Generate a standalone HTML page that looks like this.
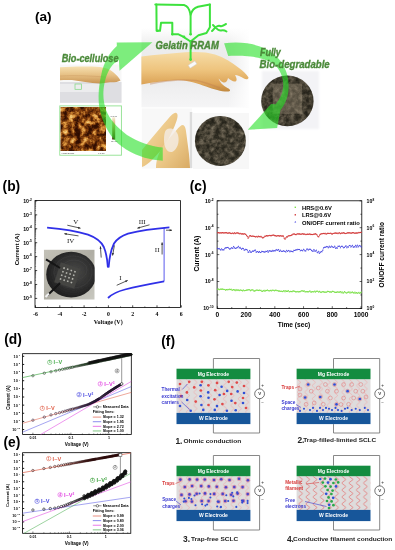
<!DOCTYPE html><html><head><meta charset="utf-8"><title>Gelatin RRAM</title><style>html,body{margin:0;padding:0;background:#fff;}svg{display:block;}</style></head><body>
<svg width="395" height="550" viewBox="0 0 395 550">
<defs>
<filter id="afm" x="0" y="0" width="100%" height="100%" color-interpolation-filters="sRGB">
 <feTurbulence type="fractalNoise" baseFrequency="0.16" numOctaves="4" seed="5"/>
 <feColorMatrix type="matrix" values="1 0 0 0 0  1 0 0 0 0  1 0 0 0 0  0 0 0 0 1"/>
 <feComponentTransfer>
  <feFuncR type="table" tableValues="0.15 0.17 0.22 0.5 0.84 0.96 1"/>
  <feFuncG type="table" tableValues="0.03 0.04 0.07 0.24 0.56 0.8 0.9"/>
  <feFuncB type="table" tableValues="0 0 0.01 0.05 0.22 0.48 0.6"/>
 </feComponentTransfer>
</filter>
<filter id="soil" x="0" y="0" width="100%" height="100%" color-interpolation-filters="sRGB">
 <feTurbulence type="fractalNoise" baseFrequency="0.2" numOctaves="4" seed="9"/>
 <feColorMatrix type="matrix" values="1 0 0 0 0  1 0 0 0 0  1 0 0 0 0  0 0 0 0 1"/>
 <feComponentTransfer>
  <feFuncR type="table" tableValues="0.12 0.14 0.18 0.27 0.38 0.47 0.53"/>
  <feFuncG type="table" tableValues="0.11 0.13 0.17 0.25 0.35 0.44 0.5"/>
  <feFuncB type="table" tableValues="0.09 0.1 0.13 0.2 0.29 0.37 0.42"/>
 </feComponentTransfer>
</filter>
<filter id="blur1"><feGaussianBlur stdDeviation="0.6"/></filter>
<filter id="blur2"><feGaussianBlur stdDeviation="1.2"/></filter>
<linearGradient id="skin" x1="0" y1="0" x2="0" y2="1">
 <stop offset="0" stop-color="#f6dca6"/><stop offset="0.45" stop-color="#eec47e"/><stop offset="0.8" stop-color="#dca458"/><stop offset="1" stop-color="#c08840"/>
</linearGradient>
<linearGradient id="skin2" x1="0" y1="0" x2="0" y2="1"><stop offset="0" stop-color="#f6e0b0"/><stop offset="0.5" stop-color="#e6c084"/><stop offset="1" stop-color="#c89454"/></linearGradient>
<linearGradient id="cbar" x1="0" y1="0" x2="0" y2="1">
 <stop offset="0" stop-color="#f8f0d8"/><stop offset="0.4" stop-color="#d0a060"/><stop offset="1" stop-color="#3a2000"/>
</linearGradient>
<linearGradient id="bgphoto" x1="0" y1="0" x2="0" y2="1">
 <stop offset="0" stop-color="#f0f0f0"/><stop offset="0.6" stop-color="#e9e9ea"/><stop offset="1" stop-color="#e6e6e8"/>
</linearGradient>
<clipPath id="disc1"><ellipse cx="287.4" cy="100.9" rx="26.2" ry="25.3"/></clipPath>
<clipPath id="disc2"><ellipse cx="220.4" cy="140.9" rx="25.5" ry="25"/></clipPath>
<clipPath id="afmclip"><rect x="60.5" y="107" width="45.5" height="44"/></clipPath>
<clipPath id="insetclip"><rect x="43.8" y="249.6" width="50.9" height="50.1"/></clipPath>
</defs>
<rect x="0" y="0" width="395" height="550" fill="#fff"/>
<text x="35.00" y="21.10" font-size="13.6" font-weight="bold" fill="#000" text-anchor="start" font-family='"Liberation Sans", Arial, sans-serif' font-style="normal" >(a)</text>
<g filter="url(#blur1)">
<rect x="60" y="64.5" width="61.5" height="38.3" fill="#f7f7f7"/>
<rect x="60" y="82" width="61.5" height="20.8" fill="#dedee2"/>
<rect x="60" y="84" width="40" height="8" fill="#ececee"/>
<path d="M60,67.2 C72,66.5 88,66.2 100,67 C106,67.5 110,69.5 113,72 C116,74.5 119,77.5 120.5,80.5 C118,82 114,82.5 110,82.3 L100,83.5 C90,83 80,81 72,80 C67,79.8 63,80 60,80.2 Z" fill="url(#skin2)"/>
<path d="M60,76 C75,75 92,76 105,77" stroke="#c08850" stroke-width="0.6" fill="none" opacity="0.5"/>
</g>
<rect x="75" y="84" width="6.5" height="5.3" fill="none" stroke="#7ed67e" stroke-width="0.7"/>
<rect x="59.8" y="105.9" width="61.6" height="49.3" fill="#fff" stroke="#8fe08f" stroke-width="0.9"/>
<g clip-path="url(#afmclip)"><rect x="60.5" y="107" width="45.5" height="44" filter="url(#afm)"/></g>
<rect x="112.2" y="117.2" width="3" height="22.3" fill="url(#cbar)"/>
<rect x="60.5" y="151.3" width="45.5" height="3" fill="#fff"/>
<text x="61.50" y="153.60" font-size="2.0" font-weight="normal" fill="#333" text-anchor="start" font-family='"Liberation Sans", Arial, sans-serif' font-style="normal" >Height Sensor</text>
<text x="104.50" y="153.60" font-size="2.0" font-weight="normal" fill="#333" text-anchor="end" font-family='"Liberation Sans", Arial, sans-serif' font-style="normal" >1.0 µm</text>
<text x="110.50" y="116.50" font-size="1.8" font-weight="normal" fill="#444" text-anchor="start" font-family='"Liberation Sans", Arial, sans-serif' font-style="normal" >77.3 µm</text>
<text x="110.50" y="141.80" font-size="1.8" font-weight="normal" fill="#444" text-anchor="start" font-family='"Liberation Sans", Arial, sans-serif' font-style="normal" >-95.1 nm</text>
<defs><linearGradient id="bg2" x1="0" y1="0" x2="0" y2="1"><stop offset="0" stop-color="#ffffff"/><stop offset="0.22" stop-color="#ededed"/><stop offset="0.6" stop-color="#e9e9ea"/><stop offset="0.8" stop-color="#f0f0f1"/><stop offset="1" stop-color="#f5f5f6"/></linearGradient><linearGradient id="fadeR" x1="0" y1="0" x2="1" y2="0"><stop offset="0" stop-color="#fff" stop-opacity="0"/><stop offset="1" stop-color="#fff" stop-opacity="0.9"/></linearGradient></defs>
<g filter="url(#blur1)">
<rect x="141.5" y="28" width="107.5" height="79.3" fill="url(#bg2)"/>
<rect x="228" y="28" width="21" height="79.3" fill="url(#fadeR)"/>
<path d="M141.4,56.5 C155,55 170,53.5 185,52.3 C197,51.5 207,52 215,54.5 C224,57.5 232,62.5 239,68 C243,71 247,74.5 248.5,77.5 C248.5,79.5 246,79.8 243.5,78.3 C240.5,76.5 237.5,75 235,75 C236.5,77.5 237.5,80.5 235.5,81.5 C233,82 230,79.5 228,78 C227.5,80.5 226,83 223.5,82.5 C221,82 220,79.5 218.5,78.5 C219.5,82 223,85.5 227.5,88 C230.5,89.5 231,91 228.5,91.5 C223,92 214,89.5 206,86.5 C198,83.5 188,80.5 178,80 C165,80.5 152,82.5 141.4,84.5 Z" fill="url(#skin)"/>
<path d="M150,84 C165,80.5 180,79 196,80.5 C205,82 212,85 220,88" stroke="#c08050" stroke-width="1.6" fill="none" opacity="0.4"/>
</g>
<rect x="262" y="71" width="57" height="58" fill="#f3f3f6" filter="url(#blur2)"/>
<g clip-path="url(#disc1)"><rect x="260" y="74" width="56" height="54" filter="url(#soil)"/>
<rect x="260" y="74" width="56" height="54" fill="#2e2a22" opacity="0.12"/>
<rect x="272.7" y="83.6" width="29.3" height="30.2" fill="#a89c84" opacity="0.35" filter="url(#blur1)"/></g>
<defs><linearGradient id="hand" x1="0" y1="0" x2="1" y2="1"><stop offset="0" stop-color="#f6e0b0"/><stop offset="0.5" stop-color="#ecc888"/><stop offset="1" stop-color="#d8aa64"/></linearGradient></defs>
<g filter="url(#blur1)">
<rect x="141.8" y="108.5" width="50.2" height="60" fill="#f8f8f8"/>
<rect x="189.8" y="112" width="2.5" height="56" fill="#dcdcdc"/>
<path d="M142,150 C150,140 160,128 168,119 C171,115 174,112.5 176,112.8 C178,113.5 178,117 176.5,121 C174.5,127 171,134 168,140 C164,147 158,154 152,160 C149,163 145,166 142,167 Z" fill="url(#hand)"/>
<path d="M156,168 C156,160 159,152 163,146 C167,141 172,135 176.5,130 C179,127 181,125 183,125 C185.5,126 186,130 186.5,135 C187.5,143 189,152 189.5,160 L190,168 Z" fill="url(#hand)"/>
<path d="M166,130 C170,127 176,129 178,135 C180,142 177,150 172,152 C167,153 164,147 164,140 C164,135 164.5,132 166,130 Z" fill="#f4ece6" opacity="0.8"/>
</g>
<rect x="193" y="113" width="56" height="56" fill="#f7f7f7" filter="url(#blur1)"/>
<g clip-path="url(#disc2)"><rect x="193" y="114" width="56" height="54" filter="url(#soil)"/></g>
<g stroke="#3ee23e" stroke-width="2.0" fill="none" stroke-linecap="round" stroke-linejoin="round" filter="url(#blur1)">
<path d="M155.3,4.6 L184,5 C187.5,5.8 189.8,10 190.6,14.8 C191.8,10.5 194,8 198,6.8 L209.9,4.6"/>
<path d="M156.4,4.6 L156.6,30.8 L160,30.8 L161,22.8 L172.3,22.8 L172.3,34.2 L178,34.2 L182.6,36.4 L190.6,41.5"/>
<path d="M209.9,4.6 L209.9,27.3 L206.5,33 L198.5,35.3 L190.6,41.5"/>
<path d="M190.6,14.8 L190.6,34.2"/>
<path d="M190.6,41.5 L190.6,59.4"/>
<path d="M212,31 C215,28 217,25 220,26 C222.5,27 224,25 226,24 M213,25 C216,28 218,31 221,30.5 C223,30 225,30.5 226.5,31.5"/>
</g>
<circle cx="157.5" cy="30.8" r="1.3" fill="#3ee23e"/>
<circle cx="190.6" cy="34.2" r="1.3" fill="#3ee23e"/>
<circle cx="190.6" cy="59.6" r="1.3" fill="#3ee23e"/>
<circle cx="172.3" cy="34.2" r="1.3" fill="#3ee23e"/>
<circle cx="184" cy="36.8" r="1.3" fill="#3ee23e"/>
<rect x="188.5" y="62.8" width="8" height="3.6" rx="0.5" fill="#fafafa" stroke="#cfcfcf" stroke-width="0.5" transform="rotate(-32 192.5 64.6)"/>
<path d="M162.8,147.6 C150,146.5 137,141.5 127,135 C118,128 110,120 106,110 C103.3,102 102.8,93 104,86 C105.5,77 109,68 114,63.5 L118.9,60 L119.5,70.7 L152.4,42.3 L116.7,42.6 L116.9,46 C109,53 103.5,63 101.2,75 C98.6,86 97.8,98 99.5,108 C101.5,120 108,134 118,143.5 C128,152 142,158 153.7,159.7 L162.8,160.7 Z" fill="rgba(40,225,40,0.6)" filter="url(#blur1)"/>
<path d="M224.1,43.2 C245,40.5 265,45 277,57 C285,65 289,76 288.6,88 C288.4,96 285.5,104 280.5,110 L277.1,128.1 L247.8,129.8 L271.1,103.9 L275.5,104.2 C280,99 283,93 283.2,86 C283.5,77 280,69 273,63.5 C263,57 248,55.2 228.2,55.9 Z" fill="rgba(40,225,40,0.6)" filter="url(#blur1)"/>
<text x="61.7" y="61.6" font-size="10.4" font-weight="bold" font-style="italic" fill="#4b8a3a" stroke="#4b8a3a" stroke-width="0.35" font-family='"Liberation Sans", Arial, sans-serif' textLength="56.8" lengthAdjust="spacingAndGlyphs">Bio-cellulose</text>
<text x="155.6" y="48.8" font-size="10.4" font-weight="bold" font-style="italic" fill="#4b8a3a" stroke="#4b8a3a" stroke-width="0.35" font-family='"Liberation Sans", Arial, sans-serif' textLength="63.2" lengthAdjust="spacingAndGlyphs">Gelatin RRAM</text>
<text x="260" y="55.9" font-size="10.4" font-weight="bold" font-style="italic" fill="#4b8a3a" stroke="#4b8a3a" stroke-width="0.35" font-family='"Liberation Sans", Arial, sans-serif' textLength="20.8" lengthAdjust="spacingAndGlyphs">Fully</text>
<text x="259.5" y="68.4" font-size="10.4" font-weight="bold" font-style="italic" fill="#4b8a3a" stroke="#4b8a3a" stroke-width="0.35" font-family='"Liberation Sans", Arial, sans-serif' textLength="70.2" lengthAdjust="spacingAndGlyphs">Bio-degradable</text>
<text x="2.60" y="191.40" font-size="13.8" font-weight="bold" fill="#000" text-anchor="start" font-family='"Liberation Sans", Arial, sans-serif' font-style="normal" >(b)</text>
<rect x="35.0" y="200.6" width="145.5" height="106.9" fill="none" stroke="#000" stroke-width="0.8"/>
<line x1="35.00" y1="200.90" x2="37.20" y2="200.90" stroke="#000" stroke-width="0.7" />
<text x="31.80" y="202.80" font-size="5.2" font-weight="bold" fill="#000" text-anchor="end" font-family='"Liberation Sans", Arial, sans-serif'>10<tspan font-size="3.22" dy="-2.18">-2</tspan></text>
<line x1="35.00" y1="214.83" x2="37.20" y2="214.83" stroke="#000" stroke-width="0.7" />
<text x="31.80" y="216.73" font-size="5.2" font-weight="bold" fill="#000" text-anchor="end" font-family='"Liberation Sans", Arial, sans-serif'>10<tspan font-size="3.22" dy="-2.18">-3</tspan></text>
<line x1="35.00" y1="210.64" x2="36.10" y2="210.64" stroke="#000" stroke-width="0.4" />
<line x1="35.00" y1="208.18" x2="36.10" y2="208.18" stroke="#000" stroke-width="0.4" />
<line x1="35.00" y1="206.44" x2="36.10" y2="206.44" stroke="#000" stroke-width="0.4" />
<line x1="35.00" y1="205.09" x2="36.10" y2="205.09" stroke="#000" stroke-width="0.4" />
<line x1="35.00" y1="203.99" x2="36.10" y2="203.99" stroke="#000" stroke-width="0.4" />
<line x1="35.00" y1="203.06" x2="36.10" y2="203.06" stroke="#000" stroke-width="0.4" />
<line x1="35.00" y1="202.25" x2="36.10" y2="202.25" stroke="#000" stroke-width="0.4" />
<line x1="35.00" y1="201.54" x2="36.10" y2="201.54" stroke="#000" stroke-width="0.4" />
<line x1="35.00" y1="228.76" x2="37.20" y2="228.76" stroke="#000" stroke-width="0.7" />
<text x="31.80" y="230.66" font-size="5.2" font-weight="bold" fill="#000" text-anchor="end" font-family='"Liberation Sans", Arial, sans-serif'>10<tspan font-size="3.22" dy="-2.18">-4</tspan></text>
<line x1="35.00" y1="224.57" x2="36.10" y2="224.57" stroke="#000" stroke-width="0.4" />
<line x1="35.00" y1="222.11" x2="36.10" y2="222.11" stroke="#000" stroke-width="0.4" />
<line x1="35.00" y1="220.37" x2="36.10" y2="220.37" stroke="#000" stroke-width="0.4" />
<line x1="35.00" y1="219.02" x2="36.10" y2="219.02" stroke="#000" stroke-width="0.4" />
<line x1="35.00" y1="217.92" x2="36.10" y2="217.92" stroke="#000" stroke-width="0.4" />
<line x1="35.00" y1="216.99" x2="36.10" y2="216.99" stroke="#000" stroke-width="0.4" />
<line x1="35.00" y1="216.18" x2="36.10" y2="216.18" stroke="#000" stroke-width="0.4" />
<line x1="35.00" y1="215.47" x2="36.10" y2="215.47" stroke="#000" stroke-width="0.4" />
<line x1="35.00" y1="242.69" x2="37.20" y2="242.69" stroke="#000" stroke-width="0.7" />
<text x="31.80" y="244.59" font-size="5.2" font-weight="bold" fill="#000" text-anchor="end" font-family='"Liberation Sans", Arial, sans-serif'>10<tspan font-size="3.22" dy="-2.18">-5</tspan></text>
<line x1="35.00" y1="238.50" x2="36.10" y2="238.50" stroke="#000" stroke-width="0.4" />
<line x1="35.00" y1="236.04" x2="36.10" y2="236.04" stroke="#000" stroke-width="0.4" />
<line x1="35.00" y1="234.30" x2="36.10" y2="234.30" stroke="#000" stroke-width="0.4" />
<line x1="35.00" y1="232.95" x2="36.10" y2="232.95" stroke="#000" stroke-width="0.4" />
<line x1="35.00" y1="231.85" x2="36.10" y2="231.85" stroke="#000" stroke-width="0.4" />
<line x1="35.00" y1="230.92" x2="36.10" y2="230.92" stroke="#000" stroke-width="0.4" />
<line x1="35.00" y1="230.11" x2="36.10" y2="230.11" stroke="#000" stroke-width="0.4" />
<line x1="35.00" y1="229.40" x2="36.10" y2="229.40" stroke="#000" stroke-width="0.4" />
<line x1="35.00" y1="256.62" x2="37.20" y2="256.62" stroke="#000" stroke-width="0.7" />
<text x="31.80" y="258.52" font-size="5.2" font-weight="bold" fill="#000" text-anchor="end" font-family='"Liberation Sans", Arial, sans-serif'>10<tspan font-size="3.22" dy="-2.18">-6</tspan></text>
<line x1="35.00" y1="252.43" x2="36.10" y2="252.43" stroke="#000" stroke-width="0.4" />
<line x1="35.00" y1="249.97" x2="36.10" y2="249.97" stroke="#000" stroke-width="0.4" />
<line x1="35.00" y1="248.23" x2="36.10" y2="248.23" stroke="#000" stroke-width="0.4" />
<line x1="35.00" y1="246.88" x2="36.10" y2="246.88" stroke="#000" stroke-width="0.4" />
<line x1="35.00" y1="245.78" x2="36.10" y2="245.78" stroke="#000" stroke-width="0.4" />
<line x1="35.00" y1="244.85" x2="36.10" y2="244.85" stroke="#000" stroke-width="0.4" />
<line x1="35.00" y1="244.04" x2="36.10" y2="244.04" stroke="#000" stroke-width="0.4" />
<line x1="35.00" y1="243.33" x2="36.10" y2="243.33" stroke="#000" stroke-width="0.4" />
<line x1="35.00" y1="270.55" x2="37.20" y2="270.55" stroke="#000" stroke-width="0.7" />
<text x="31.80" y="272.45" font-size="5.2" font-weight="bold" fill="#000" text-anchor="end" font-family='"Liberation Sans", Arial, sans-serif'>10<tspan font-size="3.22" dy="-2.18">-7</tspan></text>
<line x1="35.00" y1="266.36" x2="36.10" y2="266.36" stroke="#000" stroke-width="0.4" />
<line x1="35.00" y1="263.90" x2="36.10" y2="263.90" stroke="#000" stroke-width="0.4" />
<line x1="35.00" y1="262.16" x2="36.10" y2="262.16" stroke="#000" stroke-width="0.4" />
<line x1="35.00" y1="260.81" x2="36.10" y2="260.81" stroke="#000" stroke-width="0.4" />
<line x1="35.00" y1="259.71" x2="36.10" y2="259.71" stroke="#000" stroke-width="0.4" />
<line x1="35.00" y1="258.78" x2="36.10" y2="258.78" stroke="#000" stroke-width="0.4" />
<line x1="35.00" y1="257.97" x2="36.10" y2="257.97" stroke="#000" stroke-width="0.4" />
<line x1="35.00" y1="257.26" x2="36.10" y2="257.26" stroke="#000" stroke-width="0.4" />
<line x1="35.00" y1="284.48" x2="37.20" y2="284.48" stroke="#000" stroke-width="0.7" />
<text x="31.80" y="286.38" font-size="5.2" font-weight="bold" fill="#000" text-anchor="end" font-family='"Liberation Sans", Arial, sans-serif'>10<tspan font-size="3.22" dy="-2.18">-8</tspan></text>
<line x1="35.00" y1="280.29" x2="36.10" y2="280.29" stroke="#000" stroke-width="0.4" />
<line x1="35.00" y1="277.83" x2="36.10" y2="277.83" stroke="#000" stroke-width="0.4" />
<line x1="35.00" y1="276.09" x2="36.10" y2="276.09" stroke="#000" stroke-width="0.4" />
<line x1="35.00" y1="274.74" x2="36.10" y2="274.74" stroke="#000" stroke-width="0.4" />
<line x1="35.00" y1="273.64" x2="36.10" y2="273.64" stroke="#000" stroke-width="0.4" />
<line x1="35.00" y1="272.71" x2="36.10" y2="272.71" stroke="#000" stroke-width="0.4" />
<line x1="35.00" y1="271.90" x2="36.10" y2="271.90" stroke="#000" stroke-width="0.4" />
<line x1="35.00" y1="271.19" x2="36.10" y2="271.19" stroke="#000" stroke-width="0.4" />
<line x1="35.00" y1="298.41" x2="37.20" y2="298.41" stroke="#000" stroke-width="0.7" />
<text x="31.80" y="300.31" font-size="5.2" font-weight="bold" fill="#000" text-anchor="end" font-family='"Liberation Sans", Arial, sans-serif'>10<tspan font-size="3.22" dy="-2.18">-9</tspan></text>
<line x1="35.00" y1="294.22" x2="36.10" y2="294.22" stroke="#000" stroke-width="0.4" />
<line x1="35.00" y1="291.76" x2="36.10" y2="291.76" stroke="#000" stroke-width="0.4" />
<line x1="35.00" y1="290.02" x2="36.10" y2="290.02" stroke="#000" stroke-width="0.4" />
<line x1="35.00" y1="288.67" x2="36.10" y2="288.67" stroke="#000" stroke-width="0.4" />
<line x1="35.00" y1="287.57" x2="36.10" y2="287.57" stroke="#000" stroke-width="0.4" />
<line x1="35.00" y1="286.64" x2="36.10" y2="286.64" stroke="#000" stroke-width="0.4" />
<line x1="35.00" y1="285.83" x2="36.10" y2="285.83" stroke="#000" stroke-width="0.4" />
<line x1="35.00" y1="285.12" x2="36.10" y2="285.12" stroke="#000" stroke-width="0.4" />
<line x1="35.50" y1="307.50" x2="35.50" y2="305.30" stroke="#000" stroke-width="0.7" />
<text x="35.50" y="316.40" font-size="5.8" font-weight="bold" fill="#000" text-anchor="middle" font-family='"Liberation Serif", "Times New Roman", serif' font-style="normal" >-6</text>
<line x1="59.80" y1="307.50" x2="59.80" y2="305.30" stroke="#000" stroke-width="0.7" />
<text x="59.80" y="316.40" font-size="5.8" font-weight="bold" fill="#000" text-anchor="middle" font-family='"Liberation Serif", "Times New Roman", serif' font-style="normal" >-4</text>
<line x1="84.10" y1="307.50" x2="84.10" y2="305.30" stroke="#000" stroke-width="0.7" />
<text x="84.10" y="316.40" font-size="5.8" font-weight="bold" fill="#000" text-anchor="middle" font-family='"Liberation Serif", "Times New Roman", serif' font-style="normal" >-2</text>
<line x1="108.40" y1="307.50" x2="108.40" y2="305.30" stroke="#000" stroke-width="0.7" />
<text x="108.40" y="316.40" font-size="5.8" font-weight="bold" fill="#000" text-anchor="middle" font-family='"Liberation Serif", "Times New Roman", serif' font-style="normal" >0</text>
<line x1="132.70" y1="307.50" x2="132.70" y2="305.30" stroke="#000" stroke-width="0.7" />
<text x="132.70" y="316.40" font-size="5.8" font-weight="bold" fill="#000" text-anchor="middle" font-family='"Liberation Serif", "Times New Roman", serif' font-style="normal" >2</text>
<line x1="157.00" y1="307.50" x2="157.00" y2="305.30" stroke="#000" stroke-width="0.7" />
<text x="157.00" y="316.40" font-size="5.8" font-weight="bold" fill="#000" text-anchor="middle" font-family='"Liberation Serif", "Times New Roman", serif' font-style="normal" >4</text>
<line x1="181.30" y1="307.50" x2="181.30" y2="305.30" stroke="#000" stroke-width="0.7" />
<text x="181.30" y="316.40" font-size="5.8" font-weight="bold" fill="#000" text-anchor="middle" font-family='"Liberation Serif", "Times New Roman", serif' font-style="normal" >6</text>
<line x1="47.65" y1="307.50" x2="47.65" y2="306.30" stroke="#000" stroke-width="0.5" />
<line x1="71.95" y1="307.50" x2="71.95" y2="306.30" stroke="#000" stroke-width="0.5" />
<line x1="96.25" y1="307.50" x2="96.25" y2="306.30" stroke="#000" stroke-width="0.5" />
<line x1="120.55" y1="307.50" x2="120.55" y2="306.30" stroke="#000" stroke-width="0.5" />
<line x1="144.85" y1="307.50" x2="144.85" y2="306.30" stroke="#000" stroke-width="0.5" />
<line x1="169.15" y1="307.50" x2="169.15" y2="306.30" stroke="#000" stroke-width="0.5" />
<text x="108.20" y="323.60" font-size="6.0" font-weight="bold" fill="#000" text-anchor="middle" font-family='"Liberation Serif", "Times New Roman", serif' font-style="normal" >Voltage (V)</text>
<text x="0" y="0" font-size="6.0" font-weight="bold" fill="#000" text-anchor="middle" font-family='"Liberation Sans", Arial, sans-serif' transform="translate(18.8 249.4) rotate(-90)">Current (A)</text>
<defs><radialGradient id="discg" cx="0.55" cy="0.45" r="0.6"><stop offset="0" stop-color="#4a4a48"/><stop offset="0.6" stop-color="#303030"/><stop offset="1" stop-color="#1c1c1c"/></radialGradient><linearGradient id="insetbg" x1="0" y1="0" x2="1" y2="1"><stop offset="0" stop-color="#c4c2b8"/><stop offset="0.5" stop-color="#b0aea4"/><stop offset="1" stop-color="#c8c8c0"/></linearGradient></defs>
<g clip-path="url(#insetclip)" filter="url(#blur1)">
<rect x="43.8" y="249.6" width="50.9" height="50.1" fill="url(#insetbg)"/>
<ellipse cx="71.2" cy="274.6" rx="25" ry="22.8" fill="url(#discg)"/>
<ellipse cx="73" cy="272" rx="19" ry="16" fill="none" stroke="#444" stroke-width="0.8" opacity="0.6"/>
<ellipse cx="74" cy="270" rx="13" ry="10" fill="none" stroke="#484848" stroke-width="0.8" opacity="0.5"/>
<g transform="rotate(18 67.4 275.4)"><rect x="57" y="265" width="21" height="21" fill="#444442"/>
<rect x="61.2" y="268.7" width="1.6" height="1.6" fill="#b4b4ac"/>
<rect x="61.2" y="272.5" width="1.6" height="1.6" fill="#b4b4ac"/>
<rect x="61.2" y="276.3" width="1.6" height="1.6" fill="#b4b4ac"/>
<rect x="61.2" y="280.1" width="1.6" height="1.6" fill="#b4b4ac"/>
<rect x="65.0" y="268.7" width="1.6" height="1.6" fill="#b4b4ac"/>
<rect x="65.0" y="272.5" width="1.6" height="1.6" fill="#b4b4ac"/>
<rect x="65.0" y="276.3" width="1.6" height="1.6" fill="#b4b4ac"/>
<rect x="65.0" y="280.1" width="1.6" height="1.6" fill="#b4b4ac"/>
<rect x="68.8" y="268.7" width="1.6" height="1.6" fill="#b4b4ac"/>
<rect x="68.8" y="272.5" width="1.6" height="1.6" fill="#b4b4ac"/>
<rect x="68.8" y="276.3" width="1.6" height="1.6" fill="#b4b4ac"/>
<rect x="68.8" y="280.1" width="1.6" height="1.6" fill="#b4b4ac"/>
<rect x="72.6" y="268.7" width="1.6" height="1.6" fill="#b4b4ac"/>
<rect x="72.6" y="272.5" width="1.6" height="1.6" fill="#b4b4ac"/>
<rect x="72.6" y="276.3" width="1.6" height="1.6" fill="#b4b4ac"/>
<rect x="72.6" y="280.1" width="1.6" height="1.6" fill="#b4b4ac"/>
</g>
<path d="M46,259.4 L60,268" stroke="#151515" stroke-width="2"/>
<path d="M47.6,295.2 L60,283" stroke="#151515" stroke-width="2"/>
<path d="M45.5,297 L49,293.5" stroke="#f0f0f0" stroke-width="2.2"/>
</g>
<path d="M47.1,227.6 C60,228.6 75,230.5 88,234.6 C96,237.5 101,241 103.8,247 C106,252 107.3,259 107.9,267.5" stroke="#3030e8" stroke-width="1.8" fill="none" />
<path d="M108.6,267.5 C109.2,259 110.8,250 114,243.5 C117.5,238 122,235.6 128,233.6 C140,230.6 155,228.5 169.4,227.3" stroke="#3030e8" stroke-width="1.8" fill="none" />
<path d="M108,298 C112,294 117,291.5 125,289.5 C135,287 150,284 164.1,281.4" stroke="#3030e8" stroke-width="1.8" fill="none" />
<line x1="164.10" y1="227.80" x2="164.10" y2="281.40" stroke="#3030e8" stroke-width="0.8" />
<line x1="67.30" y1="225.20" x2="80.50" y2="228.20" stroke="#222" stroke-width="0.75" />
<polygon points="80.50,228.20 77.94,228.64 78.38,226.69" fill="#222"/>
<line x1="78.50" y1="235.90" x2="64.30" y2="233.70" stroke="#222" stroke-width="0.75" />
<polygon points="64.30,233.70 66.82,233.08 66.52,235.06" fill="#222"/>
<line x1="149.50" y1="224.80" x2="137.40" y2="228.20" stroke="#222" stroke-width="0.75" />
<polygon points="137.40,228.20 139.44,226.59 139.98,228.51" fill="#222"/>
<line x1="162.10" y1="254.50" x2="162.10" y2="242.40" stroke="#222" stroke-width="0.75" />
<polygon points="162.10,242.40 163.10,244.80 161.10,244.80" fill="#222"/>
<line x1="166.00" y1="230.20" x2="172.00" y2="230.20" stroke="#222" stroke-width="0.75" />
<polygon points="172.00,230.20 169.60,231.20 169.60,229.20" fill="#222"/>
<line x1="116.70" y1="285.30" x2="127.70" y2="280.40" stroke="#222" stroke-width="0.75" />
<polygon points="127.70,280.40 125.91,282.29 125.10,280.46" fill="#222"/>
<line x1="101.20" y1="257.60" x2="100.40" y2="246.40" stroke="#222" stroke-width="0.75" />
<polygon points="100.40,246.40 101.57,248.72 99.57,248.87" fill="#222"/>
<line x1="114.40" y1="245.40" x2="112.60" y2="255.50" stroke="#222" stroke-width="0.75" />
<polygon points="112.60,255.50 112.04,252.96 114.01,253.31" fill="#222"/>
<text x="75.80" y="223.90" font-size="7.0" font-weight="normal" fill="#222" text-anchor="middle" font-family='"Liberation Serif", "Times New Roman", serif' font-style="normal" >V</text>
<text x="70.60" y="242.60" font-size="7.0" font-weight="normal" fill="#222" text-anchor="middle" font-family='"Liberation Serif", "Times New Roman", serif' font-style="normal" >IV</text>
<text x="142.20" y="223.60" font-size="7.0" font-weight="normal" fill="#222" text-anchor="middle" font-family='"Liberation Serif", "Times New Roman", serif' font-style="normal" >III</text>
<text x="157.20" y="252.30" font-size="7.0" font-weight="normal" fill="#222" text-anchor="middle" font-family='"Liberation Serif", "Times New Roman", serif' font-style="normal" >II</text>
<text x="120.30" y="279.60" font-size="7.0" font-weight="normal" fill="#222" text-anchor="middle" font-family='"Liberation Serif", "Times New Roman", serif' font-style="normal" >I</text>
<text x="189.70" y="191.40" font-size="13.8" font-weight="bold" fill="#000" text-anchor="start" font-family='"Liberation Sans", Arial, sans-serif' font-style="normal" >(c)</text>
<rect x="217.1" y="200.8" width="144.70000000000002" height="107.59999999999997" fill="none" stroke="#000" stroke-width="0.8"/>
<line x1="217.10" y1="200.80" x2="219.30" y2="200.80" stroke="#000" stroke-width="0.6" />
<line x1="361.80" y1="200.80" x2="359.60" y2="200.80" stroke="#000" stroke-width="0.6" />
<line x1="217.10" y1="214.25" x2="218.50" y2="214.25" stroke="#000" stroke-width="0.6" />
<line x1="361.80" y1="214.25" x2="360.40" y2="214.25" stroke="#000" stroke-width="0.6" />
<line x1="217.10" y1="227.70" x2="219.30" y2="227.70" stroke="#000" stroke-width="0.6" />
<line x1="361.80" y1="227.70" x2="359.60" y2="227.70" stroke="#000" stroke-width="0.6" />
<line x1="217.10" y1="241.15" x2="218.50" y2="241.15" stroke="#000" stroke-width="0.6" />
<line x1="361.80" y1="241.15" x2="360.40" y2="241.15" stroke="#000" stroke-width="0.6" />
<line x1="217.10" y1="254.60" x2="219.30" y2="254.60" stroke="#000" stroke-width="0.6" />
<line x1="361.80" y1="254.60" x2="359.60" y2="254.60" stroke="#000" stroke-width="0.6" />
<line x1="217.10" y1="268.05" x2="218.50" y2="268.05" stroke="#000" stroke-width="0.6" />
<line x1="361.80" y1="268.05" x2="360.40" y2="268.05" stroke="#000" stroke-width="0.6" />
<line x1="217.10" y1="281.50" x2="219.30" y2="281.50" stroke="#000" stroke-width="0.6" />
<line x1="361.80" y1="281.50" x2="359.60" y2="281.50" stroke="#000" stroke-width="0.6" />
<line x1="217.10" y1="294.95" x2="218.50" y2="294.95" stroke="#000" stroke-width="0.6" />
<line x1="361.80" y1="294.95" x2="360.40" y2="294.95" stroke="#000" stroke-width="0.6" />
<line x1="217.10" y1="308.40" x2="219.30" y2="308.40" stroke="#000" stroke-width="0.6" />
<line x1="361.80" y1="308.40" x2="359.60" y2="308.40" stroke="#000" stroke-width="0.6" />
<text x="213.60" y="202.70" font-size="5.2" font-weight="bold" fill="#000" text-anchor="end" font-family='"Liberation Sans", Arial, sans-serif'>10<tspan font-size="3.22" dy="-2.18">-2</tspan></text>
<text x="366.6" y="202.70" font-size="5.2" font-weight="bold" fill="#000" font-family='"Liberation Sans", Arial, sans-serif'>10<tspan font-size="3.2" dy="-2.2">8</tspan></text>
<text x="213.60" y="229.60" font-size="5.2" font-weight="bold" fill="#000" text-anchor="end" font-family='"Liberation Sans", Arial, sans-serif'>10<tspan font-size="3.22" dy="-2.18">-4</tspan></text>
<text x="366.6" y="229.60" font-size="5.2" font-weight="bold" fill="#000" font-family='"Liberation Sans", Arial, sans-serif'>10<tspan font-size="3.2" dy="-2.2">6</tspan></text>
<text x="213.60" y="256.50" font-size="5.2" font-weight="bold" fill="#000" text-anchor="end" font-family='"Liberation Sans", Arial, sans-serif'>10<tspan font-size="3.22" dy="-2.18">-6</tspan></text>
<text x="366.6" y="256.50" font-size="5.2" font-weight="bold" fill="#000" font-family='"Liberation Sans", Arial, sans-serif'>10<tspan font-size="3.2" dy="-2.2">4</tspan></text>
<text x="213.60" y="283.40" font-size="5.2" font-weight="bold" fill="#000" text-anchor="end" font-family='"Liberation Sans", Arial, sans-serif'>10<tspan font-size="3.22" dy="-2.18">-8</tspan></text>
<text x="366.6" y="283.40" font-size="5.2" font-weight="bold" fill="#000" font-family='"Liberation Sans", Arial, sans-serif'>10<tspan font-size="3.2" dy="-2.2">2</tspan></text>
<text x="213.60" y="310.30" font-size="5.2" font-weight="bold" fill="#000" text-anchor="end" font-family='"Liberation Sans", Arial, sans-serif'>10<tspan font-size="3.22" dy="-2.18">-10</tspan></text>
<text x="366.6" y="310.30" font-size="5.2" font-weight="bold" fill="#000" font-family='"Liberation Sans", Arial, sans-serif'>10<tspan font-size="3.2" dy="-2.2">0</tspan></text>
<line x1="217.40" y1="308.40" x2="217.40" y2="306.20" stroke="#000" stroke-width="0.6" />
<line x1="231.76" y1="308.40" x2="231.76" y2="307.10" stroke="#000" stroke-width="0.6" />
<line x1="246.12" y1="308.40" x2="246.12" y2="306.20" stroke="#000" stroke-width="0.6" />
<line x1="260.48" y1="308.40" x2="260.48" y2="307.10" stroke="#000" stroke-width="0.6" />
<line x1="274.84" y1="308.40" x2="274.84" y2="306.20" stroke="#000" stroke-width="0.6" />
<line x1="289.20" y1="308.40" x2="289.20" y2="307.10" stroke="#000" stroke-width="0.6" />
<line x1="303.56" y1="308.40" x2="303.56" y2="306.20" stroke="#000" stroke-width="0.6" />
<line x1="317.92" y1="308.40" x2="317.92" y2="307.10" stroke="#000" stroke-width="0.6" />
<line x1="332.28" y1="308.40" x2="332.28" y2="306.20" stroke="#000" stroke-width="0.6" />
<line x1="346.64" y1="308.40" x2="346.64" y2="307.10" stroke="#000" stroke-width="0.6" />
<line x1="361.00" y1="308.40" x2="361.00" y2="306.20" stroke="#000" stroke-width="0.6" />
<text x="217.40" y="316.90" font-size="6.6" font-weight="bold" fill="#000" text-anchor="middle" font-family='"Liberation Sans", Arial, sans-serif' font-style="normal" >0</text>
<text x="246.12" y="316.90" font-size="6.6" font-weight="bold" fill="#000" text-anchor="middle" font-family='"Liberation Sans", Arial, sans-serif' font-style="normal" >200</text>
<text x="274.84" y="316.90" font-size="6.6" font-weight="bold" fill="#000" text-anchor="middle" font-family='"Liberation Sans", Arial, sans-serif' font-style="normal" >400</text>
<text x="303.56" y="316.90" font-size="6.6" font-weight="bold" fill="#000" text-anchor="middle" font-family='"Liberation Sans", Arial, sans-serif' font-style="normal" >600</text>
<text x="332.28" y="316.90" font-size="6.6" font-weight="bold" fill="#000" text-anchor="middle" font-family='"Liberation Sans", Arial, sans-serif' font-style="normal" >800</text>
<text x="361.00" y="316.90" font-size="6.6" font-weight="bold" fill="#000" text-anchor="middle" font-family='"Liberation Sans", Arial, sans-serif' font-style="normal" >1000</text>
<text x="294.00" y="326.60" font-size="6.6" font-weight="bold" fill="#000" text-anchor="middle" font-family='"Liberation Sans", Arial, sans-serif' font-style="normal" >Time (sec)</text>
<text x="0" y="0" font-size="6.8" font-weight="bold" fill="#000" text-anchor="middle" font-family='"Liberation Sans", Arial, sans-serif' transform="translate(199.4 253.6) rotate(-90)">Current (A)</text>
<text x="0" y="0" font-size="6.6" font-weight="bold" fill="#000" text-anchor="middle" font-family='"Liberation Sans", Arial, sans-serif' transform="translate(384.2 254.7) rotate(-90)">ON/OFF current ratio</text>
<polyline points="217.60,232.75 218.40,232.61 219.21,233.08 220.01,232.57 220.81,233.00 221.61,232.87 222.42,232.61 223.22,233.03 224.02,232.62 224.83,232.99 225.63,232.68 226.43,232.71 227.23,233.03 228.04,233.40 228.84,232.79 229.64,232.89 230.44,233.27 231.25,233.57 232.05,233.26 232.85,233.11 233.66,233.65 234.46,232.82 235.26,233.57 236.06,233.07 236.87,232.96 237.67,232.95 238.47,233.20 239.28,233.77 240.08,233.31 240.88,233.79 241.68,233.95 242.49,233.83 243.29,234.10 244.09,233.78 244.89,233.89 245.70,234.45 246.50,235.36 247.30,236.38 248.11,238.23 248.91,236.98 249.71,235.78 250.51,235.75 251.32,236.30 252.12,236.31 252.92,236.01 253.73,236.40 254.53,236.46 255.33,236.85 256.13,236.74 256.94,236.37 257.74,237.02 258.54,236.27 259.35,236.56 260.15,236.89 260.95,236.37 261.75,237.10 262.56,237.83 263.36,237.66 264.16,237.01 264.96,236.10 265.77,236.25 266.57,235.65 267.37,235.90 268.18,235.72 268.98,235.62 269.78,235.41 270.58,235.67 271.39,235.67 272.19,235.20 272.99,235.45 273.80,234.98 274.60,235.64 275.40,235.67 276.20,236.06 277.01,235.99 277.81,235.59 278.61,235.76 279.42,236.09 280.22,235.60 281.02,236.11 281.82,235.96 282.63,236.03 283.43,236.09 284.23,238.25 285.03,239.21 285.84,237.92 286.64,236.84 287.44,236.93 288.25,235.87 289.05,235.86 289.85,235.60 290.65,235.56 291.46,235.15 292.26,234.85 293.06,234.00 293.87,234.12 294.67,234.07 295.47,234.55 296.27,234.61 297.08,233.89 297.88,233.91 298.68,233.96 299.48,233.96 300.29,234.19 301.09,234.28 301.89,233.99 302.70,233.75 303.50,234.13 304.30,234.08 305.10,234.26 305.91,234.61 306.71,234.37 307.51,234.21 308.32,234.31 309.12,234.36 309.92,233.80 310.72,234.56 311.53,234.45 312.33,234.54 313.13,234.47 313.94,234.10 314.74,234.11 315.54,233.84 316.34,234.32 317.15,235.03 317.95,236.56 318.75,236.81 319.55,235.11 320.36,234.28 321.16,233.87 321.96,233.66 322.77,233.63 323.57,233.44 324.37,233.65 325.17,233.32 325.98,234.06 326.78,233.80 327.58,233.35 328.39,233.42 329.19,233.48 329.99,233.47 330.79,233.23 331.60,233.85 332.40,233.96 333.20,233.46 334.01,233.45 334.81,233.07 335.61,233.05 336.41,233.25 337.22,233.15 338.02,233.63 338.82,233.00 339.62,232.85 340.43,233.66 341.23,233.26 342.03,232.89 342.84,233.22 343.64,232.73 344.44,233.16 345.24,233.53 346.05,233.41 346.85,233.23 347.65,232.81 348.46,232.88 349.26,232.68 350.06,233.19 350.86,232.95 351.67,233.15 352.47,232.72 353.27,232.60 354.07,233.10 354.88,233.23 355.68,233.09 356.48,233.02 357.29,233.01 358.09,232.91 358.89,232.42 359.69,232.66 360.50,232.49 361.30,232.18" fill="none" stroke="#d23a3a" stroke-width="0.5" opacity="0.8"/>
<rect x="217.05" y="232.20" width="1.1" height="1.1" fill="#d23a3a"/>
<rect x="217.85" y="232.06" width="1.1" height="1.1" fill="#d23a3a"/>
<rect x="218.66" y="232.53" width="1.1" height="1.1" fill="#d23a3a"/>
<rect x="219.46" y="232.02" width="1.1" height="1.1" fill="#d23a3a"/>
<rect x="220.26" y="232.45" width="1.1" height="1.1" fill="#d23a3a"/>
<rect x="221.06" y="232.32" width="1.1" height="1.1" fill="#d23a3a"/>
<rect x="221.87" y="232.06" width="1.1" height="1.1" fill="#d23a3a"/>
<rect x="222.67" y="232.48" width="1.1" height="1.1" fill="#d23a3a"/>
<rect x="223.47" y="232.07" width="1.1" height="1.1" fill="#d23a3a"/>
<rect x="224.28" y="232.44" width="1.1" height="1.1" fill="#d23a3a"/>
<rect x="225.08" y="232.13" width="1.1" height="1.1" fill="#d23a3a"/>
<rect x="225.88" y="232.16" width="1.1" height="1.1" fill="#d23a3a"/>
<rect x="226.68" y="232.48" width="1.1" height="1.1" fill="#d23a3a"/>
<rect x="227.49" y="232.85" width="1.1" height="1.1" fill="#d23a3a"/>
<rect x="228.29" y="232.24" width="1.1" height="1.1" fill="#d23a3a"/>
<rect x="229.09" y="232.34" width="1.1" height="1.1" fill="#d23a3a"/>
<rect x="229.89" y="232.72" width="1.1" height="1.1" fill="#d23a3a"/>
<rect x="230.70" y="233.02" width="1.1" height="1.1" fill="#d23a3a"/>
<rect x="231.50" y="232.71" width="1.1" height="1.1" fill="#d23a3a"/>
<rect x="232.30" y="232.56" width="1.1" height="1.1" fill="#d23a3a"/>
<rect x="233.11" y="233.10" width="1.1" height="1.1" fill="#d23a3a"/>
<rect x="233.91" y="232.27" width="1.1" height="1.1" fill="#d23a3a"/>
<rect x="234.71" y="233.02" width="1.1" height="1.1" fill="#d23a3a"/>
<rect x="235.51" y="232.52" width="1.1" height="1.1" fill="#d23a3a"/>
<rect x="236.32" y="232.41" width="1.1" height="1.1" fill="#d23a3a"/>
<rect x="237.12" y="232.40" width="1.1" height="1.1" fill="#d23a3a"/>
<rect x="237.92" y="232.65" width="1.1" height="1.1" fill="#d23a3a"/>
<rect x="238.73" y="233.22" width="1.1" height="1.1" fill="#d23a3a"/>
<rect x="239.53" y="232.76" width="1.1" height="1.1" fill="#d23a3a"/>
<rect x="240.33" y="233.24" width="1.1" height="1.1" fill="#d23a3a"/>
<rect x="241.13" y="233.40" width="1.1" height="1.1" fill="#d23a3a"/>
<rect x="241.94" y="233.28" width="1.1" height="1.1" fill="#d23a3a"/>
<rect x="242.74" y="233.55" width="1.1" height="1.1" fill="#d23a3a"/>
<rect x="243.54" y="233.23" width="1.1" height="1.1" fill="#d23a3a"/>
<rect x="244.34" y="233.34" width="1.1" height="1.1" fill="#d23a3a"/>
<rect x="245.15" y="233.90" width="1.1" height="1.1" fill="#d23a3a"/>
<rect x="245.95" y="234.81" width="1.1" height="1.1" fill="#d23a3a"/>
<rect x="246.75" y="235.83" width="1.1" height="1.1" fill="#d23a3a"/>
<rect x="247.56" y="237.68" width="1.1" height="1.1" fill="#d23a3a"/>
<rect x="248.36" y="236.43" width="1.1" height="1.1" fill="#d23a3a"/>
<rect x="249.16" y="235.23" width="1.1" height="1.1" fill="#d23a3a"/>
<rect x="249.96" y="235.20" width="1.1" height="1.1" fill="#d23a3a"/>
<rect x="250.77" y="235.75" width="1.1" height="1.1" fill="#d23a3a"/>
<rect x="251.57" y="235.76" width="1.1" height="1.1" fill="#d23a3a"/>
<rect x="252.37" y="235.46" width="1.1" height="1.1" fill="#d23a3a"/>
<rect x="253.18" y="235.85" width="1.1" height="1.1" fill="#d23a3a"/>
<rect x="253.98" y="235.91" width="1.1" height="1.1" fill="#d23a3a"/>
<rect x="254.78" y="236.30" width="1.1" height="1.1" fill="#d23a3a"/>
<rect x="255.58" y="236.19" width="1.1" height="1.1" fill="#d23a3a"/>
<rect x="256.39" y="235.82" width="1.1" height="1.1" fill="#d23a3a"/>
<rect x="257.19" y="236.47" width="1.1" height="1.1" fill="#d23a3a"/>
<rect x="257.99" y="235.72" width="1.1" height="1.1" fill="#d23a3a"/>
<rect x="258.80" y="236.01" width="1.1" height="1.1" fill="#d23a3a"/>
<rect x="259.60" y="236.34" width="1.1" height="1.1" fill="#d23a3a"/>
<rect x="260.40" y="235.82" width="1.1" height="1.1" fill="#d23a3a"/>
<rect x="261.20" y="236.55" width="1.1" height="1.1" fill="#d23a3a"/>
<rect x="262.01" y="237.28" width="1.1" height="1.1" fill="#d23a3a"/>
<rect x="262.81" y="237.11" width="1.1" height="1.1" fill="#d23a3a"/>
<rect x="263.61" y="236.46" width="1.1" height="1.1" fill="#d23a3a"/>
<rect x="264.41" y="235.55" width="1.1" height="1.1" fill="#d23a3a"/>
<rect x="265.22" y="235.70" width="1.1" height="1.1" fill="#d23a3a"/>
<rect x="266.02" y="235.10" width="1.1" height="1.1" fill="#d23a3a"/>
<rect x="266.82" y="235.35" width="1.1" height="1.1" fill="#d23a3a"/>
<rect x="267.63" y="235.17" width="1.1" height="1.1" fill="#d23a3a"/>
<rect x="268.43" y="235.07" width="1.1" height="1.1" fill="#d23a3a"/>
<rect x="269.23" y="234.86" width="1.1" height="1.1" fill="#d23a3a"/>
<rect x="270.03" y="235.12" width="1.1" height="1.1" fill="#d23a3a"/>
<rect x="270.84" y="235.12" width="1.1" height="1.1" fill="#d23a3a"/>
<rect x="271.64" y="234.65" width="1.1" height="1.1" fill="#d23a3a"/>
<rect x="272.44" y="234.90" width="1.1" height="1.1" fill="#d23a3a"/>
<rect x="273.25" y="234.43" width="1.1" height="1.1" fill="#d23a3a"/>
<rect x="274.05" y="235.09" width="1.1" height="1.1" fill="#d23a3a"/>
<rect x="274.85" y="235.12" width="1.1" height="1.1" fill="#d23a3a"/>
<rect x="275.65" y="235.51" width="1.1" height="1.1" fill="#d23a3a"/>
<rect x="276.46" y="235.44" width="1.1" height="1.1" fill="#d23a3a"/>
<rect x="277.26" y="235.04" width="1.1" height="1.1" fill="#d23a3a"/>
<rect x="278.06" y="235.21" width="1.1" height="1.1" fill="#d23a3a"/>
<rect x="278.87" y="235.54" width="1.1" height="1.1" fill="#d23a3a"/>
<rect x="279.67" y="235.05" width="1.1" height="1.1" fill="#d23a3a"/>
<rect x="280.47" y="235.56" width="1.1" height="1.1" fill="#d23a3a"/>
<rect x="281.27" y="235.41" width="1.1" height="1.1" fill="#d23a3a"/>
<rect x="282.08" y="235.48" width="1.1" height="1.1" fill="#d23a3a"/>
<rect x="282.88" y="235.54" width="1.1" height="1.1" fill="#d23a3a"/>
<rect x="283.68" y="237.70" width="1.1" height="1.1" fill="#d23a3a"/>
<rect x="284.48" y="238.66" width="1.1" height="1.1" fill="#d23a3a"/>
<rect x="285.29" y="237.37" width="1.1" height="1.1" fill="#d23a3a"/>
<rect x="286.09" y="236.29" width="1.1" height="1.1" fill="#d23a3a"/>
<rect x="286.89" y="236.38" width="1.1" height="1.1" fill="#d23a3a"/>
<rect x="287.70" y="235.32" width="1.1" height="1.1" fill="#d23a3a"/>
<rect x="288.50" y="235.31" width="1.1" height="1.1" fill="#d23a3a"/>
<rect x="289.30" y="235.05" width="1.1" height="1.1" fill="#d23a3a"/>
<rect x="290.10" y="235.01" width="1.1" height="1.1" fill="#d23a3a"/>
<rect x="290.91" y="234.60" width="1.1" height="1.1" fill="#d23a3a"/>
<rect x="291.71" y="234.30" width="1.1" height="1.1" fill="#d23a3a"/>
<rect x="292.51" y="233.45" width="1.1" height="1.1" fill="#d23a3a"/>
<rect x="293.32" y="233.57" width="1.1" height="1.1" fill="#d23a3a"/>
<rect x="294.12" y="233.52" width="1.1" height="1.1" fill="#d23a3a"/>
<rect x="294.92" y="234.00" width="1.1" height="1.1" fill="#d23a3a"/>
<rect x="295.72" y="234.06" width="1.1" height="1.1" fill="#d23a3a"/>
<rect x="296.53" y="233.34" width="1.1" height="1.1" fill="#d23a3a"/>
<rect x="297.33" y="233.36" width="1.1" height="1.1" fill="#d23a3a"/>
<rect x="298.13" y="233.41" width="1.1" height="1.1" fill="#d23a3a"/>
<rect x="298.93" y="233.41" width="1.1" height="1.1" fill="#d23a3a"/>
<rect x="299.74" y="233.64" width="1.1" height="1.1" fill="#d23a3a"/>
<rect x="300.54" y="233.73" width="1.1" height="1.1" fill="#d23a3a"/>
<rect x="301.34" y="233.44" width="1.1" height="1.1" fill="#d23a3a"/>
<rect x="302.15" y="233.20" width="1.1" height="1.1" fill="#d23a3a"/>
<rect x="302.95" y="233.58" width="1.1" height="1.1" fill="#d23a3a"/>
<rect x="303.75" y="233.53" width="1.1" height="1.1" fill="#d23a3a"/>
<rect x="304.55" y="233.71" width="1.1" height="1.1" fill="#d23a3a"/>
<rect x="305.36" y="234.06" width="1.1" height="1.1" fill="#d23a3a"/>
<rect x="306.16" y="233.82" width="1.1" height="1.1" fill="#d23a3a"/>
<rect x="306.96" y="233.66" width="1.1" height="1.1" fill="#d23a3a"/>
<rect x="307.77" y="233.76" width="1.1" height="1.1" fill="#d23a3a"/>
<rect x="308.57" y="233.81" width="1.1" height="1.1" fill="#d23a3a"/>
<rect x="309.37" y="233.25" width="1.1" height="1.1" fill="#d23a3a"/>
<rect x="310.17" y="234.01" width="1.1" height="1.1" fill="#d23a3a"/>
<rect x="310.98" y="233.90" width="1.1" height="1.1" fill="#d23a3a"/>
<rect x="311.78" y="233.99" width="1.1" height="1.1" fill="#d23a3a"/>
<rect x="312.58" y="233.92" width="1.1" height="1.1" fill="#d23a3a"/>
<rect x="313.39" y="233.55" width="1.1" height="1.1" fill="#d23a3a"/>
<rect x="314.19" y="233.56" width="1.1" height="1.1" fill="#d23a3a"/>
<rect x="314.99" y="233.29" width="1.1" height="1.1" fill="#d23a3a"/>
<rect x="315.79" y="233.77" width="1.1" height="1.1" fill="#d23a3a"/>
<rect x="316.60" y="234.48" width="1.1" height="1.1" fill="#d23a3a"/>
<rect x="317.40" y="236.01" width="1.1" height="1.1" fill="#d23a3a"/>
<rect x="318.20" y="236.26" width="1.1" height="1.1" fill="#d23a3a"/>
<rect x="319.00" y="234.56" width="1.1" height="1.1" fill="#d23a3a"/>
<rect x="319.81" y="233.73" width="1.1" height="1.1" fill="#d23a3a"/>
<rect x="320.61" y="233.32" width="1.1" height="1.1" fill="#d23a3a"/>
<rect x="321.41" y="233.11" width="1.1" height="1.1" fill="#d23a3a"/>
<rect x="322.22" y="233.08" width="1.1" height="1.1" fill="#d23a3a"/>
<rect x="323.02" y="232.89" width="1.1" height="1.1" fill="#d23a3a"/>
<rect x="323.82" y="233.10" width="1.1" height="1.1" fill="#d23a3a"/>
<rect x="324.62" y="232.77" width="1.1" height="1.1" fill="#d23a3a"/>
<rect x="325.43" y="233.51" width="1.1" height="1.1" fill="#d23a3a"/>
<rect x="326.23" y="233.25" width="1.1" height="1.1" fill="#d23a3a"/>
<rect x="327.03" y="232.80" width="1.1" height="1.1" fill="#d23a3a"/>
<rect x="327.84" y="232.87" width="1.1" height="1.1" fill="#d23a3a"/>
<rect x="328.64" y="232.93" width="1.1" height="1.1" fill="#d23a3a"/>
<rect x="329.44" y="232.92" width="1.1" height="1.1" fill="#d23a3a"/>
<rect x="330.24" y="232.68" width="1.1" height="1.1" fill="#d23a3a"/>
<rect x="331.05" y="233.30" width="1.1" height="1.1" fill="#d23a3a"/>
<rect x="331.85" y="233.41" width="1.1" height="1.1" fill="#d23a3a"/>
<rect x="332.65" y="232.91" width="1.1" height="1.1" fill="#d23a3a"/>
<rect x="333.46" y="232.90" width="1.1" height="1.1" fill="#d23a3a"/>
<rect x="334.26" y="232.52" width="1.1" height="1.1" fill="#d23a3a"/>
<rect x="335.06" y="232.50" width="1.1" height="1.1" fill="#d23a3a"/>
<rect x="335.86" y="232.70" width="1.1" height="1.1" fill="#d23a3a"/>
<rect x="336.67" y="232.60" width="1.1" height="1.1" fill="#d23a3a"/>
<rect x="337.47" y="233.08" width="1.1" height="1.1" fill="#d23a3a"/>
<rect x="338.27" y="232.45" width="1.1" height="1.1" fill="#d23a3a"/>
<rect x="339.07" y="232.30" width="1.1" height="1.1" fill="#d23a3a"/>
<rect x="339.88" y="233.11" width="1.1" height="1.1" fill="#d23a3a"/>
<rect x="340.68" y="232.71" width="1.1" height="1.1" fill="#d23a3a"/>
<rect x="341.48" y="232.34" width="1.1" height="1.1" fill="#d23a3a"/>
<rect x="342.29" y="232.67" width="1.1" height="1.1" fill="#d23a3a"/>
<rect x="343.09" y="232.18" width="1.1" height="1.1" fill="#d23a3a"/>
<rect x="343.89" y="232.61" width="1.1" height="1.1" fill="#d23a3a"/>
<rect x="344.69" y="232.98" width="1.1" height="1.1" fill="#d23a3a"/>
<rect x="345.50" y="232.86" width="1.1" height="1.1" fill="#d23a3a"/>
<rect x="346.30" y="232.68" width="1.1" height="1.1" fill="#d23a3a"/>
<rect x="347.10" y="232.26" width="1.1" height="1.1" fill="#d23a3a"/>
<rect x="347.91" y="232.33" width="1.1" height="1.1" fill="#d23a3a"/>
<rect x="348.71" y="232.13" width="1.1" height="1.1" fill="#d23a3a"/>
<rect x="349.51" y="232.64" width="1.1" height="1.1" fill="#d23a3a"/>
<rect x="350.31" y="232.40" width="1.1" height="1.1" fill="#d23a3a"/>
<rect x="351.12" y="232.60" width="1.1" height="1.1" fill="#d23a3a"/>
<rect x="351.92" y="232.17" width="1.1" height="1.1" fill="#d23a3a"/>
<rect x="352.72" y="232.05" width="1.1" height="1.1" fill="#d23a3a"/>
<rect x="353.52" y="232.55" width="1.1" height="1.1" fill="#d23a3a"/>
<rect x="354.33" y="232.68" width="1.1" height="1.1" fill="#d23a3a"/>
<rect x="355.13" y="232.54" width="1.1" height="1.1" fill="#d23a3a"/>
<rect x="355.93" y="232.47" width="1.1" height="1.1" fill="#d23a3a"/>
<rect x="356.74" y="232.46" width="1.1" height="1.1" fill="#d23a3a"/>
<rect x="357.54" y="232.36" width="1.1" height="1.1" fill="#d23a3a"/>
<rect x="358.34" y="231.87" width="1.1" height="1.1" fill="#d23a3a"/>
<rect x="359.14" y="232.11" width="1.1" height="1.1" fill="#d23a3a"/>
<rect x="359.95" y="231.94" width="1.1" height="1.1" fill="#d23a3a"/>
<rect x="360.75" y="231.63" width="1.1" height="1.1" fill="#d23a3a"/>
<polyline points="217.60,248.20 218.40,248.71 219.21,248.57 220.01,249.52 220.81,250.07 221.61,248.75 222.42,249.84 223.22,249.87 224.02,249.70 224.83,248.19 225.63,247.76 226.43,247.68 227.23,247.51 228.04,247.44 228.84,248.35 229.64,248.92 230.44,248.68 231.25,247.73 232.05,248.07 232.85,248.35 233.66,246.56 234.46,247.87 235.26,248.40 236.06,248.02 236.87,247.87 237.67,247.14 238.47,246.35 239.28,248.00 240.08,247.19 240.88,248.60 241.68,249.30 242.49,248.21 243.29,248.51 244.09,250.12 244.89,250.03 245.70,249.14 246.50,249.47 247.30,249.97 248.11,252.22 248.91,252.00 249.71,250.38 250.51,251.98 251.32,252.32 252.12,251.50 252.92,250.73 253.73,251.17 254.53,250.14 255.33,249.88 256.13,252.29 256.94,251.63 257.74,251.45 258.54,252.54 259.35,251.45 260.15,252.61 260.95,252.61 261.75,251.25 262.56,251.46 263.36,251.67 264.16,251.66 264.96,252.34 265.77,251.36 266.57,251.55 267.37,250.66 268.18,252.33 268.98,250.79 269.78,250.85 270.58,250.95 271.39,251.52 272.19,250.22 272.99,251.46 273.80,250.51 274.60,250.63 275.40,250.66 276.20,249.50 277.01,250.56 277.81,249.99 278.61,249.61 279.42,251.56 280.22,250.11 281.02,250.88 281.82,251.53 282.63,251.17 283.43,250.67 284.23,251.18 285.03,251.32 285.84,251.91 286.64,250.33 287.44,251.42 288.25,250.62 289.05,250.64 289.85,251.78 290.65,251.10 291.46,251.18 292.26,251.54 293.06,251.65 293.87,250.27 294.67,250.42 295.47,249.90 296.27,249.66 297.08,249.87 297.88,249.33 298.68,249.57 299.48,249.49 300.29,250.64 301.09,250.11 301.89,250.58 302.70,250.78 303.50,249.18 304.30,249.95 305.10,250.91 305.91,250.71 306.71,249.07 307.51,249.08 308.32,249.89 309.12,249.05 309.92,249.50 310.72,249.14 311.53,250.61 312.33,250.93 313.13,251.25 313.94,249.51 314.74,250.90 315.54,251.00 316.34,250.09 317.15,252.19 317.95,252.72 318.75,251.26 319.55,253.34 320.36,252.34 321.16,251.59 321.96,251.76 322.77,250.34 323.57,247.69 324.37,247.30 325.17,247.32 325.98,246.89 326.78,246.53 327.58,246.80 328.39,247.76 329.19,246.06 329.99,247.32 330.79,247.04 331.60,246.01 332.40,246.74 333.20,247.43 334.01,247.15 334.81,246.05 335.61,248.25 336.41,247.76 337.22,248.19 338.02,246.09 338.82,246.46 339.62,245.90 340.43,247.65 341.23,246.38 342.03,246.00 342.84,246.66 343.64,247.80 344.44,247.53 345.24,246.15 346.05,245.84 346.85,247.65 347.65,246.77 348.46,247.04 349.26,245.53 350.06,245.41 350.86,246.88 351.67,246.21 352.47,245.32 353.27,247.36 354.07,246.59 354.88,246.94 355.68,245.18 356.48,246.99 357.29,245.05 358.09,246.92 358.89,245.90 359.69,245.58 360.50,246.05 361.30,246.92" fill="none" stroke="#3a3ae0" stroke-width="0.5" opacity="0.8"/>
<polygon points="217.60,247.45 218.30,248.70 216.90,248.70" fill="#3a3ae0"/>
<polygon points="218.40,247.96 219.10,249.21 217.70,249.21" fill="#3a3ae0"/>
<polygon points="219.21,247.82 219.91,249.07 218.51,249.07" fill="#3a3ae0"/>
<polygon points="220.01,248.77 220.71,250.02 219.31,250.02" fill="#3a3ae0"/>
<polygon points="220.81,249.32 221.51,250.57 220.11,250.57" fill="#3a3ae0"/>
<polygon points="221.61,248.00 222.31,249.25 220.91,249.25" fill="#3a3ae0"/>
<polygon points="222.42,249.09 223.12,250.34 221.72,250.34" fill="#3a3ae0"/>
<polygon points="223.22,249.12 223.92,250.37 222.52,250.37" fill="#3a3ae0"/>
<polygon points="224.02,248.95 224.72,250.20 223.32,250.20" fill="#3a3ae0"/>
<polygon points="224.83,247.44 225.53,248.69 224.13,248.69" fill="#3a3ae0"/>
<polygon points="225.63,247.01 226.33,248.26 224.93,248.26" fill="#3a3ae0"/>
<polygon points="226.43,246.93 227.13,248.18 225.73,248.18" fill="#3a3ae0"/>
<polygon points="227.23,246.76 227.93,248.01 226.53,248.01" fill="#3a3ae0"/>
<polygon points="228.04,246.69 228.74,247.94 227.34,247.94" fill="#3a3ae0"/>
<polygon points="228.84,247.60 229.54,248.85 228.14,248.85" fill="#3a3ae0"/>
<polygon points="229.64,248.17 230.34,249.42 228.94,249.42" fill="#3a3ae0"/>
<polygon points="230.44,247.93 231.14,249.18 229.74,249.18" fill="#3a3ae0"/>
<polygon points="231.25,246.98 231.95,248.23 230.55,248.23" fill="#3a3ae0"/>
<polygon points="232.05,247.32 232.75,248.57 231.35,248.57" fill="#3a3ae0"/>
<polygon points="232.85,247.60 233.55,248.85 232.15,248.85" fill="#3a3ae0"/>
<polygon points="233.66,245.81 234.36,247.06 232.96,247.06" fill="#3a3ae0"/>
<polygon points="234.46,247.12 235.16,248.37 233.76,248.37" fill="#3a3ae0"/>
<polygon points="235.26,247.65 235.96,248.90 234.56,248.90" fill="#3a3ae0"/>
<polygon points="236.06,247.27 236.76,248.52 235.36,248.52" fill="#3a3ae0"/>
<polygon points="236.87,247.12 237.57,248.37 236.17,248.37" fill="#3a3ae0"/>
<polygon points="237.67,246.39 238.37,247.64 236.97,247.64" fill="#3a3ae0"/>
<polygon points="238.47,245.60 239.17,246.85 237.77,246.85" fill="#3a3ae0"/>
<polygon points="239.28,247.25 239.98,248.50 238.58,248.50" fill="#3a3ae0"/>
<polygon points="240.08,246.44 240.78,247.69 239.38,247.69" fill="#3a3ae0"/>
<polygon points="240.88,247.85 241.58,249.10 240.18,249.10" fill="#3a3ae0"/>
<polygon points="241.68,248.55 242.38,249.80 240.98,249.80" fill="#3a3ae0"/>
<polygon points="242.49,247.46 243.19,248.71 241.79,248.71" fill="#3a3ae0"/>
<polygon points="243.29,247.76 243.99,249.01 242.59,249.01" fill="#3a3ae0"/>
<polygon points="244.09,249.37 244.79,250.62 243.39,250.62" fill="#3a3ae0"/>
<polygon points="244.89,249.28 245.59,250.53 244.19,250.53" fill="#3a3ae0"/>
<polygon points="245.70,248.39 246.40,249.64 245.00,249.64" fill="#3a3ae0"/>
<polygon points="246.50,248.72 247.20,249.97 245.80,249.97" fill="#3a3ae0"/>
<polygon points="247.30,249.22 248.00,250.47 246.60,250.47" fill="#3a3ae0"/>
<polygon points="248.11,251.47 248.81,252.72 247.41,252.72" fill="#3a3ae0"/>
<polygon points="248.91,251.25 249.61,252.50 248.21,252.50" fill="#3a3ae0"/>
<polygon points="249.71,249.63 250.41,250.88 249.01,250.88" fill="#3a3ae0"/>
<polygon points="250.51,251.23 251.21,252.48 249.81,252.48" fill="#3a3ae0"/>
<polygon points="251.32,251.57 252.02,252.82 250.62,252.82" fill="#3a3ae0"/>
<polygon points="252.12,250.75 252.82,252.00 251.42,252.00" fill="#3a3ae0"/>
<polygon points="252.92,249.98 253.62,251.23 252.22,251.23" fill="#3a3ae0"/>
<polygon points="253.73,250.42 254.43,251.67 253.03,251.67" fill="#3a3ae0"/>
<polygon points="254.53,249.39 255.23,250.64 253.83,250.64" fill="#3a3ae0"/>
<polygon points="255.33,249.13 256.03,250.38 254.63,250.38" fill="#3a3ae0"/>
<polygon points="256.13,251.54 256.83,252.79 255.43,252.79" fill="#3a3ae0"/>
<polygon points="256.94,250.88 257.64,252.13 256.24,252.13" fill="#3a3ae0"/>
<polygon points="257.74,250.70 258.44,251.95 257.04,251.95" fill="#3a3ae0"/>
<polygon points="258.54,251.79 259.24,253.04 257.84,253.04" fill="#3a3ae0"/>
<polygon points="259.35,250.70 260.05,251.95 258.65,251.95" fill="#3a3ae0"/>
<polygon points="260.15,251.86 260.85,253.11 259.45,253.11" fill="#3a3ae0"/>
<polygon points="260.95,251.86 261.65,253.11 260.25,253.11" fill="#3a3ae0"/>
<polygon points="261.75,250.50 262.45,251.75 261.05,251.75" fill="#3a3ae0"/>
<polygon points="262.56,250.71 263.26,251.96 261.86,251.96" fill="#3a3ae0"/>
<polygon points="263.36,250.92 264.06,252.17 262.66,252.17" fill="#3a3ae0"/>
<polygon points="264.16,250.91 264.86,252.16 263.46,252.16" fill="#3a3ae0"/>
<polygon points="264.96,251.59 265.66,252.84 264.26,252.84" fill="#3a3ae0"/>
<polygon points="265.77,250.61 266.47,251.86 265.07,251.86" fill="#3a3ae0"/>
<polygon points="266.57,250.80 267.27,252.05 265.87,252.05" fill="#3a3ae0"/>
<polygon points="267.37,249.91 268.07,251.16 266.67,251.16" fill="#3a3ae0"/>
<polygon points="268.18,251.58 268.88,252.83 267.48,252.83" fill="#3a3ae0"/>
<polygon points="268.98,250.04 269.68,251.29 268.28,251.29" fill="#3a3ae0"/>
<polygon points="269.78,250.10 270.48,251.35 269.08,251.35" fill="#3a3ae0"/>
<polygon points="270.58,250.20 271.28,251.45 269.88,251.45" fill="#3a3ae0"/>
<polygon points="271.39,250.77 272.09,252.02 270.69,252.02" fill="#3a3ae0"/>
<polygon points="272.19,249.47 272.89,250.72 271.49,250.72" fill="#3a3ae0"/>
<polygon points="272.99,250.71 273.69,251.96 272.29,251.96" fill="#3a3ae0"/>
<polygon points="273.80,249.76 274.50,251.01 273.10,251.01" fill="#3a3ae0"/>
<polygon points="274.60,249.88 275.30,251.13 273.90,251.13" fill="#3a3ae0"/>
<polygon points="275.40,249.91 276.10,251.16 274.70,251.16" fill="#3a3ae0"/>
<polygon points="276.20,248.75 276.90,250.00 275.50,250.00" fill="#3a3ae0"/>
<polygon points="277.01,249.81 277.71,251.06 276.31,251.06" fill="#3a3ae0"/>
<polygon points="277.81,249.24 278.51,250.49 277.11,250.49" fill="#3a3ae0"/>
<polygon points="278.61,248.86 279.31,250.11 277.91,250.11" fill="#3a3ae0"/>
<polygon points="279.42,250.81 280.12,252.06 278.72,252.06" fill="#3a3ae0"/>
<polygon points="280.22,249.36 280.92,250.61 279.52,250.61" fill="#3a3ae0"/>
<polygon points="281.02,250.13 281.72,251.38 280.32,251.38" fill="#3a3ae0"/>
<polygon points="281.82,250.78 282.52,252.03 281.12,252.03" fill="#3a3ae0"/>
<polygon points="282.63,250.42 283.33,251.67 281.93,251.67" fill="#3a3ae0"/>
<polygon points="283.43,249.92 284.13,251.17 282.73,251.17" fill="#3a3ae0"/>
<polygon points="284.23,250.43 284.93,251.68 283.53,251.68" fill="#3a3ae0"/>
<polygon points="285.03,250.57 285.73,251.82 284.33,251.82" fill="#3a3ae0"/>
<polygon points="285.84,251.16 286.54,252.41 285.14,252.41" fill="#3a3ae0"/>
<polygon points="286.64,249.58 287.34,250.83 285.94,250.83" fill="#3a3ae0"/>
<polygon points="287.44,250.67 288.14,251.92 286.74,251.92" fill="#3a3ae0"/>
<polygon points="288.25,249.87 288.95,251.12 287.55,251.12" fill="#3a3ae0"/>
<polygon points="289.05,249.89 289.75,251.14 288.35,251.14" fill="#3a3ae0"/>
<polygon points="289.85,251.03 290.55,252.28 289.15,252.28" fill="#3a3ae0"/>
<polygon points="290.65,250.35 291.35,251.60 289.95,251.60" fill="#3a3ae0"/>
<polygon points="291.46,250.43 292.16,251.68 290.76,251.68" fill="#3a3ae0"/>
<polygon points="292.26,250.79 292.96,252.04 291.56,252.04" fill="#3a3ae0"/>
<polygon points="293.06,250.90 293.76,252.15 292.36,252.15" fill="#3a3ae0"/>
<polygon points="293.87,249.52 294.57,250.77 293.17,250.77" fill="#3a3ae0"/>
<polygon points="294.67,249.67 295.37,250.92 293.97,250.92" fill="#3a3ae0"/>
<polygon points="295.47,249.15 296.17,250.40 294.77,250.40" fill="#3a3ae0"/>
<polygon points="296.27,248.91 296.97,250.16 295.57,250.16" fill="#3a3ae0"/>
<polygon points="297.08,249.12 297.78,250.37 296.38,250.37" fill="#3a3ae0"/>
<polygon points="297.88,248.58 298.58,249.83 297.18,249.83" fill="#3a3ae0"/>
<polygon points="298.68,248.82 299.38,250.07 297.98,250.07" fill="#3a3ae0"/>
<polygon points="299.48,248.74 300.18,249.99 298.78,249.99" fill="#3a3ae0"/>
<polygon points="300.29,249.89 300.99,251.14 299.59,251.14" fill="#3a3ae0"/>
<polygon points="301.09,249.36 301.79,250.61 300.39,250.61" fill="#3a3ae0"/>
<polygon points="301.89,249.83 302.59,251.08 301.19,251.08" fill="#3a3ae0"/>
<polygon points="302.70,250.03 303.40,251.28 302.00,251.28" fill="#3a3ae0"/>
<polygon points="303.50,248.43 304.20,249.68 302.80,249.68" fill="#3a3ae0"/>
<polygon points="304.30,249.20 305.00,250.45 303.60,250.45" fill="#3a3ae0"/>
<polygon points="305.10,250.16 305.80,251.41 304.40,251.41" fill="#3a3ae0"/>
<polygon points="305.91,249.96 306.61,251.21 305.21,251.21" fill="#3a3ae0"/>
<polygon points="306.71,248.32 307.41,249.57 306.01,249.57" fill="#3a3ae0"/>
<polygon points="307.51,248.33 308.21,249.58 306.81,249.58" fill="#3a3ae0"/>
<polygon points="308.32,249.14 309.02,250.39 307.62,250.39" fill="#3a3ae0"/>
<polygon points="309.12,248.30 309.82,249.55 308.42,249.55" fill="#3a3ae0"/>
<polygon points="309.92,248.75 310.62,250.00 309.22,250.00" fill="#3a3ae0"/>
<polygon points="310.72,248.39 311.42,249.64 310.02,249.64" fill="#3a3ae0"/>
<polygon points="311.53,249.86 312.23,251.11 310.83,251.11" fill="#3a3ae0"/>
<polygon points="312.33,250.18 313.03,251.43 311.63,251.43" fill="#3a3ae0"/>
<polygon points="313.13,250.50 313.83,251.75 312.43,251.75" fill="#3a3ae0"/>
<polygon points="313.94,248.76 314.64,250.01 313.24,250.01" fill="#3a3ae0"/>
<polygon points="314.74,250.15 315.44,251.40 314.04,251.40" fill="#3a3ae0"/>
<polygon points="315.54,250.25 316.24,251.50 314.84,251.50" fill="#3a3ae0"/>
<polygon points="316.34,249.34 317.04,250.59 315.64,250.59" fill="#3a3ae0"/>
<polygon points="317.15,251.44 317.85,252.69 316.45,252.69" fill="#3a3ae0"/>
<polygon points="317.95,251.97 318.65,253.22 317.25,253.22" fill="#3a3ae0"/>
<polygon points="318.75,250.51 319.45,251.76 318.05,251.76" fill="#3a3ae0"/>
<polygon points="319.55,252.59 320.25,253.84 318.85,253.84" fill="#3a3ae0"/>
<polygon points="320.36,251.59 321.06,252.84 319.66,252.84" fill="#3a3ae0"/>
<polygon points="321.16,250.84 321.86,252.09 320.46,252.09" fill="#3a3ae0"/>
<polygon points="321.96,251.01 322.66,252.26 321.26,252.26" fill="#3a3ae0"/>
<polygon points="322.77,249.59 323.47,250.84 322.07,250.84" fill="#3a3ae0"/>
<polygon points="323.57,246.94 324.27,248.19 322.87,248.19" fill="#3a3ae0"/>
<polygon points="324.37,246.55 325.07,247.80 323.67,247.80" fill="#3a3ae0"/>
<polygon points="325.17,246.57 325.87,247.82 324.47,247.82" fill="#3a3ae0"/>
<polygon points="325.98,246.14 326.68,247.39 325.28,247.39" fill="#3a3ae0"/>
<polygon points="326.78,245.78 327.48,247.03 326.08,247.03" fill="#3a3ae0"/>
<polygon points="327.58,246.05 328.28,247.30 326.88,247.30" fill="#3a3ae0"/>
<polygon points="328.39,247.01 329.09,248.26 327.69,248.26" fill="#3a3ae0"/>
<polygon points="329.19,245.31 329.89,246.56 328.49,246.56" fill="#3a3ae0"/>
<polygon points="329.99,246.57 330.69,247.82 329.29,247.82" fill="#3a3ae0"/>
<polygon points="330.79,246.29 331.49,247.54 330.09,247.54" fill="#3a3ae0"/>
<polygon points="331.60,245.26 332.30,246.51 330.90,246.51" fill="#3a3ae0"/>
<polygon points="332.40,245.99 333.10,247.24 331.70,247.24" fill="#3a3ae0"/>
<polygon points="333.20,246.68 333.90,247.93 332.50,247.93" fill="#3a3ae0"/>
<polygon points="334.01,246.40 334.71,247.65 333.31,247.65" fill="#3a3ae0"/>
<polygon points="334.81,245.30 335.51,246.55 334.11,246.55" fill="#3a3ae0"/>
<polygon points="335.61,247.50 336.31,248.75 334.91,248.75" fill="#3a3ae0"/>
<polygon points="336.41,247.01 337.11,248.26 335.71,248.26" fill="#3a3ae0"/>
<polygon points="337.22,247.44 337.92,248.69 336.52,248.69" fill="#3a3ae0"/>
<polygon points="338.02,245.34 338.72,246.59 337.32,246.59" fill="#3a3ae0"/>
<polygon points="338.82,245.71 339.52,246.96 338.12,246.96" fill="#3a3ae0"/>
<polygon points="339.62,245.15 340.32,246.40 338.92,246.40" fill="#3a3ae0"/>
<polygon points="340.43,246.90 341.13,248.15 339.73,248.15" fill="#3a3ae0"/>
<polygon points="341.23,245.63 341.93,246.88 340.53,246.88" fill="#3a3ae0"/>
<polygon points="342.03,245.25 342.73,246.50 341.33,246.50" fill="#3a3ae0"/>
<polygon points="342.84,245.91 343.54,247.16 342.14,247.16" fill="#3a3ae0"/>
<polygon points="343.64,247.05 344.34,248.30 342.94,248.30" fill="#3a3ae0"/>
<polygon points="344.44,246.78 345.14,248.03 343.74,248.03" fill="#3a3ae0"/>
<polygon points="345.24,245.40 345.94,246.65 344.54,246.65" fill="#3a3ae0"/>
<polygon points="346.05,245.09 346.75,246.34 345.35,246.34" fill="#3a3ae0"/>
<polygon points="346.85,246.90 347.55,248.15 346.15,248.15" fill="#3a3ae0"/>
<polygon points="347.65,246.02 348.35,247.27 346.95,247.27" fill="#3a3ae0"/>
<polygon points="348.46,246.29 349.16,247.54 347.76,247.54" fill="#3a3ae0"/>
<polygon points="349.26,244.78 349.96,246.03 348.56,246.03" fill="#3a3ae0"/>
<polygon points="350.06,244.66 350.76,245.91 349.36,245.91" fill="#3a3ae0"/>
<polygon points="350.86,246.13 351.56,247.38 350.16,247.38" fill="#3a3ae0"/>
<polygon points="351.67,245.46 352.37,246.71 350.97,246.71" fill="#3a3ae0"/>
<polygon points="352.47,244.57 353.17,245.82 351.77,245.82" fill="#3a3ae0"/>
<polygon points="353.27,246.61 353.97,247.86 352.57,247.86" fill="#3a3ae0"/>
<polygon points="354.07,245.84 354.77,247.09 353.37,247.09" fill="#3a3ae0"/>
<polygon points="354.88,246.19 355.58,247.44 354.18,247.44" fill="#3a3ae0"/>
<polygon points="355.68,244.43 356.38,245.68 354.98,245.68" fill="#3a3ae0"/>
<polygon points="356.48,246.24 357.18,247.49 355.78,247.49" fill="#3a3ae0"/>
<polygon points="357.29,244.30 357.99,245.55 356.59,245.55" fill="#3a3ae0"/>
<polygon points="358.09,246.17 358.79,247.42 357.39,247.42" fill="#3a3ae0"/>
<polygon points="358.89,245.15 359.59,246.40 358.19,246.40" fill="#3a3ae0"/>
<polygon points="359.69,244.83 360.39,246.08 358.99,246.08" fill="#3a3ae0"/>
<polygon points="360.50,245.30 361.20,246.55 359.80,246.55" fill="#3a3ae0"/>
<polygon points="361.30,246.17 362.00,247.42 360.60,247.42" fill="#3a3ae0"/>
<polyline points="217.60,289.29 218.40,289.11 219.21,289.69 220.01,289.30 220.81,289.14 221.61,289.23 222.42,289.10 223.22,289.33 224.02,289.50 224.83,289.51 225.63,290.16 226.43,289.53 227.23,289.84 228.04,289.41 228.84,289.66 229.64,289.22 230.44,289.56 231.25,289.25 232.05,290.28 232.85,290.04 233.66,289.55 234.46,289.97 235.26,290.63 236.06,289.49 236.87,290.51 237.67,289.99 238.47,290.09 239.28,290.59 240.08,289.99 240.88,290.16 241.68,290.44 242.49,290.87 243.29,289.99 244.09,290.70 244.89,290.54 245.70,290.46 246.50,290.15 247.30,290.09 248.11,289.70 248.91,289.82 249.71,289.76 250.51,290.72 251.32,290.06 252.12,289.95 252.92,289.85 253.73,290.93 254.53,290.99 255.33,290.73 256.13,290.20 256.94,290.17 257.74,290.26 258.54,290.51 259.35,290.11 260.15,290.53 260.95,290.29 261.75,291.28 262.56,291.31 263.36,290.73 264.16,290.33 264.96,291.35 265.77,290.45 266.57,290.53 267.37,290.05 268.18,290.60 268.98,290.74 269.78,290.80 270.58,290.39 271.39,290.83 272.19,290.15 272.99,290.53 273.80,290.30 274.60,290.75 275.40,290.27 276.20,290.26 277.01,290.67 277.81,290.58 278.61,291.09 279.42,291.03 280.22,291.36 281.02,291.24 281.82,291.34 282.63,291.58 283.43,290.91 284.23,290.84 285.03,291.78 285.84,290.63 286.64,291.45 287.44,291.35 288.25,290.53 289.05,291.65 289.85,291.75 290.65,291.39 291.46,291.56 292.26,291.68 293.06,290.76 293.87,291.31 294.67,291.30 295.47,291.78 296.27,291.75 297.08,291.80 297.88,291.48 298.68,291.92 299.48,291.65 300.29,291.68 301.09,291.04 301.89,290.78 302.70,290.94 303.50,291.27 304.30,290.93 305.10,291.97 305.91,291.60 306.71,291.71 307.51,291.73 308.32,291.82 309.12,291.57 309.92,290.90 310.72,292.03 311.53,291.98 312.33,291.65 313.13,291.71 313.94,291.90 314.74,291.09 315.54,292.04 316.34,291.38 317.15,291.15 317.95,291.43 318.75,292.10 319.55,291.38 320.36,292.14 321.16,292.49 321.96,291.83 322.77,291.69 323.57,291.84 324.37,292.14 325.17,292.28 325.98,292.08 326.78,292.14 327.58,291.36 328.39,291.47 329.19,291.64 329.99,292.34 330.79,291.74 331.60,292.13 332.40,291.37 333.20,291.45 334.01,291.76 334.81,292.34 335.61,292.38 336.41,292.37 337.22,291.85 338.02,292.18 338.82,292.13 339.62,292.15 340.43,291.68 341.23,292.79 342.03,291.84 342.84,292.95 343.64,292.91 344.44,291.65 345.24,292.29 346.05,292.82 346.85,293.05 347.65,292.35 348.46,292.12 349.26,292.06 350.06,293.11 350.86,292.11 351.67,292.65 352.47,292.05 353.27,292.61 354.07,293.24 354.88,292.11 355.68,293.10 356.48,292.68 357.29,293.24 358.09,293.00 358.89,292.36 359.69,293.32 360.50,292.77 361.30,292.13" fill="none" stroke="#7ce04a" stroke-width="0.5" opacity="0.8"/>
<rect x="217.05" y="288.74" width="1.1" height="1.1" fill="#7ce04a"/>
<rect x="217.85" y="288.56" width="1.1" height="1.1" fill="#7ce04a"/>
<rect x="218.66" y="289.14" width="1.1" height="1.1" fill="#7ce04a"/>
<rect x="219.46" y="288.75" width="1.1" height="1.1" fill="#7ce04a"/>
<rect x="220.26" y="288.59" width="1.1" height="1.1" fill="#7ce04a"/>
<rect x="221.06" y="288.68" width="1.1" height="1.1" fill="#7ce04a"/>
<rect x="221.87" y="288.55" width="1.1" height="1.1" fill="#7ce04a"/>
<rect x="222.67" y="288.78" width="1.1" height="1.1" fill="#7ce04a"/>
<rect x="223.47" y="288.95" width="1.1" height="1.1" fill="#7ce04a"/>
<rect x="224.28" y="288.96" width="1.1" height="1.1" fill="#7ce04a"/>
<rect x="225.08" y="289.61" width="1.1" height="1.1" fill="#7ce04a"/>
<rect x="225.88" y="288.98" width="1.1" height="1.1" fill="#7ce04a"/>
<rect x="226.68" y="289.29" width="1.1" height="1.1" fill="#7ce04a"/>
<rect x="227.49" y="288.86" width="1.1" height="1.1" fill="#7ce04a"/>
<rect x="228.29" y="289.11" width="1.1" height="1.1" fill="#7ce04a"/>
<rect x="229.09" y="288.67" width="1.1" height="1.1" fill="#7ce04a"/>
<rect x="229.89" y="289.01" width="1.1" height="1.1" fill="#7ce04a"/>
<rect x="230.70" y="288.70" width="1.1" height="1.1" fill="#7ce04a"/>
<rect x="231.50" y="289.73" width="1.1" height="1.1" fill="#7ce04a"/>
<rect x="232.30" y="289.49" width="1.1" height="1.1" fill="#7ce04a"/>
<rect x="233.11" y="289.00" width="1.1" height="1.1" fill="#7ce04a"/>
<rect x="233.91" y="289.42" width="1.1" height="1.1" fill="#7ce04a"/>
<rect x="234.71" y="290.08" width="1.1" height="1.1" fill="#7ce04a"/>
<rect x="235.51" y="288.94" width="1.1" height="1.1" fill="#7ce04a"/>
<rect x="236.32" y="289.96" width="1.1" height="1.1" fill="#7ce04a"/>
<rect x="237.12" y="289.44" width="1.1" height="1.1" fill="#7ce04a"/>
<rect x="237.92" y="289.54" width="1.1" height="1.1" fill="#7ce04a"/>
<rect x="238.73" y="290.04" width="1.1" height="1.1" fill="#7ce04a"/>
<rect x="239.53" y="289.44" width="1.1" height="1.1" fill="#7ce04a"/>
<rect x="240.33" y="289.61" width="1.1" height="1.1" fill="#7ce04a"/>
<rect x="241.13" y="289.89" width="1.1" height="1.1" fill="#7ce04a"/>
<rect x="241.94" y="290.32" width="1.1" height="1.1" fill="#7ce04a"/>
<rect x="242.74" y="289.44" width="1.1" height="1.1" fill="#7ce04a"/>
<rect x="243.54" y="290.15" width="1.1" height="1.1" fill="#7ce04a"/>
<rect x="244.34" y="289.99" width="1.1" height="1.1" fill="#7ce04a"/>
<rect x="245.15" y="289.91" width="1.1" height="1.1" fill="#7ce04a"/>
<rect x="245.95" y="289.60" width="1.1" height="1.1" fill="#7ce04a"/>
<rect x="246.75" y="289.54" width="1.1" height="1.1" fill="#7ce04a"/>
<rect x="247.56" y="289.15" width="1.1" height="1.1" fill="#7ce04a"/>
<rect x="248.36" y="289.27" width="1.1" height="1.1" fill="#7ce04a"/>
<rect x="249.16" y="289.21" width="1.1" height="1.1" fill="#7ce04a"/>
<rect x="249.96" y="290.17" width="1.1" height="1.1" fill="#7ce04a"/>
<rect x="250.77" y="289.51" width="1.1" height="1.1" fill="#7ce04a"/>
<rect x="251.57" y="289.40" width="1.1" height="1.1" fill="#7ce04a"/>
<rect x="252.37" y="289.30" width="1.1" height="1.1" fill="#7ce04a"/>
<rect x="253.18" y="290.38" width="1.1" height="1.1" fill="#7ce04a"/>
<rect x="253.98" y="290.44" width="1.1" height="1.1" fill="#7ce04a"/>
<rect x="254.78" y="290.18" width="1.1" height="1.1" fill="#7ce04a"/>
<rect x="255.58" y="289.65" width="1.1" height="1.1" fill="#7ce04a"/>
<rect x="256.39" y="289.62" width="1.1" height="1.1" fill="#7ce04a"/>
<rect x="257.19" y="289.71" width="1.1" height="1.1" fill="#7ce04a"/>
<rect x="257.99" y="289.96" width="1.1" height="1.1" fill="#7ce04a"/>
<rect x="258.80" y="289.56" width="1.1" height="1.1" fill="#7ce04a"/>
<rect x="259.60" y="289.98" width="1.1" height="1.1" fill="#7ce04a"/>
<rect x="260.40" y="289.74" width="1.1" height="1.1" fill="#7ce04a"/>
<rect x="261.20" y="290.73" width="1.1" height="1.1" fill="#7ce04a"/>
<rect x="262.01" y="290.76" width="1.1" height="1.1" fill="#7ce04a"/>
<rect x="262.81" y="290.18" width="1.1" height="1.1" fill="#7ce04a"/>
<rect x="263.61" y="289.78" width="1.1" height="1.1" fill="#7ce04a"/>
<rect x="264.41" y="290.80" width="1.1" height="1.1" fill="#7ce04a"/>
<rect x="265.22" y="289.90" width="1.1" height="1.1" fill="#7ce04a"/>
<rect x="266.02" y="289.98" width="1.1" height="1.1" fill="#7ce04a"/>
<rect x="266.82" y="289.50" width="1.1" height="1.1" fill="#7ce04a"/>
<rect x="267.63" y="290.05" width="1.1" height="1.1" fill="#7ce04a"/>
<rect x="268.43" y="290.19" width="1.1" height="1.1" fill="#7ce04a"/>
<rect x="269.23" y="290.25" width="1.1" height="1.1" fill="#7ce04a"/>
<rect x="270.03" y="289.84" width="1.1" height="1.1" fill="#7ce04a"/>
<rect x="270.84" y="290.28" width="1.1" height="1.1" fill="#7ce04a"/>
<rect x="271.64" y="289.60" width="1.1" height="1.1" fill="#7ce04a"/>
<rect x="272.44" y="289.98" width="1.1" height="1.1" fill="#7ce04a"/>
<rect x="273.25" y="289.75" width="1.1" height="1.1" fill="#7ce04a"/>
<rect x="274.05" y="290.20" width="1.1" height="1.1" fill="#7ce04a"/>
<rect x="274.85" y="289.72" width="1.1" height="1.1" fill="#7ce04a"/>
<rect x="275.65" y="289.71" width="1.1" height="1.1" fill="#7ce04a"/>
<rect x="276.46" y="290.12" width="1.1" height="1.1" fill="#7ce04a"/>
<rect x="277.26" y="290.03" width="1.1" height="1.1" fill="#7ce04a"/>
<rect x="278.06" y="290.54" width="1.1" height="1.1" fill="#7ce04a"/>
<rect x="278.87" y="290.48" width="1.1" height="1.1" fill="#7ce04a"/>
<rect x="279.67" y="290.81" width="1.1" height="1.1" fill="#7ce04a"/>
<rect x="280.47" y="290.69" width="1.1" height="1.1" fill="#7ce04a"/>
<rect x="281.27" y="290.79" width="1.1" height="1.1" fill="#7ce04a"/>
<rect x="282.08" y="291.03" width="1.1" height="1.1" fill="#7ce04a"/>
<rect x="282.88" y="290.36" width="1.1" height="1.1" fill="#7ce04a"/>
<rect x="283.68" y="290.29" width="1.1" height="1.1" fill="#7ce04a"/>
<rect x="284.48" y="291.23" width="1.1" height="1.1" fill="#7ce04a"/>
<rect x="285.29" y="290.08" width="1.1" height="1.1" fill="#7ce04a"/>
<rect x="286.09" y="290.90" width="1.1" height="1.1" fill="#7ce04a"/>
<rect x="286.89" y="290.80" width="1.1" height="1.1" fill="#7ce04a"/>
<rect x="287.70" y="289.98" width="1.1" height="1.1" fill="#7ce04a"/>
<rect x="288.50" y="291.10" width="1.1" height="1.1" fill="#7ce04a"/>
<rect x="289.30" y="291.20" width="1.1" height="1.1" fill="#7ce04a"/>
<rect x="290.10" y="290.84" width="1.1" height="1.1" fill="#7ce04a"/>
<rect x="290.91" y="291.01" width="1.1" height="1.1" fill="#7ce04a"/>
<rect x="291.71" y="291.13" width="1.1" height="1.1" fill="#7ce04a"/>
<rect x="292.51" y="290.21" width="1.1" height="1.1" fill="#7ce04a"/>
<rect x="293.32" y="290.76" width="1.1" height="1.1" fill="#7ce04a"/>
<rect x="294.12" y="290.75" width="1.1" height="1.1" fill="#7ce04a"/>
<rect x="294.92" y="291.23" width="1.1" height="1.1" fill="#7ce04a"/>
<rect x="295.72" y="291.20" width="1.1" height="1.1" fill="#7ce04a"/>
<rect x="296.53" y="291.25" width="1.1" height="1.1" fill="#7ce04a"/>
<rect x="297.33" y="290.93" width="1.1" height="1.1" fill="#7ce04a"/>
<rect x="298.13" y="291.37" width="1.1" height="1.1" fill="#7ce04a"/>
<rect x="298.93" y="291.10" width="1.1" height="1.1" fill="#7ce04a"/>
<rect x="299.74" y="291.13" width="1.1" height="1.1" fill="#7ce04a"/>
<rect x="300.54" y="290.49" width="1.1" height="1.1" fill="#7ce04a"/>
<rect x="301.34" y="290.23" width="1.1" height="1.1" fill="#7ce04a"/>
<rect x="302.15" y="290.39" width="1.1" height="1.1" fill="#7ce04a"/>
<rect x="302.95" y="290.72" width="1.1" height="1.1" fill="#7ce04a"/>
<rect x="303.75" y="290.38" width="1.1" height="1.1" fill="#7ce04a"/>
<rect x="304.55" y="291.42" width="1.1" height="1.1" fill="#7ce04a"/>
<rect x="305.36" y="291.05" width="1.1" height="1.1" fill="#7ce04a"/>
<rect x="306.16" y="291.16" width="1.1" height="1.1" fill="#7ce04a"/>
<rect x="306.96" y="291.18" width="1.1" height="1.1" fill="#7ce04a"/>
<rect x="307.77" y="291.27" width="1.1" height="1.1" fill="#7ce04a"/>
<rect x="308.57" y="291.02" width="1.1" height="1.1" fill="#7ce04a"/>
<rect x="309.37" y="290.35" width="1.1" height="1.1" fill="#7ce04a"/>
<rect x="310.17" y="291.48" width="1.1" height="1.1" fill="#7ce04a"/>
<rect x="310.98" y="291.43" width="1.1" height="1.1" fill="#7ce04a"/>
<rect x="311.78" y="291.10" width="1.1" height="1.1" fill="#7ce04a"/>
<rect x="312.58" y="291.16" width="1.1" height="1.1" fill="#7ce04a"/>
<rect x="313.39" y="291.35" width="1.1" height="1.1" fill="#7ce04a"/>
<rect x="314.19" y="290.54" width="1.1" height="1.1" fill="#7ce04a"/>
<rect x="314.99" y="291.49" width="1.1" height="1.1" fill="#7ce04a"/>
<rect x="315.79" y="290.83" width="1.1" height="1.1" fill="#7ce04a"/>
<rect x="316.60" y="290.60" width="1.1" height="1.1" fill="#7ce04a"/>
<rect x="317.40" y="290.88" width="1.1" height="1.1" fill="#7ce04a"/>
<rect x="318.20" y="291.55" width="1.1" height="1.1" fill="#7ce04a"/>
<rect x="319.00" y="290.83" width="1.1" height="1.1" fill="#7ce04a"/>
<rect x="319.81" y="291.59" width="1.1" height="1.1" fill="#7ce04a"/>
<rect x="320.61" y="291.94" width="1.1" height="1.1" fill="#7ce04a"/>
<rect x="321.41" y="291.28" width="1.1" height="1.1" fill="#7ce04a"/>
<rect x="322.22" y="291.14" width="1.1" height="1.1" fill="#7ce04a"/>
<rect x="323.02" y="291.29" width="1.1" height="1.1" fill="#7ce04a"/>
<rect x="323.82" y="291.59" width="1.1" height="1.1" fill="#7ce04a"/>
<rect x="324.62" y="291.73" width="1.1" height="1.1" fill="#7ce04a"/>
<rect x="325.43" y="291.53" width="1.1" height="1.1" fill="#7ce04a"/>
<rect x="326.23" y="291.59" width="1.1" height="1.1" fill="#7ce04a"/>
<rect x="327.03" y="290.81" width="1.1" height="1.1" fill="#7ce04a"/>
<rect x="327.84" y="290.92" width="1.1" height="1.1" fill="#7ce04a"/>
<rect x="328.64" y="291.09" width="1.1" height="1.1" fill="#7ce04a"/>
<rect x="329.44" y="291.79" width="1.1" height="1.1" fill="#7ce04a"/>
<rect x="330.24" y="291.19" width="1.1" height="1.1" fill="#7ce04a"/>
<rect x="331.05" y="291.58" width="1.1" height="1.1" fill="#7ce04a"/>
<rect x="331.85" y="290.82" width="1.1" height="1.1" fill="#7ce04a"/>
<rect x="332.65" y="290.90" width="1.1" height="1.1" fill="#7ce04a"/>
<rect x="333.46" y="291.21" width="1.1" height="1.1" fill="#7ce04a"/>
<rect x="334.26" y="291.79" width="1.1" height="1.1" fill="#7ce04a"/>
<rect x="335.06" y="291.83" width="1.1" height="1.1" fill="#7ce04a"/>
<rect x="335.86" y="291.82" width="1.1" height="1.1" fill="#7ce04a"/>
<rect x="336.67" y="291.30" width="1.1" height="1.1" fill="#7ce04a"/>
<rect x="337.47" y="291.63" width="1.1" height="1.1" fill="#7ce04a"/>
<rect x="338.27" y="291.58" width="1.1" height="1.1" fill="#7ce04a"/>
<rect x="339.07" y="291.60" width="1.1" height="1.1" fill="#7ce04a"/>
<rect x="339.88" y="291.13" width="1.1" height="1.1" fill="#7ce04a"/>
<rect x="340.68" y="292.24" width="1.1" height="1.1" fill="#7ce04a"/>
<rect x="341.48" y="291.29" width="1.1" height="1.1" fill="#7ce04a"/>
<rect x="342.29" y="292.40" width="1.1" height="1.1" fill="#7ce04a"/>
<rect x="343.09" y="292.36" width="1.1" height="1.1" fill="#7ce04a"/>
<rect x="343.89" y="291.10" width="1.1" height="1.1" fill="#7ce04a"/>
<rect x="344.69" y="291.74" width="1.1" height="1.1" fill="#7ce04a"/>
<rect x="345.50" y="292.27" width="1.1" height="1.1" fill="#7ce04a"/>
<rect x="346.30" y="292.50" width="1.1" height="1.1" fill="#7ce04a"/>
<rect x="347.10" y="291.80" width="1.1" height="1.1" fill="#7ce04a"/>
<rect x="347.91" y="291.57" width="1.1" height="1.1" fill="#7ce04a"/>
<rect x="348.71" y="291.51" width="1.1" height="1.1" fill="#7ce04a"/>
<rect x="349.51" y="292.56" width="1.1" height="1.1" fill="#7ce04a"/>
<rect x="350.31" y="291.56" width="1.1" height="1.1" fill="#7ce04a"/>
<rect x="351.12" y="292.10" width="1.1" height="1.1" fill="#7ce04a"/>
<rect x="351.92" y="291.50" width="1.1" height="1.1" fill="#7ce04a"/>
<rect x="352.72" y="292.06" width="1.1" height="1.1" fill="#7ce04a"/>
<rect x="353.52" y="292.69" width="1.1" height="1.1" fill="#7ce04a"/>
<rect x="354.33" y="291.56" width="1.1" height="1.1" fill="#7ce04a"/>
<rect x="355.13" y="292.55" width="1.1" height="1.1" fill="#7ce04a"/>
<rect x="355.93" y="292.13" width="1.1" height="1.1" fill="#7ce04a"/>
<rect x="356.74" y="292.69" width="1.1" height="1.1" fill="#7ce04a"/>
<rect x="357.54" y="292.45" width="1.1" height="1.1" fill="#7ce04a"/>
<rect x="358.34" y="291.81" width="1.1" height="1.1" fill="#7ce04a"/>
<rect x="359.14" y="292.77" width="1.1" height="1.1" fill="#7ce04a"/>
<rect x="359.95" y="292.22" width="1.1" height="1.1" fill="#7ce04a"/>
<rect x="360.75" y="291.58" width="1.1" height="1.1" fill="#7ce04a"/>
<rect x="294.6" y="206.6" width="1.4" height="1.4" fill="#7ce04a"/>
<rect x="294.6" y="214.1" width="1.4" height="1.4" fill="#d23a3a"/>
<polygon points="295.3,220.9 296.2,222.4 294.4,222.4" fill="#3a3ae0"/>
<text x="302.00" y="209.60" font-size="5.8" font-weight="bold" fill="#000" text-anchor="start" font-family='"Liberation Sans", Arial, sans-serif' font-style="normal" >HRS@0.6V</text>
<text x="302.00" y="217.10" font-size="5.8" font-weight="bold" fill="#000" text-anchor="start" font-family='"Liberation Sans", Arial, sans-serif' font-style="normal" >LRS@0.6V</text>
<text x="302.0" y="224.5" font-size="5.8" font-weight="bold" fill="#000" font-family='"Liberation Sans", Arial, sans-serif' textLength="57.7" lengthAdjust="spacingAndGlyphs">ON/OFF current ratio</text>
<text x="4.20" y="343.80" font-size="13.8" font-weight="bold" fill="#000" text-anchor="start" font-family='"Liberation Sans", Arial, sans-serif' font-style="normal" >(d)</text>
<rect x="22.6" y="353.7" width="108.70" height="80.80" fill="none" stroke="#000" stroke-width="0.8"/>
<line x1="22.60" y1="356.30" x2="24.20" y2="356.30" stroke="#000" stroke-width="0.9" />
<text x="20.00" y="357.70" font-size="3.9" font-weight="bold" fill="#111" text-anchor="end" font-family='"Liberation Sans", Arial, sans-serif'>10<tspan font-size="2.4" dy="-1.6">-1</tspan></text>
<line x1="22.60" y1="364.44" x2="24.20" y2="364.44" stroke="#000" stroke-width="0.9" />
<text x="20.00" y="365.84" font-size="3.9" font-weight="bold" fill="#111" text-anchor="end" font-family='"Liberation Sans", Arial, sans-serif'>10<tspan font-size="2.4" dy="-1.6">-2</tspan></text>
<line x1="22.60" y1="372.58" x2="24.20" y2="372.58" stroke="#000" stroke-width="0.9" />
<text x="20.00" y="373.98" font-size="3.9" font-weight="bold" fill="#111" text-anchor="end" font-family='"Liberation Sans", Arial, sans-serif'>10<tspan font-size="2.4" dy="-1.6">-3</tspan></text>
<line x1="22.60" y1="380.72" x2="24.20" y2="380.72" stroke="#000" stroke-width="0.9" />
<text x="20.00" y="382.12" font-size="3.9" font-weight="bold" fill="#111" text-anchor="end" font-family='"Liberation Sans", Arial, sans-serif'>10<tspan font-size="2.4" dy="-1.6">-4</tspan></text>
<line x1="22.60" y1="388.86" x2="24.20" y2="388.86" stroke="#000" stroke-width="0.9" />
<text x="20.00" y="390.26" font-size="3.9" font-weight="bold" fill="#111" text-anchor="end" font-family='"Liberation Sans", Arial, sans-serif'>10<tspan font-size="2.4" dy="-1.6">-5</tspan></text>
<line x1="22.60" y1="397.00" x2="24.20" y2="397.00" stroke="#000" stroke-width="0.9" />
<text x="20.00" y="398.40" font-size="3.9" font-weight="bold" fill="#111" text-anchor="end" font-family='"Liberation Sans", Arial, sans-serif'>10<tspan font-size="2.4" dy="-1.6">-6</tspan></text>
<line x1="22.60" y1="405.14" x2="24.20" y2="405.14" stroke="#000" stroke-width="0.9" />
<text x="20.00" y="406.54" font-size="3.9" font-weight="bold" fill="#111" text-anchor="end" font-family='"Liberation Sans", Arial, sans-serif'>10<tspan font-size="2.4" dy="-1.6">-7</tspan></text>
<line x1="22.60" y1="413.28" x2="24.20" y2="413.28" stroke="#000" stroke-width="0.9" />
<text x="20.00" y="414.68" font-size="3.9" font-weight="bold" fill="#111" text-anchor="end" font-family='"Liberation Sans", Arial, sans-serif'>10<tspan font-size="2.4" dy="-1.6">-8</tspan></text>
<line x1="22.60" y1="421.42" x2="24.20" y2="421.42" stroke="#000" stroke-width="0.9" />
<text x="20.00" y="422.82" font-size="3.9" font-weight="bold" fill="#111" text-anchor="end" font-family='"Liberation Sans", Arial, sans-serif'>10<tspan font-size="2.4" dy="-1.6">-9</tspan></text>
<line x1="22.60" y1="429.56" x2="24.20" y2="429.56" stroke="#000" stroke-width="0.9" />
<text x="20.00" y="430.96" font-size="3.9" font-weight="bold" fill="#111" text-anchor="end" font-family='"Liberation Sans", Arial, sans-serif'>10<tspan font-size="2.4" dy="-1.6">-10</tspan></text>
<line x1="32.90" y1="434.50" x2="32.90" y2="432.70" stroke="#000" stroke-width="0.5" />
<line x1="44.34" y1="434.50" x2="44.34" y2="433.50" stroke="#000" stroke-width="0.5" />
<line x1="51.03" y1="434.50" x2="51.03" y2="433.50" stroke="#000" stroke-width="0.5" />
<line x1="55.78" y1="434.50" x2="55.78" y2="433.50" stroke="#000" stroke-width="0.5" />
<line x1="59.46" y1="434.50" x2="59.46" y2="433.50" stroke="#000" stroke-width="0.5" />
<line x1="62.47" y1="434.50" x2="62.47" y2="433.50" stroke="#000" stroke-width="0.5" />
<line x1="65.01" y1="434.50" x2="65.01" y2="433.50" stroke="#000" stroke-width="0.5" />
<line x1="67.22" y1="434.50" x2="67.22" y2="433.50" stroke="#000" stroke-width="0.5" />
<line x1="69.16" y1="434.50" x2="69.16" y2="433.50" stroke="#000" stroke-width="0.5" />
<line x1="70.90" y1="434.50" x2="70.90" y2="432.70" stroke="#000" stroke-width="0.5" />
<line x1="82.34" y1="434.50" x2="82.34" y2="433.50" stroke="#000" stroke-width="0.5" />
<line x1="89.03" y1="434.50" x2="89.03" y2="433.50" stroke="#000" stroke-width="0.5" />
<line x1="93.78" y1="434.50" x2="93.78" y2="433.50" stroke="#000" stroke-width="0.5" />
<line x1="97.46" y1="434.50" x2="97.46" y2="433.50" stroke="#000" stroke-width="0.5" />
<line x1="100.47" y1="434.50" x2="100.47" y2="433.50" stroke="#000" stroke-width="0.5" />
<line x1="103.01" y1="434.50" x2="103.01" y2="433.50" stroke="#000" stroke-width="0.5" />
<line x1="105.22" y1="434.50" x2="105.22" y2="433.50" stroke="#000" stroke-width="0.5" />
<line x1="107.16" y1="434.50" x2="107.16" y2="433.50" stroke="#000" stroke-width="0.5" />
<line x1="108.90" y1="434.50" x2="108.90" y2="432.70" stroke="#000" stroke-width="0.5" />
<line x1="120.34" y1="434.50" x2="120.34" y2="433.50" stroke="#000" stroke-width="0.5" />
<line x1="127.03" y1="434.50" x2="127.03" y2="433.50" stroke="#000" stroke-width="0.5" />
<text x="32.90" y="438.70" font-size="3.6" font-weight="bold" fill="#000" text-anchor="middle" font-family='"Liberation Sans", Arial, sans-serif' font-style="normal" >0.01</text>
<text x="70.90" y="438.70" font-size="3.6" font-weight="bold" fill="#000" text-anchor="middle" font-family='"Liberation Sans", Arial, sans-serif' font-style="normal" >0.1</text>
<text x="108.90" y="438.70" font-size="3.6" font-weight="bold" fill="#000" text-anchor="middle" font-family='"Liberation Sans", Arial, sans-serif' font-style="normal" >1</text>
<text x="76.70" y="445.90" font-size="4.6" font-weight="bold" fill="#000" text-anchor="middle" font-family='"Liberation Sans", Arial, sans-serif' font-style="normal" >Voltage (V)</text>
<line x1="93.20" y1="406.90" x2="101.50" y2="406.90" stroke="#222" stroke-width="0.5" />
<circle cx="97.4" cy="406.9" r="1.25" fill="#fff" stroke="#222" stroke-width="0.55"/>
<text x="102.70" y="408.20" font-size="3.65" font-weight="bold" fill="#000" text-anchor="start" font-family='"Liberation Sans", Arial, sans-serif' font-style="normal" >Measured Data</text>
<text x="92.80" y="412.80" font-size="3.65" font-weight="bold" fill="#000" text-anchor="start" font-family='"Liberation Sans", Arial, sans-serif' font-style="normal" >Fitting lines:</text>
<line x1="92.80" y1="417.10" x2="101.20" y2="417.10" stroke="#e0604a" stroke-width="0.7" />
<text x="102.70" y="418.40" font-size="3.65" font-weight="bold" fill="#000" text-anchor="start" font-family='"Liberation Sans", Arial, sans-serif' font-style="normal" >Slope = 1.32</text>
<line x1="92.80" y1="421.72" x2="101.20" y2="421.72" stroke="#5a5ae6" stroke-width="0.7" />
<text x="102.70" y="423.02" font-size="3.65" font-weight="bold" fill="#000" text-anchor="start" font-family='"Liberation Sans", Arial, sans-serif' font-style="normal" >Slope = 1.95</text>
<line x1="92.80" y1="426.34" x2="101.20" y2="426.34" stroke="#e040e0" stroke-width="0.7" />
<text x="102.70" y="427.64" font-size="3.65" font-weight="bold" fill="#000" text-anchor="start" font-family='"Liberation Sans", Arial, sans-serif' font-style="normal" >Slope = 2.72</text>
<line x1="92.80" y1="430.96" x2="101.20" y2="430.96" stroke="#4caf50" stroke-width="0.7" />
<text x="102.70" y="432.26" font-size="3.65" font-weight="bold" fill="#000" text-anchor="start" font-family='"Liberation Sans", Arial, sans-serif' font-style="normal" >Slope = 1.00</text>
<text x="0" y="0" font-size="4.6" font-weight="bold" fill="#111" text-anchor="middle" font-family='"Liberation Sans", Arial, sans-serif' transform="translate(9.6 397.6) rotate(-90)">Current (A)</text>
<line x1="22.60" y1="423.30" x2="131.30" y2="392.40" stroke="#e0604a" stroke-width="0.55" />
<line x1="22.60" y1="432.20" x2="131.30" y2="386.55" stroke="#5a5ae6" stroke-width="0.55" />
<line x1="40.64" y1="434.50" x2="131.30" y2="381.40" stroke="#e040e0" stroke-width="0.55" />
<line x1="22.60" y1="377.60" x2="131.30" y2="354.20" stroke="#4caf50" stroke-width="0.7" />
<circle cx="32.9" cy="420.2" r="1.2" fill="none" stroke="#1e0e28" stroke-width="0.5"/>
<circle cx="44.3" cy="417.1" r="1.2" fill="none" stroke="#1e0e28" stroke-width="0.5"/>
<circle cx="51.0" cy="414.9" r="1.2" fill="none" stroke="#1e0e28" stroke-width="0.5"/>
<circle cx="55.8" cy="413.6" r="1.2" fill="none" stroke="#1e0e28" stroke-width="0.5"/>
<circle cx="59.5" cy="412.7" r="1.2" fill="none" stroke="#1e0e28" stroke-width="0.5"/>
<circle cx="62.5" cy="411.9" r="1.2" fill="none" stroke="#1e0e28" stroke-width="0.5"/>
<circle cx="65.0" cy="411.2" r="1.2" fill="none" stroke="#1e0e28" stroke-width="0.5"/>
<circle cx="67.2" cy="410.6" r="1.2" fill="none" stroke="#1e0e28" stroke-width="0.5"/>
<circle cx="69.2" cy="410.0" r="1.2" fill="none" stroke="#1e0e28" stroke-width="0.5"/>
<circle cx="70.9" cy="409.5" r="1.2" fill="none" stroke="#1e0e28" stroke-width="0.5"/>
<circle cx="72.5" cy="409.1" r="1.2" fill="none" stroke="#1e0e28" stroke-width="0.5"/>
<circle cx="73.9" cy="408.7" r="0.95" fill="none" stroke="#1e0e28" stroke-width="0.5"/>
<circle cx="75.2" cy="408.3" r="0.95" fill="none" stroke="#1e0e28" stroke-width="0.5"/>
<circle cx="76.5" cy="408.0" r="0.95" fill="none" stroke="#1e0e28" stroke-width="0.5"/>
<circle cx="77.6" cy="407.7" r="0.95" fill="none" stroke="#1e0e28" stroke-width="0.5"/>
<circle cx="78.7" cy="407.4" r="0.95" fill="none" stroke="#1e0e28" stroke-width="0.5"/>
<circle cx="79.7" cy="407.1" r="0.95" fill="none" stroke="#1e0e28" stroke-width="0.5"/>
<circle cx="80.6" cy="406.8" r="0.95" fill="none" stroke="#1e0e28" stroke-width="0.5"/>
<circle cx="81.5" cy="406.5" r="0.95" fill="none" stroke="#1e0e28" stroke-width="0.5"/>
<circle cx="82.3" cy="406.3" r="0.95" fill="none" stroke="#1e0e28" stroke-width="0.5"/>
<circle cx="83.1" cy="406.0" r="0.95" fill="none" stroke="#1e0e28" stroke-width="0.5"/>
<circle cx="83.9" cy="405.8" r="0.95" fill="none" stroke="#1e0e28" stroke-width="0.5"/>
<circle cx="84.6" cy="405.6" r="0.95" fill="none" stroke="#1e0e28" stroke-width="0.5"/>
<circle cx="85.3" cy="405.4" r="0.95" fill="none" stroke="#1e0e28" stroke-width="0.5"/>
<circle cx="86.0" cy="405.2" r="0.95" fill="none" stroke="#1e0e28" stroke-width="0.5"/>
<circle cx="86.7" cy="405.0" r="0.95" fill="none" stroke="#1e0e28" stroke-width="0.5"/>
<circle cx="87.3" cy="404.8" r="0.95" fill="none" stroke="#1e0e28" stroke-width="0.5"/>
<circle cx="87.9" cy="404.6" r="0.95" fill="none" stroke="#1e0e28" stroke-width="0.5"/>
<circle cx="88.5" cy="404.4" r="0.95" fill="none" stroke="#1e0e28" stroke-width="0.5"/>
<circle cx="89.0" cy="404.1" r="0.95" fill="none" stroke="#1e0e28" stroke-width="0.5"/>
<circle cx="89.6" cy="403.9" r="0.95" fill="none" stroke="#1e0e28" stroke-width="0.5"/>
<circle cx="90.1" cy="403.6" r="0.95" fill="none" stroke="#1e0e28" stroke-width="0.5"/>
<circle cx="90.6" cy="403.4" r="0.95" fill="none" stroke="#1e0e28" stroke-width="0.5"/>
<circle cx="91.1" cy="403.1" r="0.95" fill="none" stroke="#1e0e28" stroke-width="0.5"/>
<circle cx="91.6" cy="402.9" r="0.95" fill="none" stroke="#1e0e28" stroke-width="0.5"/>
<circle cx="92.0" cy="402.7" r="0.95" fill="none" stroke="#1e0e28" stroke-width="0.5"/>
<circle cx="92.5" cy="402.4" r="0.95" fill="none" stroke="#1e0e28" stroke-width="0.5"/>
<circle cx="92.9" cy="402.2" r="0.95" fill="none" stroke="#1e0e28" stroke-width="0.5"/>
<circle cx="93.4" cy="402.0" r="0.95" fill="none" stroke="#1e0e28" stroke-width="0.5"/>
<circle cx="93.8" cy="401.8" r="0.95" fill="none" stroke="#1e0e28" stroke-width="0.5"/>
<circle cx="94.2" cy="401.6" r="0.95" fill="none" stroke="#1e0e28" stroke-width="0.5"/>
<circle cx="94.6" cy="401.4" r="0.95" fill="none" stroke="#1e0e28" stroke-width="0.5"/>
<circle cx="95.0" cy="401.2" r="0.95" fill="none" stroke="#1e0e28" stroke-width="0.5"/>
<circle cx="95.4" cy="401.0" r="0.95" fill="none" stroke="#1e0e28" stroke-width="0.5"/>
<circle cx="95.7" cy="400.8" r="0.95" fill="none" stroke="#1e0e28" stroke-width="0.5"/>
<circle cx="96.1" cy="400.5" r="0.95" fill="none" stroke="#1e0e28" stroke-width="0.5"/>
<circle cx="96.4" cy="400.3" r="0.95" fill="none" stroke="#1e0e28" stroke-width="0.5"/>
<circle cx="96.8" cy="400.1" r="0.95" fill="none" stroke="#1e0e28" stroke-width="0.5"/>
<circle cx="97.1" cy="399.9" r="0.95" fill="none" stroke="#1e0e28" stroke-width="0.5"/>
<circle cx="97.5" cy="399.7" r="0.95" fill="none" stroke="#1e0e28" stroke-width="0.5"/>
<circle cx="97.8" cy="399.5" r="0.95" fill="none" stroke="#1e0e28" stroke-width="0.5"/>
<circle cx="98.1" cy="399.3" r="0.95" fill="none" stroke="#1e0e28" stroke-width="0.5"/>
<circle cx="98.4" cy="399.1" r="0.95" fill="none" stroke="#1e0e28" stroke-width="0.5"/>
<circle cx="98.7" cy="399.0" r="0.95" fill="none" stroke="#1e0e28" stroke-width="0.5"/>
<circle cx="99.0" cy="398.8" r="0.95" fill="none" stroke="#1e0e28" stroke-width="0.5"/>
<circle cx="99.6" cy="398.4" r="0.95" fill="none" stroke="#1e0e28" stroke-width="0.5"/>
<circle cx="100.2" cy="398.1" r="0.95" fill="none" stroke="#1e0e28" stroke-width="0.5"/>
<circle cx="100.7" cy="397.7" r="0.95" fill="none" stroke="#1e0e28" stroke-width="0.5"/>
<circle cx="101.3" cy="397.3" r="0.95" fill="none" stroke="#1e0e28" stroke-width="0.5"/>
<circle cx="101.8" cy="396.9" r="0.95" fill="none" stroke="#1e0e28" stroke-width="0.5"/>
<circle cx="102.3" cy="396.5" r="0.95" fill="none" stroke="#1e0e28" stroke-width="0.5"/>
<circle cx="102.8" cy="396.2" r="0.95" fill="none" stroke="#1e0e28" stroke-width="0.5"/>
<circle cx="103.2" cy="395.8" r="0.95" fill="none" stroke="#1e0e28" stroke-width="0.5"/>
<circle cx="103.7" cy="395.5" r="0.95" fill="none" stroke="#1e0e28" stroke-width="0.5"/>
<circle cx="104.2" cy="395.2" r="0.95" fill="none" stroke="#1e0e28" stroke-width="0.5"/>
<circle cx="104.6" cy="394.9" r="0.95" fill="none" stroke="#1e0e28" stroke-width="0.5"/>
<circle cx="105.0" cy="394.6" r="0.95" fill="none" stroke="#1e0e28" stroke-width="0.5"/>
<circle cx="105.4" cy="394.3" r="0.95" fill="none" stroke="#1e0e28" stroke-width="0.5"/>
<circle cx="105.8" cy="394.0" r="0.95" fill="none" stroke="#1e0e28" stroke-width="0.5"/>
<circle cx="106.2" cy="393.7" r="0.95" fill="none" stroke="#1e0e28" stroke-width="0.5"/>
<circle cx="106.6" cy="393.5" r="0.95" fill="none" stroke="#1e0e28" stroke-width="0.5"/>
<circle cx="107.0" cy="393.2" r="0.95" fill="none" stroke="#1e0e28" stroke-width="0.5"/>
<circle cx="107.3" cy="393.0" r="0.95" fill="none" stroke="#1e0e28" stroke-width="0.5"/>
<circle cx="107.7" cy="392.7" r="0.95" fill="none" stroke="#1e0e28" stroke-width="0.5"/>
<circle cx="108.1" cy="392.5" r="0.95" fill="none" stroke="#1e0e28" stroke-width="0.5"/>
<circle cx="108.4" cy="392.3" r="0.95" fill="none" stroke="#1e0e28" stroke-width="0.5"/>
<circle cx="108.7" cy="392.0" r="0.95" fill="none" stroke="#1e0e28" stroke-width="0.5"/>
<circle cx="109.1" cy="391.8" r="0.95" fill="none" stroke="#1e0e28" stroke-width="0.5"/>
<circle cx="109.4" cy="391.6" r="0.95" fill="none" stroke="#1e0e28" stroke-width="0.5"/>
<circle cx="109.7" cy="391.4" r="0.95" fill="none" stroke="#1e0e28" stroke-width="0.5"/>
<circle cx="110.0" cy="391.2" r="0.95" fill="none" stroke="#1e0e28" stroke-width="0.5"/>
<circle cx="110.3" cy="391.0" r="0.95" fill="none" stroke="#1e0e28" stroke-width="0.5"/>
<circle cx="110.6" cy="390.8" r="0.95" fill="none" stroke="#1e0e28" stroke-width="0.5"/>
<circle cx="111.1" cy="390.5" r="0.95" fill="none" stroke="#1e0e28" stroke-width="0.5"/>
<circle cx="111.5" cy="390.2" r="0.95" fill="none" stroke="#1e0e28" stroke-width="0.5"/>
<circle cx="111.9" cy="390.0" r="0.95" fill="none" stroke="#1e0e28" stroke-width="0.5"/>
<circle cx="112.3" cy="389.7" r="0.95" fill="none" stroke="#1e0e28" stroke-width="0.5"/>
<circle cx="112.7" cy="389.5" r="0.95" fill="none" stroke="#1e0e28" stroke-width="0.5"/>
<circle cx="113.1" cy="389.2" r="0.95" fill="none" stroke="#1e0e28" stroke-width="0.5"/>
<circle cx="113.5" cy="389.0" r="0.95" fill="none" stroke="#1e0e28" stroke-width="0.5"/>
<circle cx="113.9" cy="388.7" r="0.95" fill="none" stroke="#1e0e28" stroke-width="0.5"/>
<circle cx="114.2" cy="388.5" r="0.95" fill="none" stroke="#1e0e28" stroke-width="0.5"/>
<circle cx="114.6" cy="388.3" r="0.95" fill="none" stroke="#1e0e28" stroke-width="0.5"/>
<circle cx="114.9" cy="388.1" r="0.95" fill="none" stroke="#1e0e28" stroke-width="0.5"/>
<circle cx="115.3" cy="387.8" r="0.95" fill="none" stroke="#1e0e28" stroke-width="0.5"/>
<circle cx="115.6" cy="387.6" r="0.95" fill="none" stroke="#1e0e28" stroke-width="0.5"/>
<circle cx="115.9" cy="387.4" r="0.95" fill="none" stroke="#1e0e28" stroke-width="0.5"/>
<circle cx="116.2" cy="387.2" r="0.95" fill="none" stroke="#1e0e28" stroke-width="0.5"/>
<circle cx="116.6" cy="387.0" r="0.95" fill="none" stroke="#1e0e28" stroke-width="0.5"/>
<circle cx="116.9" cy="386.9" r="0.95" fill="none" stroke="#1e0e28" stroke-width="0.5"/>
<circle cx="117.2" cy="386.7" r="0.95" fill="none" stroke="#1e0e28" stroke-width="0.5"/>
<circle cx="117.6" cy="386.4" r="0.95" fill="none" stroke="#1e0e28" stroke-width="0.5"/>
<circle cx="117.9" cy="386.2" r="0.95" fill="none" stroke="#1e0e28" stroke-width="0.5"/>
<circle cx="118.3" cy="386.0" r="0.95" fill="none" stroke="#1e0e28" stroke-width="0.5"/>
<circle cx="118.7" cy="385.7" r="0.95" fill="none" stroke="#1e0e28" stroke-width="0.5"/>
<circle cx="119.1" cy="385.5" r="0.95" fill="none" stroke="#1e0e28" stroke-width="0.5"/>
<circle cx="119.4" cy="385.3" r="0.95" fill="none" stroke="#1e0e28" stroke-width="0.5"/>
<circle cx="119.8" cy="385.1" r="0.95" fill="none" stroke="#1e0e28" stroke-width="0.5"/>
<circle cx="120.1" cy="384.9" r="0.95" fill="none" stroke="#1e0e28" stroke-width="0.5"/>
<circle cx="120.4" cy="384.7" r="0.95" fill="none" stroke="#1e0e28" stroke-width="0.5"/>
<circle cx="120.7" cy="384.5" r="0.95" fill="none" stroke="#1e0e28" stroke-width="0.5"/>
<circle cx="121.1" cy="384.3" r="0.95" fill="none" stroke="#1e0e28" stroke-width="0.5"/>
<circle cx="121.4" cy="384.1" r="0.95" fill="none" stroke="#1e0e28" stroke-width="0.5"/>
<circle cx="121.7" cy="383.9" r="0.95" fill="none" stroke="#1e0e28" stroke-width="0.5"/>
<circle cx="32.9" cy="375.7" r="1.2" fill="none" stroke="#1a2a1a" stroke-width="0.5"/>
<circle cx="44.3" cy="373.2" r="1.2" fill="none" stroke="#1a2a1a" stroke-width="0.5"/>
<circle cx="51.0" cy="371.8" r="1.2" fill="none" stroke="#1a2a1a" stroke-width="0.5"/>
<circle cx="55.8" cy="370.8" r="1.2" fill="none" stroke="#1a2a1a" stroke-width="0.5"/>
<circle cx="59.5" cy="370.0" r="1.2" fill="none" stroke="#1a2a1a" stroke-width="0.5"/>
<circle cx="62.5" cy="369.3" r="1.2" fill="none" stroke="#1a2a1a" stroke-width="0.5"/>
<circle cx="65.0" cy="368.8" r="1.2" fill="none" stroke="#1a2a1a" stroke-width="0.5"/>
<circle cx="67.2" cy="368.3" r="1.2" fill="none" stroke="#1a2a1a" stroke-width="0.5"/>
<circle cx="69.2" cy="367.9" r="1.2" fill="none" stroke="#1a2a1a" stroke-width="0.5"/>
<circle cx="70.9" cy="367.5" r="1.2" fill="none" stroke="#1a2a1a" stroke-width="0.5"/>
<circle cx="72.5" cy="367.2" r="1.2" fill="none" stroke="#1a2a1a" stroke-width="0.5"/>
<circle cx="73.9" cy="366.9" r="0.95" fill="none" stroke="#1a2a1a" stroke-width="0.5"/>
<circle cx="75.2" cy="366.6" r="0.95" fill="none" stroke="#1a2a1a" stroke-width="0.5"/>
<circle cx="76.5" cy="366.3" r="0.95" fill="none" stroke="#1a2a1a" stroke-width="0.5"/>
<circle cx="77.6" cy="366.1" r="0.95" fill="none" stroke="#1a2a1a" stroke-width="0.5"/>
<circle cx="78.7" cy="365.8" r="0.95" fill="none" stroke="#1a2a1a" stroke-width="0.5"/>
<circle cx="79.7" cy="365.6" r="0.95" fill="none" stroke="#1a2a1a" stroke-width="0.5"/>
<circle cx="80.6" cy="365.4" r="0.95" fill="none" stroke="#1a2a1a" stroke-width="0.5"/>
<circle cx="81.5" cy="365.2" r="0.95" fill="none" stroke="#1a2a1a" stroke-width="0.5"/>
<circle cx="82.3" cy="365.0" r="0.95" fill="none" stroke="#1a2a1a" stroke-width="0.5"/>
<circle cx="83.1" cy="364.9" r="0.95" fill="none" stroke="#1a2a1a" stroke-width="0.5"/>
<circle cx="83.9" cy="364.7" r="0.95" fill="none" stroke="#1a2a1a" stroke-width="0.5"/>
<circle cx="84.6" cy="364.5" r="0.95" fill="none" stroke="#1a2a1a" stroke-width="0.5"/>
<circle cx="85.3" cy="364.4" r="0.95" fill="none" stroke="#1a2a1a" stroke-width="0.5"/>
<circle cx="86.0" cy="364.2" r="0.95" fill="none" stroke="#1a2a1a" stroke-width="0.5"/>
<circle cx="86.7" cy="364.1" r="0.95" fill="none" stroke="#1a2a1a" stroke-width="0.5"/>
<circle cx="87.3" cy="364.0" r="0.95" fill="none" stroke="#1a2a1a" stroke-width="0.5"/>
<circle cx="87.9" cy="363.8" r="0.95" fill="none" stroke="#1a2a1a" stroke-width="0.5"/>
<circle cx="88.5" cy="363.7" r="0.95" fill="none" stroke="#1a2a1a" stroke-width="0.5"/>
<circle cx="89.0" cy="363.6" r="0.95" fill="none" stroke="#1a2a1a" stroke-width="0.5"/>
<circle cx="89.6" cy="363.5" r="0.95" fill="none" stroke="#1a2a1a" stroke-width="0.5"/>
<circle cx="90.1" cy="363.4" r="0.95" fill="none" stroke="#1a2a1a" stroke-width="0.5"/>
<circle cx="90.6" cy="363.3" r="0.95" fill="none" stroke="#1a2a1a" stroke-width="0.5"/>
<circle cx="91.1" cy="363.2" r="0.95" fill="none" stroke="#1a2a1a" stroke-width="0.5"/>
<circle cx="91.6" cy="363.0" r="0.95" fill="none" stroke="#1a2a1a" stroke-width="0.5"/>
<circle cx="92.0" cy="362.9" r="0.95" fill="none" stroke="#1a2a1a" stroke-width="0.5"/>
<circle cx="92.5" cy="362.9" r="0.95" fill="none" stroke="#1a2a1a" stroke-width="0.5"/>
<circle cx="92.9" cy="362.8" r="0.95" fill="none" stroke="#1a2a1a" stroke-width="0.5"/>
<circle cx="93.4" cy="362.7" r="0.95" fill="none" stroke="#1a2a1a" stroke-width="0.5"/>
<circle cx="93.8" cy="362.6" r="0.95" fill="none" stroke="#1a2a1a" stroke-width="0.5"/>
<circle cx="94.2" cy="362.5" r="0.95" fill="none" stroke="#1a2a1a" stroke-width="0.5"/>
<circle cx="94.6" cy="362.4" r="0.95" fill="none" stroke="#1a2a1a" stroke-width="0.5"/>
<circle cx="95.0" cy="362.3" r="0.95" fill="none" stroke="#1a2a1a" stroke-width="0.5"/>
<circle cx="95.4" cy="362.2" r="0.95" fill="none" stroke="#1a2a1a" stroke-width="0.5"/>
<circle cx="95.7" cy="362.2" r="0.95" fill="none" stroke="#1a2a1a" stroke-width="0.5"/>
<circle cx="96.1" cy="362.1" r="0.95" fill="none" stroke="#1a2a1a" stroke-width="0.5"/>
<circle cx="96.4" cy="362.0" r="0.95" fill="none" stroke="#1a2a1a" stroke-width="0.5"/>
<circle cx="96.8" cy="361.9" r="0.95" fill="none" stroke="#1a2a1a" stroke-width="0.5"/>
<circle cx="97.1" cy="361.9" r="0.95" fill="none" stroke="#1a2a1a" stroke-width="0.5"/>
<circle cx="97.5" cy="361.8" r="0.95" fill="none" stroke="#1a2a1a" stroke-width="0.5"/>
<circle cx="97.8" cy="361.7" r="0.95" fill="none" stroke="#1a2a1a" stroke-width="0.5"/>
<circle cx="98.1" cy="361.6" r="0.95" fill="none" stroke="#1a2a1a" stroke-width="0.5"/>
<circle cx="98.4" cy="361.6" r="0.95" fill="none" stroke="#1a2a1a" stroke-width="0.5"/>
<circle cx="98.7" cy="361.5" r="0.95" fill="none" stroke="#1a2a1a" stroke-width="0.5"/>
<circle cx="99.0" cy="361.4" r="0.95" fill="none" stroke="#1a2a1a" stroke-width="0.5"/>
<circle cx="99.6" cy="361.3" r="0.95" fill="none" stroke="#1a2a1a" stroke-width="0.5"/>
<circle cx="100.2" cy="361.2" r="0.95" fill="none" stroke="#1a2a1a" stroke-width="0.5"/>
<circle cx="100.7" cy="361.1" r="0.95" fill="none" stroke="#1a2a1a" stroke-width="0.5"/>
<circle cx="101.3" cy="361.0" r="0.95" fill="none" stroke="#1a2a1a" stroke-width="0.5"/>
<circle cx="101.8" cy="360.9" r="0.95" fill="none" stroke="#1a2a1a" stroke-width="0.5"/>
<circle cx="102.3" cy="360.7" r="0.95" fill="none" stroke="#1a2a1a" stroke-width="0.5"/>
<circle cx="102.8" cy="360.6" r="0.95" fill="none" stroke="#1a2a1a" stroke-width="0.5"/>
<circle cx="103.2" cy="360.5" r="0.95" fill="none" stroke="#1a2a1a" stroke-width="0.5"/>
<circle cx="103.7" cy="360.4" r="0.95" fill="none" stroke="#1a2a1a" stroke-width="0.5"/>
<circle cx="104.2" cy="360.3" r="0.95" fill="none" stroke="#1a2a1a" stroke-width="0.5"/>
<circle cx="104.6" cy="360.2" r="0.95" fill="none" stroke="#1a2a1a" stroke-width="0.5"/>
<circle cx="105.0" cy="360.2" r="0.95" fill="none" stroke="#1a2a1a" stroke-width="0.5"/>
<circle cx="105.4" cy="360.1" r="0.95" fill="none" stroke="#1a2a1a" stroke-width="0.5"/>
<circle cx="105.8" cy="360.0" r="0.95" fill="none" stroke="#1a2a1a" stroke-width="0.5"/>
<circle cx="106.2" cy="359.9" r="0.95" fill="none" stroke="#1a2a1a" stroke-width="0.5"/>
<circle cx="106.6" cy="359.8" r="0.95" fill="none" stroke="#1a2a1a" stroke-width="0.5"/>
<circle cx="107.0" cy="359.7" r="0.95" fill="none" stroke="#1a2a1a" stroke-width="0.5"/>
<circle cx="107.3" cy="359.7" r="0.95" fill="none" stroke="#1a2a1a" stroke-width="0.5"/>
<circle cx="107.7" cy="359.6" r="0.95" fill="none" stroke="#1a2a1a" stroke-width="0.5"/>
<circle cx="108.1" cy="359.5" r="0.95" fill="none" stroke="#1a2a1a" stroke-width="0.5"/>
<circle cx="108.4" cy="359.4" r="0.95" fill="none" stroke="#1a2a1a" stroke-width="0.5"/>
<circle cx="108.7" cy="359.4" r="0.95" fill="none" stroke="#1a2a1a" stroke-width="0.5"/>
<circle cx="109.1" cy="359.3" r="0.95" fill="none" stroke="#1a2a1a" stroke-width="0.5"/>
<circle cx="109.4" cy="359.2" r="0.95" fill="none" stroke="#1a2a1a" stroke-width="0.5"/>
<circle cx="109.7" cy="359.1" r="0.95" fill="none" stroke="#1a2a1a" stroke-width="0.5"/>
<circle cx="110.0" cy="359.1" r="0.95" fill="none" stroke="#1a2a1a" stroke-width="0.5"/>
<circle cx="110.3" cy="359.0" r="0.95" fill="none" stroke="#1a2a1a" stroke-width="0.5"/>
<circle cx="110.6" cy="358.9" r="0.95" fill="none" stroke="#1a2a1a" stroke-width="0.5"/>
<circle cx="111.1" cy="358.9" r="0.95" fill="none" stroke="#1a2a1a" stroke-width="0.5"/>
<circle cx="111.5" cy="358.8" r="0.95" fill="none" stroke="#1a2a1a" stroke-width="0.5"/>
<circle cx="111.9" cy="358.7" r="0.95" fill="none" stroke="#1a2a1a" stroke-width="0.5"/>
<circle cx="112.3" cy="358.6" r="0.95" fill="none" stroke="#1a2a1a" stroke-width="0.5"/>
<circle cx="112.7" cy="358.5" r="0.95" fill="none" stroke="#1a2a1a" stroke-width="0.5"/>
<circle cx="113.1" cy="358.4" r="0.95" fill="none" stroke="#1a2a1a" stroke-width="0.5"/>
<circle cx="113.5" cy="358.3" r="0.95" fill="none" stroke="#1a2a1a" stroke-width="0.5"/>
<circle cx="113.9" cy="358.3" r="0.95" fill="none" stroke="#1a2a1a" stroke-width="0.5"/>
<circle cx="114.2" cy="358.2" r="0.95" fill="none" stroke="#1a2a1a" stroke-width="0.5"/>
<circle cx="114.6" cy="358.1" r="0.95" fill="none" stroke="#1a2a1a" stroke-width="0.5"/>
<circle cx="114.9" cy="358.0" r="0.95" fill="none" stroke="#1a2a1a" stroke-width="0.5"/>
<circle cx="115.3" cy="358.0" r="0.95" fill="none" stroke="#1a2a1a" stroke-width="0.5"/>
<circle cx="115.6" cy="357.9" r="0.95" fill="none" stroke="#1a2a1a" stroke-width="0.5"/>
<circle cx="115.9" cy="357.8" r="0.95" fill="none" stroke="#1a2a1a" stroke-width="0.5"/>
<circle cx="116.2" cy="357.7" r="0.95" fill="none" stroke="#1a2a1a" stroke-width="0.5"/>
<circle cx="116.6" cy="357.7" r="0.95" fill="none" stroke="#1a2a1a" stroke-width="0.5"/>
<circle cx="116.9" cy="357.6" r="0.95" fill="none" stroke="#1a2a1a" stroke-width="0.5"/>
<circle cx="117.2" cy="357.5" r="0.95" fill="none" stroke="#1a2a1a" stroke-width="0.5"/>
<circle cx="117.6" cy="357.5" r="0.95" fill="none" stroke="#1a2a1a" stroke-width="0.5"/>
<circle cx="117.9" cy="357.4" r="0.95" fill="none" stroke="#1a2a1a" stroke-width="0.5"/>
<circle cx="118.3" cy="357.3" r="0.95" fill="none" stroke="#1a2a1a" stroke-width="0.5"/>
<circle cx="118.7" cy="357.2" r="0.95" fill="none" stroke="#1a2a1a" stroke-width="0.5"/>
<circle cx="119.1" cy="357.1" r="0.95" fill="none" stroke="#1a2a1a" stroke-width="0.5"/>
<circle cx="119.4" cy="357.1" r="0.95" fill="none" stroke="#1a2a1a" stroke-width="0.5"/>
<circle cx="119.8" cy="357.0" r="0.95" fill="none" stroke="#1a2a1a" stroke-width="0.5"/>
<circle cx="120.1" cy="356.9" r="0.95" fill="none" stroke="#1a2a1a" stroke-width="0.5"/>
<circle cx="120.4" cy="356.8" r="0.95" fill="none" stroke="#1a2a1a" stroke-width="0.5"/>
<circle cx="120.7" cy="356.8" r="0.95" fill="none" stroke="#1a2a1a" stroke-width="0.5"/>
<circle cx="121.1" cy="356.7" r="0.95" fill="none" stroke="#1a2a1a" stroke-width="0.5"/>
<circle cx="121.4" cy="356.6" r="0.95" fill="none" stroke="#1a2a1a" stroke-width="0.5"/>
<circle cx="121.7" cy="356.6" r="0.95" fill="none" stroke="#1a2a1a" stroke-width="0.5"/>
<circle cx="122.0" cy="356.5" r="0.95" fill="none" stroke="#1a2a1a" stroke-width="0.5"/>
<circle cx="122.4" cy="356.4" r="0.95" fill="none" stroke="#1a2a1a" stroke-width="0.5"/>
<circle cx="122.7" cy="356.3" r="0.95" fill="none" stroke="#1a2a1a" stroke-width="0.5"/>
<circle cx="123.1" cy="356.3" r="0.95" fill="none" stroke="#1a2a1a" stroke-width="0.5"/>
<circle cx="123.4" cy="356.2" r="0.95" fill="none" stroke="#1a2a1a" stroke-width="0.5"/>
<circle cx="123.8" cy="356.1" r="0.95" fill="none" stroke="#1a2a1a" stroke-width="0.5"/>
<circle cx="124.1" cy="356.0" r="0.95" fill="none" stroke="#1a2a1a" stroke-width="0.5"/>
<circle cx="124.4" cy="356.0" r="0.95" fill="none" stroke="#1a2a1a" stroke-width="0.5"/>
<circle cx="124.7" cy="355.9" r="0.95" fill="none" stroke="#1a2a1a" stroke-width="0.5"/>
<circle cx="125.0" cy="355.8" r="0.95" fill="none" stroke="#1a2a1a" stroke-width="0.5"/>
<circle cx="125.4" cy="355.8" r="0.95" fill="none" stroke="#1a2a1a" stroke-width="0.5"/>
<circle cx="125.7" cy="355.7" r="0.95" fill="none" stroke="#1a2a1a" stroke-width="0.5"/>
<circle cx="126.0" cy="355.6" r="0.95" fill="none" stroke="#1a2a1a" stroke-width="0.5"/>
<circle cx="126.4" cy="355.6" r="0.95" fill="none" stroke="#1a2a1a" stroke-width="0.5"/>
<circle cx="126.7" cy="355.5" r="0.95" fill="none" stroke="#1a2a1a" stroke-width="0.5"/>
<circle cx="127.0" cy="355.4" r="0.95" fill="none" stroke="#1a2a1a" stroke-width="0.5"/>
<circle cx="127.4" cy="355.3" r="0.95" fill="none" stroke="#1a2a1a" stroke-width="0.5"/>
<circle cx="127.7" cy="355.3" r="0.95" fill="none" stroke="#1a2a1a" stroke-width="0.5"/>
<circle cx="128.0" cy="355.2" r="0.95" fill="none" stroke="#1a2a1a" stroke-width="0.5"/>
<circle cx="128.3" cy="355.1" r="0.95" fill="none" stroke="#1a2a1a" stroke-width="0.5"/>
<circle cx="128.6" cy="355.1" r="0.95" fill="none" stroke="#1a2a1a" stroke-width="0.5"/>
<circle cx="128.9" cy="355.0" r="0.95" fill="none" stroke="#1a2a1a" stroke-width="0.5"/>
<circle cx="129.3" cy="354.9" r="0.95" fill="none" stroke="#1a2a1a" stroke-width="0.5"/>
<circle cx="129.6" cy="354.9" r="0.95" fill="none" stroke="#1a2a1a" stroke-width="0.5"/>
<circle cx="129.9" cy="354.8" r="0.95" fill="none" stroke="#1a2a1a" stroke-width="0.5"/>
<circle cx="130.3" cy="354.7" r="0.95" fill="none" stroke="#1a2a1a" stroke-width="0.5"/>
<circle cx="130.6" cy="354.7" r="0.95" fill="none" stroke="#1a2a1a" stroke-width="0.5"/>
<circle cx="130.9" cy="354.6" r="0.95" fill="none" stroke="#1a2a1a" stroke-width="0.5"/>
<circle cx="131.2" cy="354.5" r="0.95" fill="none" stroke="#1a2a1a" stroke-width="0.5"/>
<circle cx="89.0" cy="362.7" r="1.2" fill="none" stroke="#101010" stroke-width="0.5"/>
<circle cx="89.6" cy="362.6" r="0.95" fill="none" stroke="#101010" stroke-width="0.5"/>
<circle cx="90.1" cy="362.5" r="0.95" fill="none" stroke="#101010" stroke-width="0.5"/>
<circle cx="90.6" cy="362.4" r="0.95" fill="none" stroke="#101010" stroke-width="0.5"/>
<circle cx="91.1" cy="362.3" r="0.95" fill="none" stroke="#101010" stroke-width="0.5"/>
<circle cx="91.6" cy="362.1" r="0.95" fill="none" stroke="#101010" stroke-width="0.5"/>
<circle cx="92.0" cy="362.0" r="0.95" fill="none" stroke="#101010" stroke-width="0.5"/>
<circle cx="92.5" cy="362.0" r="0.95" fill="none" stroke="#101010" stroke-width="0.5"/>
<circle cx="92.9" cy="361.9" r="0.95" fill="none" stroke="#101010" stroke-width="0.5"/>
<circle cx="93.4" cy="361.8" r="0.95" fill="none" stroke="#101010" stroke-width="0.5"/>
<circle cx="93.8" cy="361.7" r="0.95" fill="none" stroke="#101010" stroke-width="0.5"/>
<circle cx="94.2" cy="361.6" r="0.95" fill="none" stroke="#101010" stroke-width="0.5"/>
<circle cx="94.6" cy="361.5" r="0.95" fill="none" stroke="#101010" stroke-width="0.5"/>
<circle cx="95.0" cy="361.4" r="0.95" fill="none" stroke="#101010" stroke-width="0.5"/>
<circle cx="95.4" cy="361.3" r="0.95" fill="none" stroke="#101010" stroke-width="0.5"/>
<circle cx="95.7" cy="361.3" r="0.95" fill="none" stroke="#101010" stroke-width="0.5"/>
<circle cx="96.1" cy="361.2" r="0.95" fill="none" stroke="#101010" stroke-width="0.5"/>
<circle cx="96.4" cy="361.1" r="0.95" fill="none" stroke="#101010" stroke-width="0.5"/>
<circle cx="96.8" cy="361.0" r="0.95" fill="none" stroke="#101010" stroke-width="0.5"/>
<circle cx="97.1" cy="361.0" r="0.95" fill="none" stroke="#101010" stroke-width="0.5"/>
<circle cx="97.5" cy="360.9" r="0.95" fill="none" stroke="#101010" stroke-width="0.5"/>
<circle cx="97.8" cy="360.8" r="0.95" fill="none" stroke="#101010" stroke-width="0.5"/>
<circle cx="98.1" cy="360.7" r="0.95" fill="none" stroke="#101010" stroke-width="0.5"/>
<circle cx="98.4" cy="360.7" r="0.95" fill="none" stroke="#101010" stroke-width="0.5"/>
<circle cx="98.7" cy="360.6" r="0.95" fill="none" stroke="#101010" stroke-width="0.5"/>
<circle cx="99.0" cy="360.5" r="0.95" fill="none" stroke="#101010" stroke-width="0.5"/>
<circle cx="99.6" cy="360.4" r="0.95" fill="none" stroke="#101010" stroke-width="0.5"/>
<circle cx="100.2" cy="360.3" r="0.95" fill="none" stroke="#101010" stroke-width="0.5"/>
<circle cx="100.7" cy="360.2" r="0.95" fill="none" stroke="#101010" stroke-width="0.5"/>
<circle cx="101.3" cy="360.1" r="0.95" fill="none" stroke="#101010" stroke-width="0.5"/>
<circle cx="101.8" cy="360.0" r="0.95" fill="none" stroke="#101010" stroke-width="0.5"/>
<circle cx="102.3" cy="359.8" r="0.95" fill="none" stroke="#101010" stroke-width="0.5"/>
<circle cx="102.8" cy="359.7" r="0.95" fill="none" stroke="#101010" stroke-width="0.5"/>
<circle cx="103.2" cy="359.6" r="0.95" fill="none" stroke="#101010" stroke-width="0.5"/>
<circle cx="103.7" cy="359.5" r="0.95" fill="none" stroke="#101010" stroke-width="0.5"/>
<circle cx="104.2" cy="359.4" r="0.95" fill="none" stroke="#101010" stroke-width="0.5"/>
<circle cx="104.6" cy="359.3" r="0.95" fill="none" stroke="#101010" stroke-width="0.5"/>
<circle cx="105.0" cy="359.3" r="0.95" fill="none" stroke="#101010" stroke-width="0.5"/>
<circle cx="105.4" cy="359.2" r="0.95" fill="none" stroke="#101010" stroke-width="0.5"/>
<circle cx="105.8" cy="359.1" r="0.95" fill="none" stroke="#101010" stroke-width="0.5"/>
<circle cx="106.2" cy="359.0" r="0.95" fill="none" stroke="#101010" stroke-width="0.5"/>
<circle cx="106.6" cy="358.9" r="0.95" fill="none" stroke="#101010" stroke-width="0.5"/>
<circle cx="107.0" cy="358.8" r="0.95" fill="none" stroke="#101010" stroke-width="0.5"/>
<circle cx="107.3" cy="358.8" r="0.95" fill="none" stroke="#101010" stroke-width="0.5"/>
<circle cx="107.7" cy="358.7" r="0.95" fill="none" stroke="#101010" stroke-width="0.5"/>
<circle cx="108.1" cy="358.6" r="0.95" fill="none" stroke="#101010" stroke-width="0.5"/>
<circle cx="108.4" cy="358.5" r="0.95" fill="none" stroke="#101010" stroke-width="0.5"/>
<circle cx="108.7" cy="358.5" r="0.95" fill="none" stroke="#101010" stroke-width="0.5"/>
<circle cx="109.1" cy="358.4" r="0.95" fill="none" stroke="#101010" stroke-width="0.5"/>
<circle cx="109.4" cy="358.3" r="0.95" fill="none" stroke="#101010" stroke-width="0.5"/>
<circle cx="109.7" cy="358.2" r="0.95" fill="none" stroke="#101010" stroke-width="0.5"/>
<circle cx="110.0" cy="358.2" r="0.95" fill="none" stroke="#101010" stroke-width="0.5"/>
<circle cx="110.3" cy="358.1" r="0.95" fill="none" stroke="#101010" stroke-width="0.5"/>
<circle cx="110.6" cy="358.0" r="0.95" fill="none" stroke="#101010" stroke-width="0.5"/>
<circle cx="111.1" cy="358.0" r="0.95" fill="none" stroke="#101010" stroke-width="0.5"/>
<circle cx="111.5" cy="357.9" r="0.95" fill="none" stroke="#101010" stroke-width="0.5"/>
<circle cx="111.9" cy="357.8" r="0.95" fill="none" stroke="#101010" stroke-width="0.5"/>
<circle cx="112.3" cy="357.7" r="0.95" fill="none" stroke="#101010" stroke-width="0.5"/>
<circle cx="112.7" cy="357.6" r="0.95" fill="none" stroke="#101010" stroke-width="0.5"/>
<circle cx="113.1" cy="357.5" r="0.95" fill="none" stroke="#101010" stroke-width="0.5"/>
<circle cx="113.5" cy="357.4" r="0.95" fill="none" stroke="#101010" stroke-width="0.5"/>
<circle cx="113.9" cy="357.4" r="0.95" fill="none" stroke="#101010" stroke-width="0.5"/>
<circle cx="114.2" cy="357.3" r="0.95" fill="none" stroke="#101010" stroke-width="0.5"/>
<circle cx="114.6" cy="357.2" r="0.95" fill="none" stroke="#101010" stroke-width="0.5"/>
<circle cx="114.9" cy="357.1" r="0.95" fill="none" stroke="#101010" stroke-width="0.5"/>
<circle cx="115.3" cy="357.1" r="0.95" fill="none" stroke="#101010" stroke-width="0.5"/>
<circle cx="115.6" cy="357.0" r="0.95" fill="none" stroke="#101010" stroke-width="0.5"/>
<circle cx="115.9" cy="356.9" r="0.95" fill="none" stroke="#101010" stroke-width="0.5"/>
<circle cx="116.2" cy="356.8" r="0.95" fill="none" stroke="#101010" stroke-width="0.5"/>
<circle cx="116.6" cy="356.8" r="0.95" fill="none" stroke="#101010" stroke-width="0.5"/>
<circle cx="116.9" cy="356.7" r="0.95" fill="none" stroke="#101010" stroke-width="0.5"/>
<circle cx="117.2" cy="356.6" r="0.95" fill="none" stroke="#101010" stroke-width="0.5"/>
<circle cx="117.6" cy="356.6" r="0.95" fill="none" stroke="#101010" stroke-width="0.5"/>
<circle cx="117.9" cy="356.5" r="0.95" fill="none" stroke="#101010" stroke-width="0.5"/>
<circle cx="118.3" cy="356.4" r="0.95" fill="none" stroke="#101010" stroke-width="0.5"/>
<circle cx="118.7" cy="356.3" r="0.95" fill="none" stroke="#101010" stroke-width="0.5"/>
<circle cx="119.1" cy="356.2" r="0.95" fill="none" stroke="#101010" stroke-width="0.5"/>
<circle cx="119.4" cy="356.2" r="0.95" fill="none" stroke="#101010" stroke-width="0.5"/>
<circle cx="119.8" cy="356.1" r="0.95" fill="none" stroke="#101010" stroke-width="0.5"/>
<circle cx="120.1" cy="356.0" r="0.95" fill="none" stroke="#101010" stroke-width="0.5"/>
<circle cx="120.4" cy="355.9" r="0.95" fill="none" stroke="#101010" stroke-width="0.5"/>
<circle cx="120.7" cy="355.9" r="0.95" fill="none" stroke="#101010" stroke-width="0.5"/>
<circle cx="121.1" cy="355.8" r="0.95" fill="none" stroke="#101010" stroke-width="0.5"/>
<circle cx="121.4" cy="355.7" r="0.95" fill="none" stroke="#101010" stroke-width="0.5"/>
<circle cx="121.7" cy="355.7" r="0.95" fill="none" stroke="#101010" stroke-width="0.5"/>
<circle cx="122.0" cy="355.6" r="0.95" fill="none" stroke="#101010" stroke-width="0.5"/>
<circle cx="122.4" cy="355.5" r="0.95" fill="none" stroke="#101010" stroke-width="0.5"/>
<circle cx="122.7" cy="355.4" r="0.95" fill="none" stroke="#101010" stroke-width="0.5"/>
<circle cx="123.1" cy="355.4" r="0.95" fill="none" stroke="#101010" stroke-width="0.5"/>
<circle cx="123.4" cy="355.3" r="0.95" fill="none" stroke="#101010" stroke-width="0.5"/>
<circle cx="123.8" cy="355.2" r="0.95" fill="none" stroke="#101010" stroke-width="0.5"/>
<circle cx="124.1" cy="355.1" r="0.95" fill="none" stroke="#101010" stroke-width="0.5"/>
<circle cx="124.4" cy="355.1" r="0.95" fill="none" stroke="#101010" stroke-width="0.5"/>
<circle cx="124.7" cy="355.0" r="0.95" fill="none" stroke="#101010" stroke-width="0.5"/>
<circle cx="125.0" cy="354.9" r="0.95" fill="none" stroke="#101010" stroke-width="0.5"/>
<circle cx="125.4" cy="354.9" r="0.95" fill="none" stroke="#101010" stroke-width="0.5"/>
<circle cx="125.7" cy="354.8" r="0.95" fill="none" stroke="#101010" stroke-width="0.5"/>
<circle cx="126.0" cy="354.7" r="0.95" fill="none" stroke="#101010" stroke-width="0.5"/>
<circle cx="126.4" cy="354.7" r="0.95" fill="none" stroke="#101010" stroke-width="0.5"/>
<circle cx="126.7" cy="354.6" r="0.95" fill="none" stroke="#101010" stroke-width="0.5"/>
<circle cx="127.0" cy="354.6" r="0.95" fill="none" stroke="#101010" stroke-width="0.5"/>
<circle cx="127.4" cy="354.6" r="0.95" fill="none" stroke="#101010" stroke-width="0.5"/>
<circle cx="127.7" cy="354.6" r="0.95" fill="none" stroke="#101010" stroke-width="0.5"/>
<circle cx="128.0" cy="354.6" r="0.95" fill="none" stroke="#101010" stroke-width="0.5"/>
<circle cx="128.3" cy="354.6" r="0.95" fill="none" stroke="#101010" stroke-width="0.5"/>
<circle cx="128.6" cy="354.6" r="0.95" fill="none" stroke="#101010" stroke-width="0.5"/>
<circle cx="128.9" cy="354.6" r="0.95" fill="none" stroke="#101010" stroke-width="0.5"/>
<circle cx="129.3" cy="354.6" r="0.95" fill="none" stroke="#101010" stroke-width="0.5"/>
<circle cx="129.6" cy="354.6" r="0.95" fill="none" stroke="#101010" stroke-width="0.5"/>
<circle cx="129.9" cy="354.6" r="0.95" fill="none" stroke="#101010" stroke-width="0.5"/>
<circle cx="130.3" cy="354.6" r="0.95" fill="none" stroke="#101010" stroke-width="0.5"/>
<circle cx="130.6" cy="354.6" r="0.95" fill="none" stroke="#101010" stroke-width="0.5"/>
<circle cx="130.9" cy="354.6" r="0.95" fill="none" stroke="#101010" stroke-width="0.5"/>
<circle cx="131.2" cy="354.6" r="0.95" fill="none" stroke="#101010" stroke-width="0.5"/>
<line x1="121.70" y1="355.50" x2="121.70" y2="383.90" stroke="#333" stroke-width="0.5" />
<circle cx="121.7" cy="383.9" r="1.3" fill="#fff" stroke="#222" stroke-width="0.6"/>
<circle cx="117.10" cy="370.90" r="2.0" fill="none" stroke="#666" stroke-width="0.55"/>
<text x="117.10" y="371.98" font-size="3.0" font-weight="bold" fill="#666" text-anchor="middle" font-family='"Liberation Sans", Arial, sans-serif'>4</text>
<circle cx="49.70" cy="362.30" r="2.2" fill="none" stroke="#4caf50" stroke-width="0.55"/>
<text x="49.70" y="363.49" font-size="3.3" font-weight="bold" fill="#4caf50" text-anchor="middle" font-family='"Liberation Sans", Arial, sans-serif'>5</text>
<text x="53.60" y="364.30" font-size="5.6" font-weight="bold" fill="#4caf50" font-family='"Liberation Sans", Arial, sans-serif'><tspan> I~V</tspan></text>
<circle cx="100.30" cy="383.90" r="2.2" fill="none" stroke="#e040e0" stroke-width="0.55"/>
<text x="100.30" y="385.09" font-size="3.3" font-weight="bold" fill="#e040e0" text-anchor="middle" font-family='"Liberation Sans", Arial, sans-serif'>3</text>
<text x="104.20" y="385.90" font-size="5.6" font-weight="bold" fill="#e040e0" font-family='"Liberation Sans", Arial, sans-serif'><tspan> I~V</tspan><tspan font-size="3.2" dy="-1.9">3</tspan></text>
<circle cx="79.10" cy="394.60" r="2.2" fill="none" stroke="#4a4ae0" stroke-width="0.55"/>
<text x="79.10" y="395.79" font-size="3.3" font-weight="bold" fill="#4a4ae0" text-anchor="middle" font-family='"Liberation Sans", Arial, sans-serif'>2</text>
<text x="83.00" y="396.60" font-size="5.6" font-weight="bold" fill="#4a4ae0" font-family='"Liberation Sans", Arial, sans-serif'><tspan> I~V</tspan><tspan font-size="3.2" dy="-1.9">2</tspan></text>
<circle cx="42.30" cy="408.30" r="2.2" fill="none" stroke="#e0604a" stroke-width="0.55"/>
<text x="42.30" y="409.49" font-size="3.3" font-weight="bold" fill="#e0604a" text-anchor="middle" font-family='"Liberation Sans", Arial, sans-serif'>1</text>
<text x="46.20" y="410.30" font-size="5.6" font-weight="bold" fill="#e0604a" font-family='"Liberation Sans", Arial, sans-serif'><tspan> I~V</tspan></text>
<text x="3.40" y="446.50" font-size="13.8" font-weight="bold" fill="#000" text-anchor="start" font-family='"Liberation Sans", Arial, sans-serif' font-style="normal" >(e)</text>
<rect x="22.6" y="452.7" width="108.20" height="80.60" fill="none" stroke="#000" stroke-width="0.8"/>
<line x1="22.60" y1="455.00" x2="24.20" y2="455.00" stroke="#000" stroke-width="0.9" />
<text x="20.00" y="456.40" font-size="3.9" font-weight="bold" fill="#111" text-anchor="end" font-family='"Liberation Sans", Arial, sans-serif'>10<tspan font-size="2.4" dy="-1.6">-1</tspan></text>
<line x1="22.60" y1="461.69" x2="24.20" y2="461.69" stroke="#000" stroke-width="0.9" />
<text x="20.00" y="463.09" font-size="3.9" font-weight="bold" fill="#111" text-anchor="end" font-family='"Liberation Sans", Arial, sans-serif'>10<tspan font-size="2.4" dy="-1.6">-2</tspan></text>
<line x1="22.60" y1="468.38" x2="24.20" y2="468.38" stroke="#000" stroke-width="0.9" />
<text x="20.00" y="469.78" font-size="3.9" font-weight="bold" fill="#111" text-anchor="end" font-family='"Liberation Sans", Arial, sans-serif'>10<tspan font-size="2.4" dy="-1.6">-3</tspan></text>
<line x1="22.60" y1="475.07" x2="24.20" y2="475.07" stroke="#000" stroke-width="0.9" />
<text x="20.00" y="476.47" font-size="3.9" font-weight="bold" fill="#111" text-anchor="end" font-family='"Liberation Sans", Arial, sans-serif'>10<tspan font-size="2.4" dy="-1.6">-4</tspan></text>
<line x1="22.60" y1="481.76" x2="24.20" y2="481.76" stroke="#000" stroke-width="0.9" />
<text x="20.00" y="483.16" font-size="3.9" font-weight="bold" fill="#111" text-anchor="end" font-family='"Liberation Sans", Arial, sans-serif'>10<tspan font-size="2.4" dy="-1.6">-5</tspan></text>
<line x1="22.60" y1="488.45" x2="24.20" y2="488.45" stroke="#000" stroke-width="0.9" />
<text x="20.00" y="489.85" font-size="3.9" font-weight="bold" fill="#111" text-anchor="end" font-family='"Liberation Sans", Arial, sans-serif'>10<tspan font-size="2.4" dy="-1.6">-6</tspan></text>
<line x1="22.60" y1="495.14" x2="24.20" y2="495.14" stroke="#000" stroke-width="0.9" />
<text x="20.00" y="496.54" font-size="3.9" font-weight="bold" fill="#111" text-anchor="end" font-family='"Liberation Sans", Arial, sans-serif'>10<tspan font-size="2.4" dy="-1.6">-7</tspan></text>
<line x1="22.60" y1="501.83" x2="24.20" y2="501.83" stroke="#000" stroke-width="0.9" />
<text x="20.00" y="503.23" font-size="3.9" font-weight="bold" fill="#111" text-anchor="end" font-family='"Liberation Sans", Arial, sans-serif'>10<tspan font-size="2.4" dy="-1.6">-8</tspan></text>
<line x1="22.60" y1="508.52" x2="24.20" y2="508.52" stroke="#000" stroke-width="0.9" />
<text x="20.00" y="509.92" font-size="3.9" font-weight="bold" fill="#111" text-anchor="end" font-family='"Liberation Sans", Arial, sans-serif'>10<tspan font-size="2.4" dy="-1.6">-9</tspan></text>
<line x1="22.60" y1="515.21" x2="24.20" y2="515.21" stroke="#000" stroke-width="0.9" />
<text x="20.00" y="516.61" font-size="3.9" font-weight="bold" fill="#111" text-anchor="end" font-family='"Liberation Sans", Arial, sans-serif'>10<tspan font-size="2.4" dy="-1.6">-10</tspan></text>
<line x1="22.60" y1="521.90" x2="24.20" y2="521.90" stroke="#000" stroke-width="0.9" />
<text x="20.00" y="523.30" font-size="3.9" font-weight="bold" fill="#111" text-anchor="end" font-family='"Liberation Sans", Arial, sans-serif'>10<tspan font-size="2.4" dy="-1.6">-11</tspan></text>
<line x1="22.60" y1="528.59" x2="24.20" y2="528.59" stroke="#000" stroke-width="0.9" />
<text x="20.00" y="529.99" font-size="3.9" font-weight="bold" fill="#111" text-anchor="end" font-family='"Liberation Sans", Arial, sans-serif'>10<tspan font-size="2.4" dy="-1.6">-12</tspan></text>
<line x1="32.90" y1="533.30" x2="32.90" y2="531.50" stroke="#000" stroke-width="0.5" />
<line x1="43.87" y1="533.30" x2="43.87" y2="532.30" stroke="#000" stroke-width="0.5" />
<line x1="50.29" y1="533.30" x2="50.29" y2="532.30" stroke="#000" stroke-width="0.5" />
<line x1="54.85" y1="533.30" x2="54.85" y2="532.30" stroke="#000" stroke-width="0.5" />
<line x1="58.38" y1="533.30" x2="58.38" y2="532.30" stroke="#000" stroke-width="0.5" />
<line x1="61.26" y1="533.30" x2="61.26" y2="532.30" stroke="#000" stroke-width="0.5" />
<line x1="63.70" y1="533.30" x2="63.70" y2="532.30" stroke="#000" stroke-width="0.5" />
<line x1="65.82" y1="533.30" x2="65.82" y2="532.30" stroke="#000" stroke-width="0.5" />
<line x1="67.68" y1="533.30" x2="67.68" y2="532.30" stroke="#000" stroke-width="0.5" />
<line x1="69.35" y1="533.30" x2="69.35" y2="531.50" stroke="#000" stroke-width="0.5" />
<line x1="80.32" y1="533.30" x2="80.32" y2="532.30" stroke="#000" stroke-width="0.5" />
<line x1="86.74" y1="533.30" x2="86.74" y2="532.30" stroke="#000" stroke-width="0.5" />
<line x1="91.30" y1="533.30" x2="91.30" y2="532.30" stroke="#000" stroke-width="0.5" />
<line x1="94.83" y1="533.30" x2="94.83" y2="532.30" stroke="#000" stroke-width="0.5" />
<line x1="97.71" y1="533.30" x2="97.71" y2="532.30" stroke="#000" stroke-width="0.5" />
<line x1="100.15" y1="533.30" x2="100.15" y2="532.30" stroke="#000" stroke-width="0.5" />
<line x1="102.27" y1="533.30" x2="102.27" y2="532.30" stroke="#000" stroke-width="0.5" />
<line x1="104.13" y1="533.30" x2="104.13" y2="532.30" stroke="#000" stroke-width="0.5" />
<line x1="105.80" y1="533.30" x2="105.80" y2="531.50" stroke="#000" stroke-width="0.5" />
<line x1="116.77" y1="533.30" x2="116.77" y2="532.30" stroke="#000" stroke-width="0.5" />
<line x1="123.19" y1="533.30" x2="123.19" y2="532.30" stroke="#000" stroke-width="0.5" />
<line x1="127.75" y1="533.30" x2="127.75" y2="532.30" stroke="#000" stroke-width="0.5" />
<text x="32.90" y="537.50" font-size="3.6" font-weight="bold" fill="#000" text-anchor="middle" font-family='"Liberation Sans", Arial, sans-serif' font-style="normal" >0.01</text>
<text x="69.35" y="537.50" font-size="3.6" font-weight="bold" fill="#000" text-anchor="middle" font-family='"Liberation Sans", Arial, sans-serif' font-style="normal" >0.1</text>
<text x="105.80" y="537.50" font-size="3.6" font-weight="bold" fill="#000" text-anchor="middle" font-family='"Liberation Sans", Arial, sans-serif' font-style="normal" >1</text>
<text x="76.70" y="544.70" font-size="4.6" font-weight="bold" fill="#000" text-anchor="middle" font-family='"Liberation Sans", Arial, sans-serif' font-style="normal" >Voltage (V)</text>
<line x1="93.20" y1="505.80" x2="101.50" y2="505.80" stroke="#222" stroke-width="0.5" />
<circle cx="97.4" cy="505.8" r="1.25" fill="#fff" stroke="#222" stroke-width="0.55"/>
<text x="102.70" y="507.10" font-size="3.65" font-weight="bold" fill="#000" text-anchor="start" font-family='"Liberation Sans", Arial, sans-serif' font-style="normal" >Measured Data</text>
<text x="92.80" y="511.70" font-size="3.65" font-weight="bold" fill="#000" text-anchor="start" font-family='"Liberation Sans", Arial, sans-serif' font-style="normal" >Fitting lines:</text>
<line x1="92.80" y1="516.00" x2="101.20" y2="516.00" stroke="#e0604a" stroke-width="0.7" />
<text x="102.70" y="517.30" font-size="3.65" font-weight="bold" fill="#000" text-anchor="start" font-family='"Liberation Sans", Arial, sans-serif' font-style="normal" >Slope = 0.99</text>
<line x1="92.80" y1="520.62" x2="101.20" y2="520.62" stroke="#5a5ae6" stroke-width="0.7" />
<text x="102.70" y="521.92" font-size="3.65" font-weight="bold" fill="#000" text-anchor="start" font-family='"Liberation Sans", Arial, sans-serif' font-style="normal" >Slope = 0.80</text>
<line x1="92.80" y1="525.24" x2="101.20" y2="525.24" stroke="#e040e0" stroke-width="0.7" />
<text x="102.70" y="526.54" font-size="3.65" font-weight="bold" fill="#000" text-anchor="start" font-family='"Liberation Sans", Arial, sans-serif' font-style="normal" >Slope = 2.00</text>
<line x1="92.80" y1="529.86" x2="101.20" y2="529.86" stroke="#4caf50" stroke-width="0.7" />
<text x="102.70" y="531.16" font-size="3.65" font-weight="bold" fill="#000" text-anchor="start" font-family='"Liberation Sans", Arial, sans-serif' font-style="normal" >Slope = 3.06</text>
<text x="0" y="0" font-size="4.4" font-weight="bold" fill="#111" text-anchor="middle" font-family='"Liberation Sans", Arial, sans-serif' transform="translate(9.4 495.5) rotate(-90)">Current (A)</text>
<line x1="22.60" y1="472.70" x2="130.80" y2="453.04" stroke="#e0604a" stroke-width="0.7" />
<line x1="22.60" y1="513.20" x2="130.80" y2="497.22" stroke="#5a5ae6" stroke-width="0.55" />
<line x1="22.60" y1="521.60" x2="130.80" y2="481.89" stroke="#e040e0" stroke-width="0.55" />
<line x1="24.00" y1="533.30" x2="130.80" y2="473.33" stroke="#4caf50" stroke-width="0.55" />
<circle cx="32.9" cy="510.0" r="1.2" fill="none" stroke="#101010" stroke-width="0.6"/>
<circle cx="43.9" cy="509.2" r="1.2" fill="none" stroke="#101010" stroke-width="0.6"/>
<circle cx="50.3" cy="508.6" r="1.2" fill="none" stroke="#101010" stroke-width="0.6"/>
<circle cx="54.8" cy="508.2" r="1.2" fill="none" stroke="#101010" stroke-width="0.6"/>
<circle cx="58.4" cy="507.4" r="1.2" fill="none" stroke="#101010" stroke-width="0.6"/>
<circle cx="61.3" cy="506.6" r="1.2" fill="none" stroke="#101010" stroke-width="0.6"/>
<circle cx="63.7" cy="505.9" r="1.2" fill="none" stroke="#101010" stroke-width="0.6"/>
<circle cx="65.8" cy="505.2" r="1.2" fill="none" stroke="#101010" stroke-width="0.6"/>
<circle cx="67.7" cy="504.4" r="1.2" fill="none" stroke="#101010" stroke-width="0.6"/>
<circle cx="69.3" cy="503.7" r="1.2" fill="none" stroke="#101010" stroke-width="0.6"/>
<circle cx="70.9" cy="503.0" r="1.2" fill="none" stroke="#101010" stroke-width="0.6"/>
<circle cx="72.2" cy="502.5" r="0.95" fill="none" stroke="#101010" stroke-width="0.6"/>
<circle cx="73.5" cy="501.9" r="0.95" fill="none" stroke="#101010" stroke-width="0.6"/>
<circle cx="74.7" cy="501.4" r="0.95" fill="none" stroke="#101010" stroke-width="0.6"/>
<circle cx="75.8" cy="501.0" r="0.95" fill="none" stroke="#101010" stroke-width="0.6"/>
<circle cx="76.8" cy="500.5" r="0.95" fill="none" stroke="#101010" stroke-width="0.6"/>
<circle cx="77.7" cy="500.1" r="0.95" fill="none" stroke="#101010" stroke-width="0.6"/>
<circle cx="78.7" cy="499.8" r="0.95" fill="none" stroke="#101010" stroke-width="0.6"/>
<circle cx="79.5" cy="499.4" r="0.95" fill="none" stroke="#101010" stroke-width="0.6"/>
<circle cx="80.3" cy="499.1" r="0.95" fill="none" stroke="#101010" stroke-width="0.6"/>
<circle cx="81.1" cy="498.8" r="0.95" fill="none" stroke="#101010" stroke-width="0.6"/>
<circle cx="81.8" cy="498.5" r="0.95" fill="none" stroke="#101010" stroke-width="0.6"/>
<circle cx="82.5" cy="498.2" r="0.95" fill="none" stroke="#101010" stroke-width="0.6"/>
<circle cx="83.2" cy="497.9" r="0.95" fill="none" stroke="#101010" stroke-width="0.6"/>
<circle cx="83.9" cy="497.6" r="0.95" fill="none" stroke="#101010" stroke-width="0.6"/>
<circle cx="84.5" cy="497.4" r="0.95" fill="none" stroke="#101010" stroke-width="0.6"/>
<circle cx="85.1" cy="497.1" r="0.95" fill="none" stroke="#101010" stroke-width="0.6"/>
<circle cx="85.6" cy="496.9" r="0.95" fill="none" stroke="#101010" stroke-width="0.6"/>
<circle cx="86.2" cy="496.6" r="0.95" fill="none" stroke="#101010" stroke-width="0.6"/>
<circle cx="86.7" cy="496.4" r="0.95" fill="none" stroke="#101010" stroke-width="0.6"/>
<circle cx="87.3" cy="496.2" r="0.95" fill="none" stroke="#101010" stroke-width="0.6"/>
<circle cx="87.8" cy="496.0" r="0.95" fill="none" stroke="#101010" stroke-width="0.6"/>
<circle cx="88.2" cy="495.8" r="0.95" fill="none" stroke="#101010" stroke-width="0.6"/>
<circle cx="88.7" cy="495.6" r="0.95" fill="none" stroke="#101010" stroke-width="0.6"/>
<circle cx="89.2" cy="495.4" r="0.95" fill="none" stroke="#101010" stroke-width="0.6"/>
<circle cx="89.6" cy="495.1" r="0.95" fill="none" stroke="#101010" stroke-width="0.6"/>
<circle cx="90.1" cy="494.9" r="0.95" fill="none" stroke="#101010" stroke-width="0.6"/>
<circle cx="90.5" cy="494.7" r="0.95" fill="none" stroke="#101010" stroke-width="0.6"/>
<circle cx="90.9" cy="494.5" r="0.95" fill="none" stroke="#101010" stroke-width="0.6"/>
<circle cx="91.3" cy="494.3" r="0.95" fill="none" stroke="#101010" stroke-width="0.6"/>
<circle cx="91.7" cy="494.1" r="0.95" fill="none" stroke="#101010" stroke-width="0.6"/>
<circle cx="92.1" cy="494.0" r="0.95" fill="none" stroke="#101010" stroke-width="0.6"/>
<circle cx="92.4" cy="493.8" r="0.95" fill="none" stroke="#101010" stroke-width="0.6"/>
<circle cx="92.8" cy="493.6" r="0.95" fill="none" stroke="#101010" stroke-width="0.6"/>
<circle cx="93.2" cy="493.4" r="0.95" fill="none" stroke="#101010" stroke-width="0.6"/>
<circle cx="93.5" cy="493.3" r="0.95" fill="none" stroke="#101010" stroke-width="0.6"/>
<circle cx="93.8" cy="493.1" r="0.95" fill="none" stroke="#101010" stroke-width="0.6"/>
<circle cx="94.2" cy="492.9" r="0.95" fill="none" stroke="#101010" stroke-width="0.6"/>
<circle cx="94.5" cy="492.8" r="0.95" fill="none" stroke="#101010" stroke-width="0.6"/>
<circle cx="94.8" cy="492.6" r="0.95" fill="none" stroke="#101010" stroke-width="0.6"/>
<circle cx="95.1" cy="492.5" r="0.95" fill="none" stroke="#101010" stroke-width="0.6"/>
<circle cx="95.4" cy="492.3" r="0.95" fill="none" stroke="#101010" stroke-width="0.6"/>
<circle cx="95.7" cy="492.2" r="0.95" fill="none" stroke="#101010" stroke-width="0.6"/>
<circle cx="96.3" cy="491.9" r="0.95" fill="none" stroke="#101010" stroke-width="0.6"/>
<circle cx="96.9" cy="491.6" r="0.95" fill="none" stroke="#101010" stroke-width="0.6"/>
<circle cx="97.4" cy="491.3" r="0.95" fill="none" stroke="#101010" stroke-width="0.6"/>
<circle cx="98.0" cy="491.1" r="0.95" fill="none" stroke="#101010" stroke-width="0.6"/>
<circle cx="98.5" cy="490.8" r="0.95" fill="none" stroke="#101010" stroke-width="0.6"/>
<circle cx="99.0" cy="490.6" r="0.95" fill="none" stroke="#101010" stroke-width="0.6"/>
<circle cx="99.5" cy="490.3" r="0.95" fill="none" stroke="#101010" stroke-width="0.6"/>
<circle cx="99.9" cy="490.1" r="0.95" fill="none" stroke="#101010" stroke-width="0.6"/>
<circle cx="100.4" cy="489.9" r="0.95" fill="none" stroke="#101010" stroke-width="0.6"/>
<circle cx="100.8" cy="489.7" r="0.95" fill="none" stroke="#101010" stroke-width="0.6"/>
<circle cx="101.2" cy="489.5" r="0.95" fill="none" stroke="#101010" stroke-width="0.6"/>
<circle cx="101.7" cy="489.3" r="0.95" fill="none" stroke="#101010" stroke-width="0.6"/>
<circle cx="102.1" cy="489.0" r="0.95" fill="none" stroke="#101010" stroke-width="0.6"/>
<circle cx="102.5" cy="488.8" r="0.95" fill="none" stroke="#101010" stroke-width="0.6"/>
<circle cx="102.9" cy="488.6" r="0.95" fill="none" stroke="#101010" stroke-width="0.6"/>
<circle cx="103.2" cy="488.4" r="0.95" fill="none" stroke="#101010" stroke-width="0.6"/>
<circle cx="103.6" cy="488.1" r="0.95" fill="none" stroke="#101010" stroke-width="0.6"/>
<circle cx="104.0" cy="487.9" r="0.95" fill="none" stroke="#101010" stroke-width="0.6"/>
<circle cx="104.3" cy="487.7" r="0.95" fill="none" stroke="#101010" stroke-width="0.6"/>
<circle cx="104.7" cy="487.5" r="0.95" fill="none" stroke="#101010" stroke-width="0.6"/>
<circle cx="105.0" cy="487.3" r="0.95" fill="none" stroke="#101010" stroke-width="0.6"/>
<circle cx="105.3" cy="487.1" r="0.95" fill="none" stroke="#101010" stroke-width="0.6"/>
<circle cx="105.6" cy="486.9" r="0.95" fill="none" stroke="#101010" stroke-width="0.6"/>
<circle cx="106.0" cy="486.7" r="0.95" fill="none" stroke="#101010" stroke-width="0.6"/>
<circle cx="106.3" cy="486.5" r="0.95" fill="none" stroke="#101010" stroke-width="0.6"/>
<circle cx="106.6" cy="486.4" r="0.95" fill="none" stroke="#101010" stroke-width="0.6"/>
<circle cx="107.0" cy="486.1" r="0.95" fill="none" stroke="#101010" stroke-width="0.6"/>
<circle cx="107.5" cy="485.8" r="0.95" fill="none" stroke="#101010" stroke-width="0.6"/>
<circle cx="107.9" cy="485.6" r="0.95" fill="none" stroke="#101010" stroke-width="0.6"/>
<circle cx="108.3" cy="485.3" r="0.95" fill="none" stroke="#101010" stroke-width="0.6"/>
<circle cx="108.7" cy="485.1" r="0.95" fill="none" stroke="#101010" stroke-width="0.6"/>
<circle cx="109.1" cy="484.9" r="0.95" fill="none" stroke="#101010" stroke-width="0.6"/>
<circle cx="109.5" cy="484.7" r="0.95" fill="none" stroke="#101010" stroke-width="0.6"/>
<circle cx="109.8" cy="484.4" r="0.95" fill="none" stroke="#101010" stroke-width="0.6"/>
<circle cx="110.2" cy="484.2" r="0.95" fill="none" stroke="#101010" stroke-width="0.6"/>
<circle cx="110.6" cy="484.0" r="0.95" fill="none" stroke="#101010" stroke-width="0.6"/>
<circle cx="110.9" cy="483.8" r="0.95" fill="none" stroke="#101010" stroke-width="0.6"/>
<circle cx="111.2" cy="483.6" r="0.95" fill="none" stroke="#101010" stroke-width="0.6"/>
<circle cx="111.6" cy="483.4" r="0.95" fill="none" stroke="#101010" stroke-width="0.6"/>
<circle cx="111.9" cy="483.2" r="0.95" fill="none" stroke="#101010" stroke-width="0.6"/>
<circle cx="112.2" cy="483.0" r="0.95" fill="none" stroke="#101010" stroke-width="0.6"/>
<circle cx="112.5" cy="482.8" r="0.95" fill="none" stroke="#101010" stroke-width="0.6"/>
<circle cx="112.8" cy="482.6" r="0.95" fill="none" stroke="#101010" stroke-width="0.6"/>
<circle cx="113.1" cy="482.5" r="0.95" fill="none" stroke="#101010" stroke-width="0.6"/>
<circle cx="113.5" cy="482.2" r="0.95" fill="none" stroke="#101010" stroke-width="0.6"/>
<circle cx="113.9" cy="482.0" r="0.95" fill="none" stroke="#101010" stroke-width="0.6"/>
<circle cx="114.3" cy="481.8" r="0.95" fill="none" stroke="#101010" stroke-width="0.6"/>
<circle cx="114.7" cy="481.6" r="0.95" fill="none" stroke="#101010" stroke-width="0.6"/>
<circle cx="115.0" cy="481.3" r="0.95" fill="none" stroke="#101010" stroke-width="0.6"/>
<circle cx="115.4" cy="481.1" r="0.95" fill="none" stroke="#101010" stroke-width="0.6"/>
<circle cx="115.7" cy="480.8" r="0.95" fill="none" stroke="#101010" stroke-width="0.6"/>
<circle cx="116.0" cy="480.6" r="0.95" fill="none" stroke="#101010" stroke-width="0.6"/>
<circle cx="116.4" cy="480.3" r="0.95" fill="none" stroke="#101010" stroke-width="0.6"/>
<circle cx="116.7" cy="480.0" r="0.95" fill="none" stroke="#101010" stroke-width="0.6"/>
<circle cx="117.0" cy="479.8" r="0.95" fill="none" stroke="#101010" stroke-width="0.6"/>
<circle cx="117.3" cy="479.5" r="0.95" fill="none" stroke="#101010" stroke-width="0.6"/>
<circle cx="117.6" cy="479.3" r="0.95" fill="none" stroke="#101010" stroke-width="0.6"/>
<circle cx="118.0" cy="479.0" r="0.95" fill="none" stroke="#101010" stroke-width="0.6"/>
<circle cx="118.4" cy="478.7" r="0.95" fill="none" stroke="#101010" stroke-width="0.6"/>
<circle cx="118.7" cy="478.4" r="0.95" fill="none" stroke="#101010" stroke-width="0.6"/>
<circle cx="119.1" cy="478.2" r="0.95" fill="none" stroke="#101010" stroke-width="0.6"/>
<circle cx="119.4" cy="477.9" r="0.95" fill="none" stroke="#101010" stroke-width="0.6"/>
<circle cx="119.7" cy="477.6" r="0.95" fill="none" stroke="#101010" stroke-width="0.6"/>
<circle cx="120.0" cy="477.4" r="0.95" fill="none" stroke="#101010" stroke-width="0.6"/>
<circle cx="120.4" cy="477.1" r="0.95" fill="none" stroke="#101010" stroke-width="0.6"/>
<circle cx="120.7" cy="476.9" r="0.95" fill="none" stroke="#101010" stroke-width="0.6"/>
<circle cx="121.0" cy="476.6" r="0.95" fill="none" stroke="#101010" stroke-width="0.6"/>
<circle cx="121.3" cy="476.4" r="0.95" fill="none" stroke="#101010" stroke-width="0.6"/>
<circle cx="121.6" cy="476.1" r="0.95" fill="none" stroke="#101010" stroke-width="0.6"/>
<circle cx="122.0" cy="475.8" r="0.95" fill="none" stroke="#101010" stroke-width="0.6"/>
<circle cx="122.3" cy="475.5" r="0.95" fill="none" stroke="#101010" stroke-width="0.6"/>
<circle cx="122.7" cy="475.1" r="0.95" fill="none" stroke="#101010" stroke-width="0.6"/>
<circle cx="123.0" cy="474.8" r="0.95" fill="none" stroke="#101010" stroke-width="0.6"/>
<circle cx="123.3" cy="474.5" r="0.95" fill="none" stroke="#101010" stroke-width="0.6"/>
<circle cx="123.6" cy="474.1" r="0.95" fill="none" stroke="#101010" stroke-width="0.6"/>
<circle cx="123.9" cy="473.8" r="0.95" fill="none" stroke="#101010" stroke-width="0.6"/>
<circle cx="124.3" cy="473.5" r="0.95" fill="none" stroke="#101010" stroke-width="0.6"/>
<circle cx="124.6" cy="473.1" r="0.95" fill="none" stroke="#101010" stroke-width="0.6"/>
<circle cx="124.9" cy="472.8" r="0.95" fill="none" stroke="#101010" stroke-width="0.6"/>
<circle cx="125.3" cy="472.4" r="0.95" fill="none" stroke="#101010" stroke-width="0.6"/>
<circle cx="125.6" cy="472.1" r="0.95" fill="none" stroke="#101010" stroke-width="0.6"/>
<circle cx="125.9" cy="471.8" r="0.95" fill="none" stroke="#101010" stroke-width="0.6"/>
<circle cx="83.9" cy="495.9" r="1.2" fill="none" stroke="#101010" stroke-width="0.6"/>
<circle cx="84.5" cy="495.7" r="0.95" fill="none" stroke="#101010" stroke-width="0.6"/>
<circle cx="85.1" cy="496.2" r="0.95" fill="none" stroke="#101010" stroke-width="0.6"/>
<circle cx="85.6" cy="496.6" r="0.95" fill="none" stroke="#101010" stroke-width="0.6"/>
<circle cx="86.2" cy="496.4" r="0.95" fill="none" stroke="#101010" stroke-width="0.6"/>
<circle cx="86.7" cy="495.6" r="0.95" fill="none" stroke="#101010" stroke-width="0.6"/>
<circle cx="87.3" cy="494.7" r="0.95" fill="none" stroke="#101010" stroke-width="0.6"/>
<circle cx="87.8" cy="494.2" r="0.95" fill="none" stroke="#101010" stroke-width="0.6"/>
<circle cx="88.2" cy="494.2" r="0.95" fill="none" stroke="#101010" stroke-width="0.6"/>
<circle cx="88.7" cy="494.6" r="0.95" fill="none" stroke="#101010" stroke-width="0.6"/>
<circle cx="89.2" cy="494.9" r="0.95" fill="none" stroke="#101010" stroke-width="0.6"/>
<circle cx="89.6" cy="494.9" r="0.95" fill="none" stroke="#101010" stroke-width="0.6"/>
<circle cx="90.1" cy="494.5" r="0.95" fill="none" stroke="#101010" stroke-width="0.6"/>
<circle cx="90.5" cy="493.8" r="0.95" fill="none" stroke="#101010" stroke-width="0.6"/>
<circle cx="90.9" cy="493.1" r="0.95" fill="none" stroke="#101010" stroke-width="0.6"/>
<circle cx="91.3" cy="492.6" r="0.95" fill="none" stroke="#101010" stroke-width="0.6"/>
<circle cx="91.7" cy="492.4" r="0.95" fill="none" stroke="#101010" stroke-width="0.6"/>
<circle cx="92.1" cy="492.5" r="0.95" fill="none" stroke="#101010" stroke-width="0.6"/>
<circle cx="92.4" cy="492.8" r="0.95" fill="none" stroke="#101010" stroke-width="0.6"/>
<circle cx="92.8" cy="493.1" r="0.95" fill="none" stroke="#101010" stroke-width="0.6"/>
<circle cx="93.2" cy="493.2" r="0.95" fill="none" stroke="#101010" stroke-width="0.6"/>
<circle cx="93.5" cy="493.0" r="0.95" fill="none" stroke="#101010" stroke-width="0.6"/>
<circle cx="93.8" cy="492.6" r="0.95" fill="none" stroke="#101010" stroke-width="0.6"/>
<circle cx="94.2" cy="492.0" r="0.95" fill="none" stroke="#101010" stroke-width="0.6"/>
<circle cx="94.5" cy="491.4" r="0.95" fill="none" stroke="#101010" stroke-width="0.6"/>
<circle cx="94.8" cy="490.9" r="0.95" fill="none" stroke="#101010" stroke-width="0.6"/>
<circle cx="95.1" cy="490.7" r="0.95" fill="none" stroke="#101010" stroke-width="0.6"/>
<circle cx="95.4" cy="490.6" r="0.95" fill="none" stroke="#101010" stroke-width="0.6"/>
<circle cx="95.7" cy="490.7" r="0.95" fill="none" stroke="#101010" stroke-width="0.6"/>
<circle cx="96.3" cy="491.2" r="0.95" fill="none" stroke="#101010" stroke-width="0.6"/>
<circle cx="96.9" cy="491.4" r="0.95" fill="none" stroke="#101010" stroke-width="0.6"/>
<circle cx="97.4" cy="490.9" r="0.95" fill="none" stroke="#101010" stroke-width="0.6"/>
<circle cx="98.0" cy="490.0" r="0.95" fill="none" stroke="#101010" stroke-width="0.6"/>
<circle cx="98.5" cy="489.2" r="0.95" fill="none" stroke="#101010" stroke-width="0.6"/>
<circle cx="99.0" cy="488.8" r="0.95" fill="none" stroke="#101010" stroke-width="0.6"/>
<circle cx="99.5" cy="488.9" r="0.95" fill="none" stroke="#101010" stroke-width="0.6"/>
<circle cx="99.9" cy="489.3" r="0.95" fill="none" stroke="#101010" stroke-width="0.6"/>
<circle cx="100.4" cy="489.6" r="0.95" fill="none" stroke="#101010" stroke-width="0.6"/>
<circle cx="100.8" cy="489.5" r="0.95" fill="none" stroke="#101010" stroke-width="0.6"/>
<circle cx="101.2" cy="489.0" r="0.95" fill="none" stroke="#101010" stroke-width="0.6"/>
<circle cx="101.7" cy="488.2" r="0.95" fill="none" stroke="#101010" stroke-width="0.6"/>
<circle cx="102.1" cy="487.5" r="0.95" fill="none" stroke="#101010" stroke-width="0.6"/>
<circle cx="102.5" cy="487.0" r="0.95" fill="none" stroke="#101010" stroke-width="0.6"/>
<circle cx="102.9" cy="486.9" r="0.95" fill="none" stroke="#101010" stroke-width="0.6"/>
<circle cx="103.2" cy="487.0" r="0.95" fill="none" stroke="#101010" stroke-width="0.6"/>
<circle cx="103.6" cy="487.3" r="0.95" fill="none" stroke="#101010" stroke-width="0.6"/>
<circle cx="104.0" cy="487.5" r="0.95" fill="none" stroke="#101010" stroke-width="0.6"/>
<circle cx="104.3" cy="487.5" r="0.95" fill="none" stroke="#101010" stroke-width="0.6"/>
<circle cx="104.7" cy="487.2" r="0.95" fill="none" stroke="#101010" stroke-width="0.6"/>
<circle cx="105.0" cy="486.8" r="0.95" fill="none" stroke="#101010" stroke-width="0.6"/>
<circle cx="105.3" cy="486.1" r="0.95" fill="none" stroke="#101010" stroke-width="0.6"/>
<circle cx="105.6" cy="485.5" r="0.95" fill="none" stroke="#101010" stroke-width="0.6"/>
<circle cx="106.0" cy="485.0" r="0.95" fill="none" stroke="#101010" stroke-width="0.6"/>
<circle cx="106.3" cy="484.7" r="0.95" fill="none" stroke="#101010" stroke-width="0.6"/>
<circle cx="106.6" cy="484.7" r="0.95" fill="none" stroke="#101010" stroke-width="0.6"/>
<circle cx="107.0" cy="484.9" r="0.95" fill="none" stroke="#101010" stroke-width="0.6"/>
<circle cx="107.5" cy="485.2" r="0.95" fill="none" stroke="#101010" stroke-width="0.6"/>
<circle cx="107.9" cy="485.3" r="0.95" fill="none" stroke="#101010" stroke-width="0.6"/>
<circle cx="108.3" cy="485.1" r="0.95" fill="none" stroke="#101010" stroke-width="0.6"/>
<circle cx="108.7" cy="484.6" r="0.95" fill="none" stroke="#101010" stroke-width="0.6"/>
<circle cx="109.1" cy="483.8" r="0.95" fill="none" stroke="#101010" stroke-width="0.6"/>
<circle cx="109.5" cy="483.1" r="0.95" fill="none" stroke="#101010" stroke-width="0.6"/>
<circle cx="109.8" cy="482.6" r="0.95" fill="none" stroke="#101010" stroke-width="0.6"/>
<circle cx="110.2" cy="482.5" r="0.95" fill="none" stroke="#101010" stroke-width="0.6"/>
<circle cx="110.6" cy="482.6" r="0.95" fill="none" stroke="#101010" stroke-width="0.6"/>
<circle cx="110.9" cy="482.8" r="0.95" fill="none" stroke="#101010" stroke-width="0.6"/>
<circle cx="111.2" cy="483.1" r="0.95" fill="none" stroke="#101010" stroke-width="0.6"/>
<circle cx="111.6" cy="483.1" r="0.95" fill="none" stroke="#101010" stroke-width="0.6"/>
<circle cx="111.9" cy="483.0" r="0.95" fill="none" stroke="#101010" stroke-width="0.6"/>
<circle cx="112.2" cy="482.6" r="0.95" fill="none" stroke="#101010" stroke-width="0.6"/>
<circle cx="112.5" cy="482.1" r="0.95" fill="none" stroke="#101010" stroke-width="0.6"/>
<circle cx="112.8" cy="481.5" r="0.95" fill="none" stroke="#101010" stroke-width="0.6"/>
<circle cx="113.1" cy="480.9" r="0.95" fill="none" stroke="#101010" stroke-width="0.6"/>
<circle cx="113.5" cy="480.4" r="0.95" fill="none" stroke="#101010" stroke-width="0.6"/>
<circle cx="113.9" cy="480.3" r="0.95" fill="none" stroke="#101010" stroke-width="0.6"/>
<circle cx="114.3" cy="480.4" r="0.95" fill="none" stroke="#101010" stroke-width="0.6"/>
<circle cx="114.7" cy="480.7" r="0.95" fill="none" stroke="#101010" stroke-width="0.6"/>
<circle cx="115.0" cy="480.9" r="0.95" fill="none" stroke="#101010" stroke-width="0.6"/>
<circle cx="115.4" cy="480.9" r="0.95" fill="none" stroke="#101010" stroke-width="0.6"/>
<circle cx="115.7" cy="480.6" r="0.95" fill="none" stroke="#101010" stroke-width="0.6"/>
<circle cx="116.0" cy="480.0" r="0.95" fill="none" stroke="#101010" stroke-width="0.6"/>
<circle cx="116.4" cy="479.4" r="0.95" fill="none" stroke="#101010" stroke-width="0.6"/>
<circle cx="116.7" cy="478.7" r="0.95" fill="none" stroke="#101010" stroke-width="0.6"/>
<circle cx="117.0" cy="478.1" r="0.95" fill="none" stroke="#101010" stroke-width="0.6"/>
<circle cx="117.3" cy="477.7" r="0.95" fill="none" stroke="#101010" stroke-width="0.6"/>
<circle cx="117.6" cy="477.6" r="0.95" fill="none" stroke="#101010" stroke-width="0.6"/>
<circle cx="118.0" cy="477.6" r="0.95" fill="none" stroke="#101010" stroke-width="0.6"/>
<circle cx="118.4" cy="477.8" r="0.95" fill="none" stroke="#101010" stroke-width="0.6"/>
<circle cx="118.7" cy="478.0" r="0.95" fill="none" stroke="#101010" stroke-width="0.6"/>
<circle cx="119.1" cy="477.9" r="0.95" fill="none" stroke="#101010" stroke-width="0.6"/>
<circle cx="119.4" cy="477.7" r="0.95" fill="none" stroke="#101010" stroke-width="0.6"/>
<circle cx="119.7" cy="477.1" r="0.95" fill="none" stroke="#101010" stroke-width="0.6"/>
<circle cx="120.0" cy="476.5" r="0.95" fill="none" stroke="#101010" stroke-width="0.6"/>
<circle cx="120.4" cy="475.8" r="0.95" fill="none" stroke="#101010" stroke-width="0.6"/>
<circle cx="120.7" cy="475.2" r="0.95" fill="none" stroke="#101010" stroke-width="0.6"/>
<circle cx="121.0" cy="474.8" r="0.95" fill="none" stroke="#101010" stroke-width="0.6"/>
<circle cx="121.3" cy="474.7" r="0.95" fill="none" stroke="#101010" stroke-width="0.6"/>
<circle cx="121.6" cy="474.7" r="0.95" fill="none" stroke="#101010" stroke-width="0.6"/>
<circle cx="122.0" cy="474.8" r="0.95" fill="none" stroke="#101010" stroke-width="0.6"/>
<circle cx="122.3" cy="474.9" r="0.95" fill="none" stroke="#101010" stroke-width="0.6"/>
<circle cx="122.7" cy="474.9" r="0.95" fill="none" stroke="#101010" stroke-width="0.6"/>
<circle cx="123.0" cy="474.6" r="0.95" fill="none" stroke="#101010" stroke-width="0.6"/>
<circle cx="123.3" cy="474.1" r="0.95" fill="none" stroke="#101010" stroke-width="0.6"/>
<circle cx="123.6" cy="473.4" r="0.95" fill="none" stroke="#101010" stroke-width="0.6"/>
<circle cx="123.9" cy="472.7" r="0.95" fill="none" stroke="#101010" stroke-width="0.6"/>
<circle cx="124.3" cy="471.9" r="0.95" fill="none" stroke="#101010" stroke-width="0.6"/>
<circle cx="124.6" cy="471.3" r="0.95" fill="none" stroke="#101010" stroke-width="0.6"/>
<circle cx="124.9" cy="471.0" r="0.95" fill="none" stroke="#101010" stroke-width="0.6"/>
<circle cx="125.3" cy="470.9" r="0.95" fill="none" stroke="#101010" stroke-width="0.6"/>
<circle cx="125.6" cy="471.0" r="0.95" fill="none" stroke="#101010" stroke-width="0.6"/>
<circle cx="125.9" cy="471.1" r="0.95" fill="none" stroke="#101010" stroke-width="0.6"/>
<circle cx="83.9" cy="498.3" r="1.2" fill="none" stroke="#101010" stroke-width="0.6"/>
<circle cx="84.5" cy="499.0" r="0.95" fill="none" stroke="#101010" stroke-width="0.6"/>
<circle cx="85.1" cy="498.5" r="0.95" fill="none" stroke="#101010" stroke-width="0.6"/>
<circle cx="85.6" cy="497.3" r="0.95" fill="none" stroke="#101010" stroke-width="0.6"/>
<circle cx="86.2" cy="496.8" r="0.95" fill="none" stroke="#101010" stroke-width="0.6"/>
<circle cx="86.7" cy="497.3" r="0.95" fill="none" stroke="#101010" stroke-width="0.6"/>
<circle cx="87.3" cy="497.9" r="0.95" fill="none" stroke="#101010" stroke-width="0.6"/>
<circle cx="87.8" cy="497.5" r="0.95" fill="none" stroke="#101010" stroke-width="0.6"/>
<circle cx="88.2" cy="496.4" r="0.95" fill="none" stroke="#101010" stroke-width="0.6"/>
<circle cx="88.7" cy="495.7" r="0.95" fill="none" stroke="#101010" stroke-width="0.6"/>
<circle cx="89.2" cy="495.8" r="0.95" fill="none" stroke="#101010" stroke-width="0.6"/>
<circle cx="89.6" cy="496.3" r="0.95" fill="none" stroke="#101010" stroke-width="0.6"/>
<circle cx="90.1" cy="496.6" r="0.95" fill="none" stroke="#101010" stroke-width="0.6"/>
<circle cx="90.5" cy="496.2" r="0.95" fill="none" stroke="#101010" stroke-width="0.6"/>
<circle cx="90.9" cy="495.3" r="0.95" fill="none" stroke="#101010" stroke-width="0.6"/>
<circle cx="91.3" cy="494.5" r="0.95" fill="none" stroke="#101010" stroke-width="0.6"/>
<circle cx="91.7" cy="494.3" r="0.95" fill="none" stroke="#101010" stroke-width="0.6"/>
<circle cx="92.1" cy="494.6" r="0.95" fill="none" stroke="#101010" stroke-width="0.6"/>
<circle cx="92.4" cy="495.1" r="0.95" fill="none" stroke="#101010" stroke-width="0.6"/>
<circle cx="92.8" cy="495.3" r="0.95" fill="none" stroke="#101010" stroke-width="0.6"/>
<circle cx="93.2" cy="495.0" r="0.95" fill="none" stroke="#101010" stroke-width="0.6"/>
<circle cx="93.5" cy="494.3" r="0.95" fill="none" stroke="#101010" stroke-width="0.6"/>
<circle cx="93.8" cy="493.5" r="0.95" fill="none" stroke="#101010" stroke-width="0.6"/>
<circle cx="94.2" cy="493.0" r="0.95" fill="none" stroke="#101010" stroke-width="0.6"/>
<circle cx="94.5" cy="493.0" r="0.95" fill="none" stroke="#101010" stroke-width="0.6"/>
<circle cx="94.8" cy="493.3" r="0.95" fill="none" stroke="#101010" stroke-width="0.6"/>
<circle cx="95.1" cy="493.7" r="0.95" fill="none" stroke="#101010" stroke-width="0.6"/>
<circle cx="95.4" cy="493.9" r="0.95" fill="none" stroke="#101010" stroke-width="0.6"/>
<circle cx="95.7" cy="493.8" r="0.95" fill="none" stroke="#101010" stroke-width="0.6"/>
<circle cx="96.3" cy="492.7" r="0.95" fill="none" stroke="#101010" stroke-width="0.6"/>
<circle cx="96.9" cy="491.7" r="0.95" fill="none" stroke="#101010" stroke-width="0.6"/>
<circle cx="97.4" cy="491.8" r="0.95" fill="none" stroke="#101010" stroke-width="0.6"/>
<circle cx="98.0" cy="492.5" r="0.95" fill="none" stroke="#101010" stroke-width="0.6"/>
<circle cx="98.5" cy="492.5" r="0.95" fill="none" stroke="#101010" stroke-width="0.6"/>
<circle cx="99.0" cy="491.6" r="0.95" fill="none" stroke="#101010" stroke-width="0.6"/>
<circle cx="99.5" cy="490.6" r="0.95" fill="none" stroke="#101010" stroke-width="0.6"/>
<circle cx="99.9" cy="490.3" r="0.95" fill="none" stroke="#101010" stroke-width="0.6"/>
<circle cx="100.4" cy="490.8" r="0.95" fill="none" stroke="#101010" stroke-width="0.6"/>
<circle cx="100.8" cy="491.2" r="0.95" fill="none" stroke="#101010" stroke-width="0.6"/>
<circle cx="101.2" cy="491.1" r="0.95" fill="none" stroke="#101010" stroke-width="0.6"/>
<circle cx="101.7" cy="490.3" r="0.95" fill="none" stroke="#101010" stroke-width="0.6"/>
<circle cx="102.1" cy="489.4" r="0.95" fill="none" stroke="#101010" stroke-width="0.6"/>
<circle cx="102.5" cy="488.9" r="0.95" fill="none" stroke="#101010" stroke-width="0.6"/>
<circle cx="102.9" cy="489.0" r="0.95" fill="none" stroke="#101010" stroke-width="0.6"/>
<circle cx="103.2" cy="489.4" r="0.95" fill="none" stroke="#101010" stroke-width="0.6"/>
<circle cx="103.6" cy="489.7" r="0.95" fill="none" stroke="#101010" stroke-width="0.6"/>
<circle cx="104.0" cy="489.6" r="0.95" fill="none" stroke="#101010" stroke-width="0.6"/>
<circle cx="104.3" cy="488.9" r="0.95" fill="none" stroke="#101010" stroke-width="0.6"/>
<circle cx="104.7" cy="488.1" r="0.95" fill="none" stroke="#101010" stroke-width="0.6"/>
<circle cx="105.0" cy="487.5" r="0.95" fill="none" stroke="#101010" stroke-width="0.6"/>
<circle cx="105.3" cy="487.3" r="0.95" fill="none" stroke="#101010" stroke-width="0.6"/>
<circle cx="105.6" cy="487.4" r="0.95" fill="none" stroke="#101010" stroke-width="0.6"/>
<circle cx="106.0" cy="487.8" r="0.95" fill="none" stroke="#101010" stroke-width="0.6"/>
<circle cx="106.3" cy="488.1" r="0.95" fill="none" stroke="#101010" stroke-width="0.6"/>
<circle cx="106.6" cy="488.1" r="0.95" fill="none" stroke="#101010" stroke-width="0.6"/>
<circle cx="107.0" cy="487.4" r="0.95" fill="none" stroke="#101010" stroke-width="0.6"/>
<circle cx="107.5" cy="486.3" r="0.95" fill="none" stroke="#101010" stroke-width="0.6"/>
<circle cx="107.9" cy="485.7" r="0.95" fill="none" stroke="#101010" stroke-width="0.6"/>
<circle cx="108.3" cy="485.7" r="0.95" fill="none" stroke="#101010" stroke-width="0.6"/>
<circle cx="108.7" cy="486.2" r="0.95" fill="none" stroke="#101010" stroke-width="0.6"/>
<circle cx="109.1" cy="486.5" r="0.95" fill="none" stroke="#101010" stroke-width="0.6"/>
<circle cx="109.5" cy="486.3" r="0.95" fill="none" stroke="#101010" stroke-width="0.6"/>
<circle cx="109.8" cy="485.6" r="0.95" fill="none" stroke="#101010" stroke-width="0.6"/>
<circle cx="110.2" cy="484.7" r="0.95" fill="none" stroke="#101010" stroke-width="0.6"/>
<circle cx="110.6" cy="484.1" r="0.95" fill="none" stroke="#101010" stroke-width="0.6"/>
<circle cx="110.9" cy="484.0" r="0.95" fill="none" stroke="#101010" stroke-width="0.6"/>
<circle cx="111.2" cy="484.3" r="0.95" fill="none" stroke="#101010" stroke-width="0.6"/>
<circle cx="111.6" cy="484.7" r="0.95" fill="none" stroke="#101010" stroke-width="0.6"/>
<circle cx="111.9" cy="484.9" r="0.95" fill="none" stroke="#101010" stroke-width="0.6"/>
<circle cx="112.2" cy="484.6" r="0.95" fill="none" stroke="#101010" stroke-width="0.6"/>
<circle cx="112.5" cy="484.0" r="0.95" fill="none" stroke="#101010" stroke-width="0.6"/>
<circle cx="112.8" cy="483.3" r="0.95" fill="none" stroke="#101010" stroke-width="0.6"/>
<circle cx="113.1" cy="482.7" r="0.95" fill="none" stroke="#101010" stroke-width="0.6"/>
<circle cx="113.5" cy="482.4" r="0.95" fill="none" stroke="#101010" stroke-width="0.6"/>
<circle cx="113.9" cy="482.7" r="0.95" fill="none" stroke="#101010" stroke-width="0.6"/>
<circle cx="114.3" cy="483.1" r="0.95" fill="none" stroke="#101010" stroke-width="0.6"/>
<circle cx="114.7" cy="483.2" r="0.95" fill="none" stroke="#101010" stroke-width="0.6"/>
<circle cx="115.0" cy="482.9" r="0.95" fill="none" stroke="#101010" stroke-width="0.6"/>
<circle cx="115.4" cy="482.1" r="0.95" fill="none" stroke="#101010" stroke-width="0.6"/>
<circle cx="115.7" cy="481.2" r="0.95" fill="none" stroke="#101010" stroke-width="0.6"/>
<circle cx="116.0" cy="480.7" r="0.95" fill="none" stroke="#101010" stroke-width="0.6"/>
<circle cx="116.4" cy="480.5" r="0.95" fill="none" stroke="#101010" stroke-width="0.6"/>
<circle cx="116.7" cy="480.8" r="0.95" fill="none" stroke="#101010" stroke-width="0.6"/>
<circle cx="117.0" cy="481.1" r="0.95" fill="none" stroke="#101010" stroke-width="0.6"/>
<circle cx="117.3" cy="481.2" r="0.95" fill="none" stroke="#101010" stroke-width="0.6"/>
<circle cx="117.6" cy="481.0" r="0.95" fill="none" stroke="#101010" stroke-width="0.6"/>
<circle cx="118.0" cy="480.2" r="0.95" fill="none" stroke="#101010" stroke-width="0.6"/>
<circle cx="118.4" cy="479.3" r="0.95" fill="none" stroke="#101010" stroke-width="0.6"/>
<circle cx="118.7" cy="478.6" r="0.95" fill="none" stroke="#101010" stroke-width="0.6"/>
<circle cx="119.1" cy="478.4" r="0.95" fill="none" stroke="#101010" stroke-width="0.6"/>
<circle cx="119.4" cy="478.6" r="0.95" fill="none" stroke="#101010" stroke-width="0.6"/>
<circle cx="119.7" cy="478.9" r="0.95" fill="none" stroke="#101010" stroke-width="0.6"/>
<circle cx="120.0" cy="479.0" r="0.95" fill="none" stroke="#101010" stroke-width="0.6"/>
<circle cx="120.4" cy="478.8" r="0.95" fill="none" stroke="#101010" stroke-width="0.6"/>
<circle cx="120.7" cy="478.1" r="0.95" fill="none" stroke="#101010" stroke-width="0.6"/>
<circle cx="121.0" cy="477.4" r="0.95" fill="none" stroke="#101010" stroke-width="0.6"/>
<circle cx="121.3" cy="476.7" r="0.95" fill="none" stroke="#101010" stroke-width="0.6"/>
<circle cx="121.6" cy="476.2" r="0.95" fill="none" stroke="#101010" stroke-width="0.6"/>
<circle cx="122.0" cy="476.3" r="0.95" fill="none" stroke="#101010" stroke-width="0.6"/>
<circle cx="122.3" cy="476.5" r="0.95" fill="none" stroke="#101010" stroke-width="0.6"/>
<circle cx="122.7" cy="476.7" r="0.95" fill="none" stroke="#101010" stroke-width="0.6"/>
<circle cx="123.0" cy="476.5" r="0.95" fill="none" stroke="#101010" stroke-width="0.6"/>
<circle cx="123.3" cy="475.9" r="0.95" fill="none" stroke="#101010" stroke-width="0.6"/>
<circle cx="123.6" cy="475.1" r="0.95" fill="none" stroke="#101010" stroke-width="0.6"/>
<circle cx="123.9" cy="474.2" r="0.95" fill="none" stroke="#101010" stroke-width="0.6"/>
<circle cx="124.3" cy="473.6" r="0.95" fill="none" stroke="#101010" stroke-width="0.6"/>
<circle cx="124.6" cy="473.4" r="0.95" fill="none" stroke="#101010" stroke-width="0.6"/>
<circle cx="124.9" cy="473.6" r="0.95" fill="none" stroke="#101010" stroke-width="0.6"/>
<circle cx="125.3" cy="473.8" r="0.95" fill="none" stroke="#101010" stroke-width="0.6"/>
<circle cx="125.6" cy="473.8" r="0.95" fill="none" stroke="#101010" stroke-width="0.6"/>
<circle cx="125.9" cy="473.4" r="0.95" fill="none" stroke="#101010" stroke-width="0.6"/>
<circle cx="32.9" cy="470.5" r="1.2" fill="none" stroke="#2a0a0a" stroke-width="0.5"/>
<circle cx="43.9" cy="468.5" r="1.2" fill="none" stroke="#2a0a0a" stroke-width="0.5"/>
<circle cx="50.3" cy="467.4" r="1.2" fill="none" stroke="#2a0a0a" stroke-width="0.5"/>
<circle cx="54.8" cy="466.5" r="1.2" fill="none" stroke="#2a0a0a" stroke-width="0.5"/>
<circle cx="58.4" cy="465.9" r="1.2" fill="none" stroke="#2a0a0a" stroke-width="0.5"/>
<circle cx="61.3" cy="465.4" r="1.2" fill="none" stroke="#2a0a0a" stroke-width="0.5"/>
<circle cx="63.7" cy="464.9" r="1.2" fill="none" stroke="#2a0a0a" stroke-width="0.5"/>
<circle cx="65.8" cy="464.5" r="1.2" fill="none" stroke="#2a0a0a" stroke-width="0.5"/>
<circle cx="67.7" cy="464.2" r="1.2" fill="none" stroke="#2a0a0a" stroke-width="0.5"/>
<circle cx="69.3" cy="463.9" r="1.2" fill="none" stroke="#2a0a0a" stroke-width="0.5"/>
<circle cx="70.9" cy="463.6" r="1.2" fill="none" stroke="#2a0a0a" stroke-width="0.5"/>
<circle cx="72.2" cy="463.4" r="0.95" fill="none" stroke="#2a0a0a" stroke-width="0.5"/>
<circle cx="73.5" cy="463.2" r="0.95" fill="none" stroke="#2a0a0a" stroke-width="0.5"/>
<circle cx="74.7" cy="462.9" r="0.95" fill="none" stroke="#2a0a0a" stroke-width="0.5"/>
<circle cx="75.8" cy="462.7" r="0.95" fill="none" stroke="#2a0a0a" stroke-width="0.5"/>
<circle cx="76.8" cy="462.6" r="0.95" fill="none" stroke="#2a0a0a" stroke-width="0.5"/>
<circle cx="77.7" cy="462.4" r="0.95" fill="none" stroke="#2a0a0a" stroke-width="0.5"/>
<circle cx="78.7" cy="462.2" r="0.95" fill="none" stroke="#2a0a0a" stroke-width="0.5"/>
<circle cx="79.5" cy="462.1" r="0.95" fill="none" stroke="#2a0a0a" stroke-width="0.5"/>
<circle cx="80.3" cy="461.9" r="0.95" fill="none" stroke="#2a0a0a" stroke-width="0.5"/>
<circle cx="81.1" cy="461.8" r="0.95" fill="none" stroke="#2a0a0a" stroke-width="0.5"/>
<circle cx="81.8" cy="461.6" r="0.95" fill="none" stroke="#2a0a0a" stroke-width="0.5"/>
<circle cx="82.5" cy="461.5" r="0.95" fill="none" stroke="#2a0a0a" stroke-width="0.5"/>
<circle cx="83.2" cy="461.4" r="0.95" fill="none" stroke="#2a0a0a" stroke-width="0.5"/>
<circle cx="83.9" cy="461.3" r="0.95" fill="none" stroke="#2a0a0a" stroke-width="0.5"/>
<circle cx="84.5" cy="461.2" r="0.95" fill="none" stroke="#2a0a0a" stroke-width="0.5"/>
<circle cx="85.1" cy="461.0" r="0.95" fill="none" stroke="#2a0a0a" stroke-width="0.5"/>
<circle cx="85.6" cy="460.9" r="0.95" fill="none" stroke="#2a0a0a" stroke-width="0.5"/>
<circle cx="86.2" cy="460.8" r="0.95" fill="none" stroke="#2a0a0a" stroke-width="0.5"/>
<circle cx="86.7" cy="460.7" r="0.95" fill="none" stroke="#2a0a0a" stroke-width="0.5"/>
<circle cx="87.3" cy="460.7" r="0.95" fill="none" stroke="#2a0a0a" stroke-width="0.5"/>
<circle cx="87.8" cy="460.6" r="0.95" fill="none" stroke="#2a0a0a" stroke-width="0.5"/>
<circle cx="88.2" cy="460.5" r="0.95" fill="none" stroke="#2a0a0a" stroke-width="0.5"/>
<circle cx="88.7" cy="460.4" r="0.95" fill="none" stroke="#2a0a0a" stroke-width="0.5"/>
<circle cx="89.2" cy="460.3" r="0.95" fill="none" stroke="#2a0a0a" stroke-width="0.5"/>
<circle cx="89.6" cy="460.2" r="0.95" fill="none" stroke="#2a0a0a" stroke-width="0.5"/>
<circle cx="90.1" cy="460.1" r="0.95" fill="none" stroke="#2a0a0a" stroke-width="0.5"/>
<circle cx="90.5" cy="460.1" r="0.95" fill="none" stroke="#2a0a0a" stroke-width="0.5"/>
<circle cx="90.9" cy="460.0" r="0.95" fill="none" stroke="#2a0a0a" stroke-width="0.5"/>
<circle cx="91.3" cy="459.9" r="0.95" fill="none" stroke="#2a0a0a" stroke-width="0.5"/>
<circle cx="91.7" cy="459.8" r="0.95" fill="none" stroke="#2a0a0a" stroke-width="0.5"/>
<circle cx="92.1" cy="459.8" r="0.95" fill="none" stroke="#2a0a0a" stroke-width="0.5"/>
<circle cx="92.4" cy="459.7" r="0.95" fill="none" stroke="#2a0a0a" stroke-width="0.5"/>
<circle cx="92.8" cy="459.6" r="0.95" fill="none" stroke="#2a0a0a" stroke-width="0.5"/>
<circle cx="93.2" cy="459.6" r="0.95" fill="none" stroke="#2a0a0a" stroke-width="0.5"/>
<circle cx="93.5" cy="459.5" r="0.95" fill="none" stroke="#2a0a0a" stroke-width="0.5"/>
<circle cx="93.8" cy="459.5" r="0.95" fill="none" stroke="#2a0a0a" stroke-width="0.5"/>
<circle cx="94.2" cy="459.4" r="0.95" fill="none" stroke="#2a0a0a" stroke-width="0.5"/>
<circle cx="94.5" cy="459.3" r="0.95" fill="none" stroke="#2a0a0a" stroke-width="0.5"/>
<circle cx="94.8" cy="459.3" r="0.95" fill="none" stroke="#2a0a0a" stroke-width="0.5"/>
<circle cx="95.1" cy="459.2" r="0.95" fill="none" stroke="#2a0a0a" stroke-width="0.5"/>
<circle cx="95.4" cy="459.2" r="0.95" fill="none" stroke="#2a0a0a" stroke-width="0.5"/>
<circle cx="95.7" cy="459.1" r="0.95" fill="none" stroke="#2a0a0a" stroke-width="0.5"/>
<circle cx="96.3" cy="459.0" r="0.95" fill="none" stroke="#2a0a0a" stroke-width="0.5"/>
<circle cx="96.9" cy="458.9" r="0.95" fill="none" stroke="#2a0a0a" stroke-width="0.5"/>
<circle cx="97.4" cy="458.8" r="0.95" fill="none" stroke="#2a0a0a" stroke-width="0.5"/>
<circle cx="98.0" cy="458.7" r="0.95" fill="none" stroke="#2a0a0a" stroke-width="0.5"/>
<circle cx="98.5" cy="458.6" r="0.95" fill="none" stroke="#2a0a0a" stroke-width="0.5"/>
<circle cx="99.0" cy="458.5" r="0.95" fill="none" stroke="#2a0a0a" stroke-width="0.5"/>
<circle cx="99.5" cy="458.4" r="0.95" fill="none" stroke="#2a0a0a" stroke-width="0.5"/>
<circle cx="99.9" cy="458.3" r="0.95" fill="none" stroke="#2a0a0a" stroke-width="0.5"/>
<circle cx="100.4" cy="458.3" r="0.95" fill="none" stroke="#2a0a0a" stroke-width="0.5"/>
<circle cx="100.8" cy="458.2" r="0.95" fill="none" stroke="#2a0a0a" stroke-width="0.5"/>
<circle cx="101.2" cy="458.1" r="0.95" fill="none" stroke="#2a0a0a" stroke-width="0.5"/>
<circle cx="101.7" cy="458.0" r="0.95" fill="none" stroke="#2a0a0a" stroke-width="0.5"/>
<circle cx="102.1" cy="458.0" r="0.95" fill="none" stroke="#2a0a0a" stroke-width="0.5"/>
<circle cx="102.5" cy="457.9" r="0.95" fill="none" stroke="#2a0a0a" stroke-width="0.5"/>
<circle cx="102.9" cy="457.8" r="0.95" fill="none" stroke="#2a0a0a" stroke-width="0.5"/>
<circle cx="103.2" cy="457.8" r="0.95" fill="none" stroke="#2a0a0a" stroke-width="0.5"/>
<circle cx="103.6" cy="457.7" r="0.95" fill="none" stroke="#2a0a0a" stroke-width="0.5"/>
<circle cx="104.0" cy="457.6" r="0.95" fill="none" stroke="#2a0a0a" stroke-width="0.5"/>
<circle cx="104.3" cy="457.6" r="0.95" fill="none" stroke="#2a0a0a" stroke-width="0.5"/>
<circle cx="104.7" cy="457.5" r="0.95" fill="none" stroke="#2a0a0a" stroke-width="0.5"/>
<circle cx="105.0" cy="457.4" r="0.95" fill="none" stroke="#2a0a0a" stroke-width="0.5"/>
<circle cx="105.3" cy="457.4" r="0.95" fill="none" stroke="#2a0a0a" stroke-width="0.5"/>
<circle cx="105.6" cy="457.3" r="0.95" fill="none" stroke="#2a0a0a" stroke-width="0.5"/>
<circle cx="106.0" cy="457.3" r="0.95" fill="none" stroke="#2a0a0a" stroke-width="0.5"/>
<circle cx="106.3" cy="457.2" r="0.95" fill="none" stroke="#2a0a0a" stroke-width="0.5"/>
<circle cx="106.6" cy="457.1" r="0.95" fill="none" stroke="#2a0a0a" stroke-width="0.5"/>
<circle cx="107.0" cy="457.1" r="0.95" fill="none" stroke="#2a0a0a" stroke-width="0.5"/>
<circle cx="107.5" cy="457.0" r="0.95" fill="none" stroke="#2a0a0a" stroke-width="0.5"/>
<circle cx="107.9" cy="456.9" r="0.95" fill="none" stroke="#2a0a0a" stroke-width="0.5"/>
<circle cx="108.3" cy="456.8" r="0.95" fill="none" stroke="#2a0a0a" stroke-width="0.5"/>
<circle cx="108.7" cy="456.8" r="0.95" fill="none" stroke="#2a0a0a" stroke-width="0.5"/>
<circle cx="109.1" cy="456.7" r="0.95" fill="none" stroke="#2a0a0a" stroke-width="0.5"/>
<circle cx="109.5" cy="456.6" r="0.95" fill="none" stroke="#2a0a0a" stroke-width="0.5"/>
<circle cx="109.8" cy="456.6" r="0.95" fill="none" stroke="#2a0a0a" stroke-width="0.5"/>
<circle cx="110.2" cy="456.5" r="0.95" fill="none" stroke="#2a0a0a" stroke-width="0.5"/>
<circle cx="110.6" cy="456.4" r="0.95" fill="none" stroke="#2a0a0a" stroke-width="0.5"/>
<circle cx="110.9" cy="456.4" r="0.95" fill="none" stroke="#2a0a0a" stroke-width="0.5"/>
<circle cx="111.2" cy="456.3" r="0.95" fill="none" stroke="#2a0a0a" stroke-width="0.5"/>
<circle cx="111.6" cy="456.2" r="0.95" fill="none" stroke="#2a0a0a" stroke-width="0.5"/>
<circle cx="111.9" cy="456.2" r="0.95" fill="none" stroke="#2a0a0a" stroke-width="0.5"/>
<circle cx="112.2" cy="456.1" r="0.95" fill="none" stroke="#2a0a0a" stroke-width="0.5"/>
<circle cx="112.5" cy="456.1" r="0.95" fill="none" stroke="#2a0a0a" stroke-width="0.5"/>
<circle cx="112.8" cy="456.0" r="0.95" fill="none" stroke="#2a0a0a" stroke-width="0.5"/>
<circle cx="113.1" cy="455.9" r="0.95" fill="none" stroke="#2a0a0a" stroke-width="0.5"/>
<circle cx="113.5" cy="455.9" r="0.95" fill="none" stroke="#2a0a0a" stroke-width="0.5"/>
<circle cx="113.9" cy="455.8" r="0.95" fill="none" stroke="#2a0a0a" stroke-width="0.5"/>
<circle cx="114.3" cy="455.7" r="0.95" fill="none" stroke="#2a0a0a" stroke-width="0.5"/>
<circle cx="114.7" cy="455.7" r="0.95" fill="none" stroke="#2a0a0a" stroke-width="0.5"/>
<circle cx="115.0" cy="455.6" r="0.95" fill="none" stroke="#2a0a0a" stroke-width="0.5"/>
<circle cx="115.4" cy="455.5" r="0.95" fill="none" stroke="#2a0a0a" stroke-width="0.5"/>
<circle cx="115.7" cy="455.5" r="0.95" fill="none" stroke="#2a0a0a" stroke-width="0.5"/>
<circle cx="116.0" cy="455.4" r="0.95" fill="none" stroke="#2a0a0a" stroke-width="0.5"/>
<circle cx="116.4" cy="455.4" r="0.95" fill="none" stroke="#2a0a0a" stroke-width="0.5"/>
<circle cx="116.7" cy="455.3" r="0.95" fill="none" stroke="#2a0a0a" stroke-width="0.5"/>
<circle cx="117.0" cy="455.2" r="0.95" fill="none" stroke="#2a0a0a" stroke-width="0.5"/>
<circle cx="117.3" cy="455.2" r="0.95" fill="none" stroke="#2a0a0a" stroke-width="0.5"/>
<circle cx="117.6" cy="455.1" r="0.95" fill="none" stroke="#2a0a0a" stroke-width="0.5"/>
<circle cx="118.0" cy="455.1" r="0.95" fill="none" stroke="#2a0a0a" stroke-width="0.5"/>
<circle cx="118.4" cy="455.0" r="0.95" fill="none" stroke="#2a0a0a" stroke-width="0.5"/>
<circle cx="118.7" cy="454.9" r="0.95" fill="none" stroke="#2a0a0a" stroke-width="0.5"/>
<circle cx="119.1" cy="454.9" r="0.95" fill="none" stroke="#2a0a0a" stroke-width="0.5"/>
<circle cx="119.4" cy="454.8" r="0.95" fill="none" stroke="#2a0a0a" stroke-width="0.5"/>
<circle cx="119.7" cy="454.8" r="0.95" fill="none" stroke="#2a0a0a" stroke-width="0.5"/>
<circle cx="120.0" cy="454.7" r="0.95" fill="none" stroke="#2a0a0a" stroke-width="0.5"/>
<line x1="120.40" y1="455.00" x2="120.40" y2="478.60" stroke="#333" stroke-width="0.5" />
<rect x="118.9" y="453.6" width="3" height="3" fill="#fff" stroke="#333" stroke-width="0.5"/>
<circle cx="115.10" cy="467.40" r="2.0" fill="none" stroke="#666" stroke-width="0.55"/>
<text x="115.10" y="468.48" font-size="3.0" font-weight="bold" fill="#666" text-anchor="middle" font-family='"Liberation Sans", Arial, sans-serif'>2</text>
<circle cx="48.70" cy="458.60" r="2.2" fill="none" stroke="#e0604a" stroke-width="0.55"/>
<text x="48.70" y="459.79" font-size="3.3" font-weight="bold" fill="#e0604a" text-anchor="middle" font-family='"Liberation Sans", Arial, sans-serif'>1</text>
<text x="52.60" y="460.60" font-size="5.6" font-weight="bold" fill="#e0604a" font-family='"Liberation Sans", Arial, sans-serif'><tspan> I~V</tspan></text>
<circle cx="92.50" cy="480.30" r="2.2" fill="none" stroke="#3aa03a" stroke-width="0.55"/>
<text x="92.50" y="481.49" font-size="3.3" font-weight="bold" fill="#3aa03a" text-anchor="middle" font-family='"Liberation Sans", Arial, sans-serif'>3</text>
<text x="96.40" y="482.30" font-size="5.6" font-weight="bold" fill="#3aa03a" font-family='"Liberation Sans", Arial, sans-serif'><tspan> I~V</tspan><tspan font-size="3.2" dy="-1.9">3</tspan></text>
<circle cx="60.10" cy="494.80" r="2.2" fill="none" stroke="#e040e0" stroke-width="0.55"/>
<text x="60.10" y="495.99" font-size="3.3" font-weight="bold" fill="#e040e0" text-anchor="middle" font-family='"Liberation Sans", Arial, sans-serif'>4</text>
<text x="64.00" y="496.80" font-size="5.6" font-weight="bold" fill="#e040e0" font-family='"Liberation Sans", Arial, sans-serif'><tspan> I~V</tspan><tspan font-size="3.2" dy="-1.9">2</tspan></text>
<circle cx="37.10" cy="501.30" r="2.2" fill="none" stroke="#4a4ae0" stroke-width="0.55"/>
<text x="37.10" y="502.49" font-size="3.3" font-weight="bold" fill="#4a4ae0" text-anchor="middle" font-family='"Liberation Sans", Arial, sans-serif'>5</text>
<text x="41.00" y="503.30" font-size="5.6" font-weight="bold" fill="#4a4ae0" font-family='"Liberation Sans", Arial, sans-serif'><tspan> I~V</tspan></text>
<text x="161.20" y="345.70" font-size="13.8" font-weight="bold" fill="#000" text-anchor="start" font-family='"Liberation Sans", Arial, sans-serif' font-style="normal" >(f)</text>
<defs>
<pattern id="zz1" x="177" y="379" width="7.4" height="6.6" patternUnits="userSpaceOnUse"><path d="M1.6,0 L5.4,3.3 L1.6,6.6" stroke="#f0a8a8" stroke-width="0.6" fill="none"/></pattern>
<pattern id="zz4" x="297" y="476" width="7.2" height="7.0" patternUnits="userSpaceOnUse"><path d="M1.4,0 L5.6,3.5 L1.4,7.0" stroke="#e46a6a" stroke-width="0.65" fill="none"/></pattern>
</defs>
<path d="M213.4,368.7 L213.4,358.5 L259.6,358.5 L259.6,433.0 L213.4,433.0 L213.4,424.1" stroke="#7a7a7a" stroke-width="0.9" fill="none"/>
<circle cx="259.6" cy="393.8" r="4.9" fill="#fff" stroke="#3a3a3a" stroke-width="0.7"/>
<text x="259.60" y="395.40" font-size="4.4" font-weight="bold" fill="#333" text-anchor="middle" font-family='"Liberation Sans", Arial, sans-serif' font-style="normal" >V</text>
<text x="262.60" y="387.20" font-size="4.6" font-weight="normal" fill="#333" text-anchor="middle" font-family='"Liberation Sans", Arial, sans-serif' font-style="normal" >+</text>
<text x="262.60" y="403.80" font-size="4.6" font-weight="normal" fill="#333" text-anchor="middle" font-family='"Liberation Sans", Arial, sans-serif' font-style="normal" >−</text>
<rect x="176.5" y="379.2" width="73.9" height="33.7" fill="#dedcdc"/>
<rect x="176.5" y="379.2" width="73.9" height="33.7" fill="url(#zz1)" transform="translate(0 0)"/>
<rect x="176.5" y="368.7" width="73.9" height="10.5" fill="#148c40"/>
<rect x="176.5" y="412.9" width="73.9" height="11.2" fill="#17569a"/>
<text x="213.45" y="375.75" font-size="5.0" font-weight="bold" fill="#fff" text-anchor="middle" font-family='"Liberation Sans", Arial, sans-serif' font-style="normal" >Mg Electrode</text>
<text x="213.45" y="420.30" font-size="5.0" font-weight="bold" fill="#fff" text-anchor="middle" font-family='"Liberation Sans", Arial, sans-serif' font-style="normal" >W Electrode</text>
<path d="M333.5,368.7 L333.5,358.5 L379.70000000000005,358.5 L379.70000000000005,433.0 L333.5,433.0 L333.5,424.1" stroke="#7a7a7a" stroke-width="0.9" fill="none"/>
<circle cx="379.70000000000005" cy="393.8" r="4.9" fill="#fff" stroke="#3a3a3a" stroke-width="0.7"/>
<text x="379.70" y="395.40" font-size="4.4" font-weight="bold" fill="#333" text-anchor="middle" font-family='"Liberation Sans", Arial, sans-serif' font-style="normal" >V</text>
<text x="382.70" y="387.20" font-size="4.6" font-weight="normal" fill="#333" text-anchor="middle" font-family='"Liberation Sans", Arial, sans-serif' font-style="normal" >+</text>
<text x="382.70" y="403.80" font-size="4.6" font-weight="normal" fill="#333" text-anchor="middle" font-family='"Liberation Sans", Arial, sans-serif' font-style="normal" >−</text>
<rect x="296.6" y="379.2" width="73.9" height="33.7" fill="#dedcdc"/>
<rect x="296.6" y="379.2" width="73.9" height="33.7" fill="url(#zz1)" transform="translate(0 0)"/>
<rect x="296.6" y="368.7" width="73.9" height="10.5" fill="#148c40"/>
<rect x="296.6" y="412.9" width="73.9" height="11.2" fill="#17569a"/>
<text x="333.55" y="375.75" font-size="5.0" font-weight="bold" fill="#fff" text-anchor="middle" font-family='"Liberation Sans", Arial, sans-serif' font-style="normal" >Mg Electrode</text>
<text x="333.55" y="420.30" font-size="5.0" font-weight="bold" fill="#fff" text-anchor="middle" font-family='"Liberation Sans", Arial, sans-serif' font-style="normal" >W Electrode</text>
<path d="M213.4,465.7 L213.4,455.5 L259.6,455.5 L259.6,530.0 L213.4,530.0 L213.4,521.1" stroke="#7a7a7a" stroke-width="0.9" fill="none"/>
<circle cx="259.6" cy="490.8" r="4.9" fill="#fff" stroke="#3a3a3a" stroke-width="0.7"/>
<text x="259.60" y="492.40" font-size="4.4" font-weight="bold" fill="#333" text-anchor="middle" font-family='"Liberation Sans", Arial, sans-serif' font-style="normal" >V</text>
<text x="262.60" y="484.20" font-size="4.6" font-weight="normal" fill="#333" text-anchor="middle" font-family='"Liberation Sans", Arial, sans-serif' font-style="normal" >+</text>
<text x="262.60" y="500.80" font-size="4.6" font-weight="normal" fill="#333" text-anchor="middle" font-family='"Liberation Sans", Arial, sans-serif' font-style="normal" >−</text>
<rect x="176.5" y="476.2" width="73.9" height="33.7" fill="#dedcdc"/>
<rect x="176.5" y="476.2" width="73.9" height="33.7" fill="url(#zz1)" transform="translate(0 0)"/>
<rect x="176.5" y="465.7" width="73.9" height="10.5" fill="#148c40"/>
<rect x="176.5" y="509.9" width="73.9" height="11.2" fill="#17569a"/>
<text x="213.45" y="472.75" font-size="5.0" font-weight="bold" fill="#fff" text-anchor="middle" font-family='"Liberation Sans", Arial, sans-serif' font-style="normal" >Mg Electrode</text>
<text x="213.45" y="517.30" font-size="5.0" font-weight="bold" fill="#fff" text-anchor="middle" font-family='"Liberation Sans", Arial, sans-serif' font-style="normal" >W Electrode</text>
<path d="M333.5,465.7 L333.5,455.5 L379.70000000000005,455.5 L379.70000000000005,530.0 L333.5,530.0 L333.5,521.1" stroke="#7a7a7a" stroke-width="0.9" fill="none"/>
<circle cx="379.70000000000005" cy="490.8" r="4.9" fill="#fff" stroke="#3a3a3a" stroke-width="0.7"/>
<text x="379.70" y="492.40" font-size="4.4" font-weight="bold" fill="#333" text-anchor="middle" font-family='"Liberation Sans", Arial, sans-serif' font-style="normal" >V</text>
<text x="382.70" y="484.20" font-size="4.6" font-weight="normal" fill="#333" text-anchor="middle" font-family='"Liberation Sans", Arial, sans-serif' font-style="normal" >+</text>
<text x="382.70" y="500.80" font-size="4.6" font-weight="normal" fill="#333" text-anchor="middle" font-family='"Liberation Sans", Arial, sans-serif' font-style="normal" >−</text>
<rect x="296.6" y="476.2" width="73.9" height="33.7" fill="#dedcdc"/>
<rect x="296.6" y="476.2" width="73.9" height="33.7" fill="url(#zz4)" transform="translate(0 0)"/>
<rect x="296.6" y="465.7" width="73.9" height="10.5" fill="#148c40"/>
<rect x="296.6" y="509.9" width="73.9" height="11.2" fill="#17569a"/>
<text x="333.55" y="472.75" font-size="5.0" font-weight="bold" fill="#fff" text-anchor="middle" font-family='"Liberation Sans", Arial, sans-serif' font-style="normal" >Mg Electrode</text>
<text x="333.55" y="517.30" font-size="5.0" font-weight="bold" fill="#fff" text-anchor="middle" font-family='"Liberation Sans", Arial, sans-serif' font-style="normal" >W Electrode</text>
<circle cx="189.2" cy="381.8" r="1.35" fill="#e04a4a"/>
<circle cx="194.2" cy="387.4" r="1.35" fill="#e04a4a"/>
<circle cx="186.9" cy="392.4" r="1.35" fill="#e04a4a"/>
<circle cx="195.7" cy="401.6" r="1.35" fill="#e04a4a"/>
<circle cx="208.5" cy="405" r="1.35" fill="#e04a4a"/>
<circle cx="201.8" cy="381.8" r="1.35" fill="#e04a4a"/>
<circle cx="208.4" cy="385.3" r="1.35" fill="#e04a4a"/>
<circle cx="217" cy="382.9" r="1.35" fill="#e04a4a"/>
<circle cx="228.7" cy="381.8" r="1.35" fill="#e04a4a"/>
<circle cx="236.8" cy="382.6" r="1.35" fill="#e04a4a"/>
<circle cx="232.2" cy="387.1" r="1.35" fill="#e04a4a"/>
<circle cx="200.8" cy="390.5" r="1.35" fill="#e04a4a"/>
<circle cx="215.2" cy="390.2" r="1.35" fill="#e04a4a"/>
<circle cx="223.9" cy="394" r="1.35" fill="#e04a4a"/>
<circle cx="231.2" cy="394" r="1.35" fill="#e04a4a"/>
<circle cx="214.5" cy="399.3" r="1.35" fill="#e04a4a"/>
<circle cx="222.4" cy="404.1" r="1.35" fill="#e04a4a"/>
<circle cx="235.3" cy="403.1" r="1.35" fill="#e04a4a"/>
<circle cx="244" cy="386" r="1.35" fill="#e04a4a"/>
<circle cx="243" cy="398" r="1.35" fill="#e04a4a"/>
<circle cx="180" cy="384" r="1.35" fill="#e04a4a"/>
<circle cx="181" cy="396" r="1.35" fill="#e04a4a"/>
<circle cx="246" cy="408" r="1.35" fill="#e04a4a"/>
<circle cx="200.6" cy="385.3" r="1.3" fill="#2f4fd6"/>
<circle cx="208.2" cy="392.4" r="1.3" fill="#2f4fd6"/>
<circle cx="200.6" cy="396.2" r="1.3" fill="#2f4fd6"/>
<circle cx="187.2" cy="400" r="1.3" fill="#2f4fd6"/>
<circle cx="208.5" cy="397.8" r="1.3" fill="#2f4fd6"/>
<circle cx="201.4" cy="405" r="1.3" fill="#2f4fd6"/>
<circle cx="190.7" cy="410.7" r="1.3" fill="#2f4fd6"/>
<circle cx="203.3" cy="409.9" r="1.3" fill="#2f4fd6"/>
<circle cx="221.6" cy="386.8" r="1.3" fill="#2f4fd6"/>
<circle cx="227.2" cy="390.9" r="1.3" fill="#2f4fd6"/>
<circle cx="237.6" cy="391.4" r="1.3" fill="#2f4fd6"/>
<circle cx="219.6" cy="395" r="1.3" fill="#2f4fd6"/>
<circle cx="231.5" cy="400.8" r="1.3" fill="#2f4fd6"/>
<circle cx="217" cy="406.1" r="1.3" fill="#2f4fd6"/>
<circle cx="214.8" cy="409.9" r="1.3" fill="#2f4fd6"/>
<circle cx="226.9" cy="410.7" r="1.3" fill="#2f4fd6"/>
<circle cx="235.7" cy="410.2" r="1.3" fill="#2f4fd6"/>
<circle cx="244" cy="393" r="1.3" fill="#2f4fd6"/>
<circle cx="180" cy="406" r="1.3" fill="#2f4fd6"/>
<circle cx="243" cy="403" r="1.3" fill="#2f4fd6"/>
<circle cx="308.2" cy="384.5" r="1.9" fill="none" stroke="#e27a7a" stroke-width="0.55"/>
<circle cx="308.2" cy="384.5" r="1.35" fill="#2f4fd6"/>
<circle cx="325.4" cy="384.5" r="1.9" fill="none" stroke="#e27a7a" stroke-width="0.55"/>
<circle cx="334.5" cy="384.5" r="1.9" fill="none" stroke="#e27a7a" stroke-width="0.55"/>
<circle cx="334.5" cy="384.5" r="1.35" fill="#2f4fd6"/>
<circle cx="343.6" cy="384.5" r="1.9" fill="none" stroke="#e27a7a" stroke-width="0.55"/>
<circle cx="351.7" cy="384.5" r="1.9" fill="none" stroke="#e27a7a" stroke-width="0.55"/>
<circle cx="360.8" cy="384.5" r="1.9" fill="none" stroke="#e27a7a" stroke-width="0.55"/>
<circle cx="311.2" cy="391.2" r="1.9" fill="none" stroke="#e27a7a" stroke-width="0.55"/>
<circle cx="318.3" cy="388" r="1.9" fill="none" stroke="#e27a7a" stroke-width="0.55"/>
<circle cx="327.4" cy="391.2" r="1.9" fill="none" stroke="#e27a7a" stroke-width="0.55"/>
<circle cx="336.5" cy="391.2" r="1.9" fill="none" stroke="#e27a7a" stroke-width="0.55"/>
<circle cx="347.6" cy="391.2" r="1.9" fill="none" stroke="#e27a7a" stroke-width="0.55"/>
<circle cx="347.6" cy="391.2" r="1.35" fill="#2f4fd6"/>
<circle cx="355.7" cy="391.2" r="1.9" fill="none" stroke="#e27a7a" stroke-width="0.55"/>
<circle cx="362.8" cy="391.2" r="1.9" fill="none" stroke="#e27a7a" stroke-width="0.55"/>
<circle cx="305.1" cy="397.5" r="1.9" fill="none" stroke="#e27a7a" stroke-width="0.55"/>
<circle cx="305.1" cy="397.5" r="1.35" fill="#2f4fd6"/>
<circle cx="320.3" cy="397" r="1.9" fill="none" stroke="#e27a7a" stroke-width="0.55"/>
<circle cx="320.3" cy="397" r="1.35" fill="#2f4fd6"/>
<circle cx="330.4" cy="398" r="1.9" fill="none" stroke="#e27a7a" stroke-width="0.55"/>
<circle cx="343.6" cy="398" r="1.9" fill="none" stroke="#e27a7a" stroke-width="0.55"/>
<circle cx="353.7" cy="398" r="1.9" fill="none" stroke="#e27a7a" stroke-width="0.55"/>
<circle cx="359.8" cy="399" r="1.9" fill="none" stroke="#e27a7a" stroke-width="0.55"/>
<circle cx="359.8" cy="399" r="1.35" fill="#2f4fd6"/>
<circle cx="306.1" cy="404.3" r="1.9" fill="none" stroke="#e27a7a" stroke-width="0.55"/>
<circle cx="314.2" cy="403" r="1.9" fill="none" stroke="#e27a7a" stroke-width="0.55"/>
<circle cx="323.3" cy="404.3" r="1.9" fill="none" stroke="#e27a7a" stroke-width="0.55"/>
<circle cx="336.5" cy="404.3" r="1.9" fill="none" stroke="#e27a7a" stroke-width="0.55"/>
<circle cx="336.5" cy="404.3" r="1.35" fill="#2f4fd6"/>
<circle cx="348.6" cy="404.3" r="1.9" fill="none" stroke="#e27a7a" stroke-width="0.55"/>
<circle cx="300" cy="389" r="1.9" fill="none" stroke="#e27a7a" stroke-width="0.55"/>
<circle cx="300" cy="395" r="1.9" fill="none" stroke="#e27a7a" stroke-width="0.55"/>
<circle cx="366" cy="397" r="1.9" fill="none" stroke="#e27a7a" stroke-width="0.55"/>
<circle cx="341" cy="404.5" r="1.9" fill="none" stroke="#e27a7a" stroke-width="0.55"/>
<circle cx="304" cy="408.7" r="1.05" fill="#2f4fd6"/>
<circle cx="310" cy="410.1" r="1.05" fill="#2f4fd6"/>
<circle cx="313" cy="407.9" r="1.05" fill="#2f4fd6"/>
<circle cx="317" cy="410.9" r="1.05" fill="#2f4fd6"/>
<circle cx="320" cy="407.9" r="1.05" fill="#2f4fd6"/>
<circle cx="323" cy="410.1" r="1.05" fill="#2f4fd6"/>
<circle cx="329" cy="408.7" r="1.05" fill="#2f4fd6"/>
<circle cx="332" cy="410.1" r="1.05" fill="#2f4fd6"/>
<circle cx="335.5" cy="407.9" r="1.05" fill="#2f4fd6"/>
<circle cx="341.6" cy="410.9" r="1.05" fill="#2f4fd6"/>
<circle cx="347.6" cy="407.9" r="1.05" fill="#2f4fd6"/>
<circle cx="351.7" cy="410.1" r="1.05" fill="#2f4fd6"/>
<circle cx="355.7" cy="408.7" r="1.05" fill="#2f4fd6"/>
<circle cx="359.8" cy="410.1" r="1.05" fill="#2f4fd6"/>
<circle cx="364.8" cy="407.9" r="1.05" fill="#2f4fd6"/>
<circle cx="300" cy="410.9" r="1.05" fill="#2f4fd6"/>
<circle cx="326" cy="407.9" r="1.05" fill="#2f4fd6"/>
<circle cx="338" cy="410.1" r="1.05" fill="#2f4fd6"/>
<circle cx="345" cy="408.7" r="1.05" fill="#2f4fd6"/>
<circle cx="368" cy="410.1" r="1.05" fill="#2f4fd6"/>
<circle cx="180.4" cy="479.6" r="2.25" fill="#dc9cb0"/>
<circle cx="180.4" cy="479.6" r="1.3" fill="#4a44c8"/>
<circle cx="189.6" cy="479.4" r="2.25" fill="#dc9cb0"/>
<circle cx="189.6" cy="479.4" r="1.3" fill="#4a44c8"/>
<circle cx="197.1" cy="479.6" r="2.25" fill="#dc9cb0"/>
<circle cx="197.1" cy="479.6" r="1.3" fill="#4a44c8"/>
<circle cx="204.8" cy="479.5" r="2.25" fill="#dc9cb0"/>
<circle cx="204.8" cy="479.5" r="1.3" fill="#4a44c8"/>
<circle cx="214.0" cy="480.0" r="2.25" fill="#dc9cb0"/>
<circle cx="214.0" cy="480.0" r="1.3" fill="#4a44c8"/>
<circle cx="221.2" cy="479.2" r="2.25" fill="#dc9cb0"/>
<circle cx="221.2" cy="479.2" r="1.3" fill="#4a44c8"/>
<circle cx="229.5" cy="480.0" r="2.25" fill="#dc9cb0"/>
<circle cx="229.5" cy="480.0" r="1.3" fill="#4a44c8"/>
<circle cx="239.0" cy="478.8" r="2.25" fill="#dc9cb0"/>
<circle cx="239.0" cy="478.8" r="1.3" fill="#4a44c8"/>
<circle cx="247.9" cy="480.2" r="2.25" fill="#dc9cb0"/>
<circle cx="247.9" cy="480.2" r="1.3" fill="#4a44c8"/>
<circle cx="184.8" cy="487.0" r="2.25" fill="#dc9cb0"/>
<circle cx="184.8" cy="487.0" r="1.3" fill="#4a44c8"/>
<circle cx="192.1" cy="486.0" r="2.25" fill="#dc9cb0"/>
<circle cx="192.1" cy="486.0" r="1.3" fill="#4a44c8"/>
<circle cx="201.2" cy="486.1" r="2.25" fill="#dc9cb0"/>
<circle cx="201.2" cy="486.1" r="1.3" fill="#4a44c8"/>
<circle cx="208.8" cy="486.4" r="2.25" fill="#dc9cb0"/>
<circle cx="208.8" cy="486.4" r="1.3" fill="#4a44c8"/>
<circle cx="216.8" cy="486.7" r="2.25" fill="#dc9cb0"/>
<circle cx="216.8" cy="486.7" r="1.3" fill="#4a44c8"/>
<circle cx="225.9" cy="487.3" r="2.25" fill="#dc9cb0"/>
<circle cx="225.9" cy="487.3" r="1.3" fill="#4a44c8"/>
<circle cx="234.3" cy="487.0" r="2.25" fill="#dc9cb0"/>
<circle cx="234.3" cy="487.0" r="1.3" fill="#4a44c8"/>
<circle cx="242.6" cy="487.1" r="2.25" fill="#dc9cb0"/>
<circle cx="242.6" cy="487.1" r="1.3" fill="#4a44c8"/>
<circle cx="181.5" cy="494.9" r="2.25" fill="#dc9cb0"/>
<circle cx="181.5" cy="494.9" r="1.3" fill="#4a44c8"/>
<circle cx="189.5" cy="494.4" r="2.25" fill="#dc9cb0"/>
<circle cx="189.5" cy="494.4" r="1.3" fill="#4a44c8"/>
<circle cx="196.7" cy="493.7" r="2.25" fill="#dc9cb0"/>
<circle cx="196.7" cy="493.7" r="1.3" fill="#4a44c8"/>
<circle cx="205.0" cy="493.4" r="2.25" fill="#dc9cb0"/>
<circle cx="205.0" cy="493.4" r="1.3" fill="#4a44c8"/>
<circle cx="214.2" cy="493.9" r="2.25" fill="#dc9cb0"/>
<circle cx="214.2" cy="493.9" r="1.3" fill="#4a44c8"/>
<circle cx="222.7" cy="493.9" r="2.25" fill="#dc9cb0"/>
<circle cx="222.7" cy="493.9" r="1.3" fill="#4a44c8"/>
<circle cx="231.2" cy="494.7" r="2.25" fill="#dc9cb0"/>
<circle cx="231.2" cy="494.7" r="1.3" fill="#4a44c8"/>
<circle cx="237.6" cy="493.6" r="2.25" fill="#dc9cb0"/>
<circle cx="237.6" cy="493.6" r="1.3" fill="#4a44c8"/>
<circle cx="247.7" cy="494.1" r="2.25" fill="#dc9cb0"/>
<circle cx="247.7" cy="494.1" r="1.3" fill="#4a44c8"/>
<circle cx="185.5" cy="501.2" r="2.25" fill="#dc9cb0"/>
<circle cx="185.5" cy="501.2" r="1.3" fill="#4a44c8"/>
<circle cx="191.9" cy="501.6" r="2.25" fill="#dc9cb0"/>
<circle cx="191.9" cy="501.6" r="1.3" fill="#4a44c8"/>
<circle cx="201.7" cy="501.0" r="2.25" fill="#dc9cb0"/>
<circle cx="201.7" cy="501.0" r="1.3" fill="#4a44c8"/>
<circle cx="208.6" cy="501.1" r="2.25" fill="#dc9cb0"/>
<circle cx="208.6" cy="501.1" r="1.3" fill="#4a44c8"/>
<circle cx="218.6" cy="501.8" r="2.25" fill="#dc9cb0"/>
<circle cx="218.6" cy="501.8" r="1.3" fill="#4a44c8"/>
<circle cx="225.2" cy="501.0" r="2.25" fill="#dc9cb0"/>
<circle cx="225.2" cy="501.0" r="1.3" fill="#4a44c8"/>
<circle cx="233.5" cy="500.7" r="2.25" fill="#dc9cb0"/>
<circle cx="233.5" cy="500.7" r="1.3" fill="#4a44c8"/>
<circle cx="243.2" cy="500.9" r="2.25" fill="#dc9cb0"/>
<circle cx="243.2" cy="500.9" r="1.3" fill="#4a44c8"/>
<circle cx="247.6" cy="503.1" r="1.05" fill="#2f4fd6"/>
<circle cx="183.7" cy="501.6" r="1.05" fill="#2f4fd6"/>
<circle cx="188.9" cy="497.9" r="1.05" fill="#2f4fd6"/>
<circle cx="194.5" cy="495.5" r="1.05" fill="#2f4fd6"/>
<circle cx="202.1" cy="504.3" r="1.05" fill="#2f4fd6"/>
<circle cx="205.4" cy="505.6" r="1.05" fill="#2f4fd6"/>
<circle cx="210.4" cy="497.5" r="1.05" fill="#2f4fd6"/>
<circle cx="217.7" cy="501.6" r="1.05" fill="#2f4fd6"/>
<circle cx="220.7" cy="507.3" r="1.05" fill="#2f4fd6"/>
<circle cx="226.3" cy="495.3" r="1.05" fill="#2f4fd6"/>
<circle cx="233.3" cy="496.4" r="1.05" fill="#2f4fd6"/>
<circle cx="237.2" cy="492.2" r="1.05" fill="#2f4fd6"/>
<circle cx="241.9" cy="500.6" r="1.05" fill="#2f4fd6"/>
<circle cx="247.6" cy="500.9" r="1.05" fill="#2f4fd6"/>
<circle cx="184.3" cy="498.5" r="1.05" fill="#2f4fd6"/>
<circle cx="191.4" cy="499.0" r="1.05" fill="#2f4fd6"/>
<circle cx="195.5" cy="505.3" r="1.05" fill="#2f4fd6"/>
<circle cx="199.6" cy="493.5" r="1.05" fill="#2f4fd6"/>
<circle cx="207.1" cy="504.5" r="1.05" fill="#2f4fd6"/>
<circle cx="210.4" cy="494.1" r="1.05" fill="#2f4fd6"/>
<circle cx="217.2" cy="506.5" r="1.05" fill="#2f4fd6"/>
<circle cx="220.9" cy="506.7" r="1.05" fill="#2f4fd6"/>
<circle cx="228.2" cy="501.0" r="1.05" fill="#2f4fd6"/>
<circle cx="232.2" cy="492.7" r="1.05" fill="#2f4fd6"/>
<circle cx="236.3" cy="506.9" r="1.05" fill="#2f4fd6"/>
<circle cx="242.2" cy="502.6" r="1.05" fill="#2f4fd6"/>
<circle cx="320.2" cy="479.0" r="1.35" fill="#2f4fd6"/>
<circle cx="325.0" cy="478.6" r="1.35" fill="#2aa84a"/>
<circle cx="330.5" cy="479.2" r="1.35" fill="#2f4fd6"/>
<circle cx="335.8" cy="479.5" r="1.35" fill="#2aa84a"/>
<circle cx="322.8" cy="482.6" r="1.35" fill="#2aa84a"/>
<circle cx="328.0" cy="482.6" r="1.35" fill="#2f4fd6"/>
<circle cx="333.4" cy="483.0" r="1.35" fill="#2aa84a"/>
<circle cx="338.2" cy="482.4" r="1.35" fill="#2aa84a"/>
<circle cx="325.4" cy="486.3" r="1.35" fill="#2aa84a"/>
<circle cx="330.6" cy="486.6" r="1.35" fill="#2aa84a"/>
<circle cx="336.0" cy="486.4" r="1.35" fill="#2f4fd6"/>
<circle cx="327.6" cy="490.0" r="1.35" fill="#2aa84a"/>
<circle cx="332.6" cy="490.6" r="1.35" fill="#2aa84a"/>
<circle cx="326.2" cy="493.8" r="1.35" fill="#2f4fd6"/>
<circle cx="331.4" cy="494.0" r="1.35" fill="#2aa84a"/>
<circle cx="328.6" cy="497.4" r="1.35" fill="#2aa84a"/>
<circle cx="333.2" cy="497.8" r="1.35" fill="#2f4fd6"/>
<circle cx="327.0" cy="501.0" r="1.35" fill="#2aa84a"/>
<circle cx="331.6" cy="501.4" r="1.35" fill="#2aa84a"/>
<circle cx="329.2" cy="504.8" r="1.35" fill="#2f4fd6"/>
<circle cx="333.4" cy="505.2" r="1.35" fill="#2aa84a"/>
<circle cx="329.0" cy="508.0" r="1.35" fill="#2aa84a"/>
<text x="161.60" y="390.60" font-size="4.7" font-weight="bold" fill="#3a3ad0" text-anchor="start" font-family='"Liberation Sans", Arial, sans-serif' font-style="normal" >Thermal</text>
<text x="161.60" y="397.60" font-size="4.7" font-weight="bold" fill="#3a3ad0" text-anchor="start" font-family='"Liberation Sans", Arial, sans-serif' font-style="normal" >excitation</text>
<text x="161.60" y="404.30" font-size="4.7" font-weight="bold" fill="#3a3ad0" text-anchor="start" font-family='"Liberation Sans", Arial, sans-serif' font-style="normal" >carriers</text>
<line x1="182.40" y1="389.40" x2="187.40" y2="384.00" stroke="#3a3ad0" stroke-width="0.6" />
<line x1="181.60" y1="402.00" x2="189.60" y2="409.60" stroke="#3a3ad0" stroke-width="0.6" />
<text x="281.50" y="389.00" font-size="4.7" font-weight="bold" fill="#d83a3a" text-anchor="start" font-family='"Liberation Sans", Arial, sans-serif' font-style="normal" >Traps</text>
<line x1="295.00" y1="388.00" x2="300.00" y2="386.00" stroke="#d83a3a" stroke-width="0.6" />
<text x="281.50" y="404.20" font-size="4.7" font-weight="bold" fill="#3a3ad0" text-anchor="start" font-family='"Liberation Sans", Arial, sans-serif' font-style="normal" >Space</text>
<text x="281.50" y="410.00" font-size="4.7" font-weight="bold" fill="#3a3ad0" text-anchor="start" font-family='"Liberation Sans", Arial, sans-serif' font-style="normal" >charges</text>
<line x1="296.00" y1="404.50" x2="301.00" y2="407.50" stroke="#3a3ad0" stroke-width="0.6" />
<text x="162.20" y="484.70" font-size="4.7" font-weight="bold" fill="#d83a3a" text-anchor="start" font-family='"Liberation Sans", Arial, sans-serif' font-style="normal" >Traps</text>
<line x1="175.60" y1="483.50" x2="180.50" y2="481.50" stroke="#d83a3a" stroke-width="0.6" />
<text x="162.20" y="501.40" font-size="4.7" font-weight="bold" fill="#3a3ad0" text-anchor="start" font-family='"Liberation Sans", Arial, sans-serif' font-style="normal" >Space</text>
<text x="162.20" y="507.50" font-size="4.7" font-weight="bold" fill="#3a3ad0" text-anchor="start" font-family='"Liberation Sans", Arial, sans-serif' font-style="normal" >charges</text>
<line x1="176.00" y1="501.00" x2="181.00" y2="505.00" stroke="#3a3ad0" stroke-width="0.6" />
<text x="285.20" y="484.00" font-size="4.7" font-weight="bold" fill="#d83a3a" text-anchor="start" font-family='"Liberation Sans", Arial, sans-serif' font-style="normal" >Metallic</text>
<text x="285.20" y="490.40" font-size="4.7" font-weight="bold" fill="#d83a3a" text-anchor="start" font-family='"Liberation Sans", Arial, sans-serif' font-style="normal" >filament</text>
<line x1="306.00" y1="484.00" x2="319.00" y2="482.50" stroke="#d83a3a" stroke-width="0.6" />
<text x="285.20" y="501.50" font-size="4.7" font-weight="bold" fill="#3a3ad0" text-anchor="start" font-family='"Liberation Sans", Arial, sans-serif' font-style="normal" >Free</text>
<text x="285.20" y="507.90" font-size="4.7" font-weight="bold" fill="#3a3ad0" text-anchor="start" font-family='"Liberation Sans", Arial, sans-serif' font-style="normal" >electrons</text>
<line x1="305.00" y1="501.50" x2="326.50" y2="506.50" stroke="#3a3ad0" stroke-width="0.6" />
<text x="175.4" y="443.70" font-size="8.4" font-weight="bold" fill="#222" font-family='"Liberation Sans", Arial, sans-serif'>1.</text>
<text x="183.4" y="442.90" font-size="5.8" font-weight="bold" fill="#222" font-family='"Liberation Sans", Arial, sans-serif' textLength="57.8" lengthAdjust="spacingAndGlyphs">Ohmic conduction</text>
<text x="297.4" y="442.90" font-size="8.4" font-weight="bold" fill="#222" font-family='"Liberation Sans", Arial, sans-serif'>2.</text>
<text x="303.3" y="442.10" font-size="5.8" font-weight="bold" fill="#222" font-family='"Liberation Sans", Arial, sans-serif' textLength="72.9" lengthAdjust="spacingAndGlyphs">Trap-filled-limited SCLC</text>
<text x="183.0" y="541.50" font-size="8.4" font-weight="bold" fill="#222" font-family='"Liberation Sans", Arial, sans-serif'>3.</text>
<text x="191.0" y="540.70" font-size="5.8" font-weight="bold" fill="#222" font-family='"Liberation Sans", Arial, sans-serif' textLength="47.1" lengthAdjust="spacingAndGlyphs">Trap-free SCLC</text>
<text x="286.9" y="542.10" font-size="8.4" font-weight="bold" fill="#222" font-family='"Liberation Sans", Arial, sans-serif'>4.</text>
<text x="293.0" y="541.30" font-size="5.8" font-weight="bold" fill="#222" font-family='"Liberation Sans", Arial, sans-serif' textLength="99.2" lengthAdjust="spacingAndGlyphs">Conductive filament conduction</text>
</svg></body></html>
